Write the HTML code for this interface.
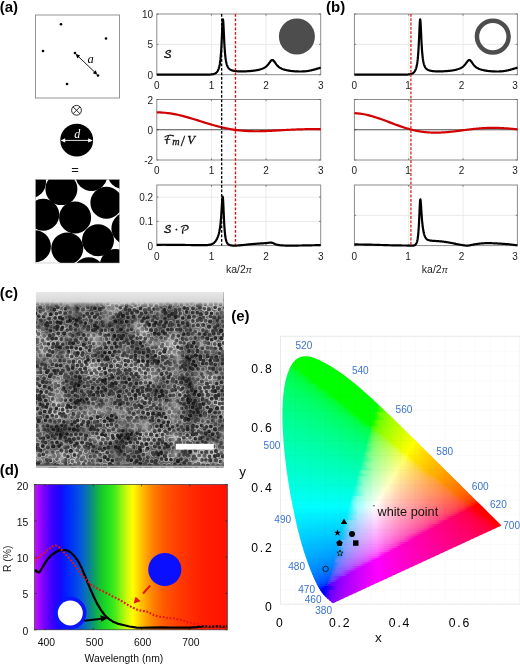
<!DOCTYPE html>
<html lang="en"><head><meta charset="utf-8"><title>Figure</title>
<style>html,body{margin:0;padding:0;background:#fff}svg{display:block}</style></head>
<body>
<svg width="520" height="665" viewBox="0 0 520 665">
<rect width="520" height="665" fill="#fff"/>
<rect x="156.8" y="14" width="163.9" height="60.7" fill="#fff"/>
<line x1="211.43" y1="14" x2="211.43" y2="74.7" stroke="#e4e4e4" stroke-width="0.8"/>
<line x1="266.07" y1="14" x2="266.07" y2="74.7" stroke="#e4e4e4" stroke-width="0.8"/>
<line x1="156.8" y1="44.35" x2="320.7" y2="44.35" stroke="#e4e4e4" stroke-width="0.8"/>
<rect x="156.8" y="14" width="163.9" height="60.7" fill="none" stroke="#8c8c8c" stroke-width="1"/>
<path d="M211.43 74.7v-1.7M211.43 14v1.7" stroke="#555" stroke-width="0.7"/>
<path d="M266.07 74.7v-1.7M266.07 14v1.7" stroke="#555" stroke-width="0.7"/>
<path d="M156.8 74.7h1.7M320.7 74.7h-1.7" stroke="#555" stroke-width="0.7"/>
<path d="M156.8 44.35h1.7M320.7 44.35h-1.7" stroke="#555" stroke-width="0.7"/>
<path d="M156.8 14h1.7M320.7 14h-1.7" stroke="#555" stroke-width="0.7"/>
<path d="M156.8 74.69 L159.53 74.69 L162.26 74.68 L165 74.68 L167.73 74.68 L170.46 74.68 L173.19 74.68 L175.92 74.68 L178.65 74.68 L181.39 74.68 L184.12 74.68 L186.85 74.68 L189.58 74.68 L192.31 74.68 L195.04 74.67 L197.78 74.67 L200.51 74.67 L203.24 74.66 L205.97 74.64 L206.24 74.64 L206.52 74.64 L206.79 74.63 L207.06 74.63 L207.34 74.62 L207.61 74.62 L207.88 74.61 L208.16 74.61 L208.43 74.6 L208.7 74.59 L208.97 74.58 L209.25 74.57 L209.52 74.56 L209.79 74.55 L210.07 74.54 L210.34 74.52 L210.61 74.5 L210.89 74.48 L211.16 74.46 L211.43 74.43 L211.71 74.4 L211.98 74.36 L212.25 74.33 L212.53 74.28 L212.8 74.23 L213.07 74.18 L213.35 74.11 L213.62 74.04 L213.89 73.96 L214.17 73.87 L214.44 73.77 L214.71 73.65 L214.98 73.52 L215.26 73.38 L215.53 73.21 L215.8 73.03 L216.08 72.82 L216.35 72.58 L216.62 72.32 L216.9 72.01 L217.17 71.67 L217.44 71.28 L217.72 70.84 L217.99 70.34 L218.26 69.75 L218.54 69.08 L218.81 68.3 L219.08 67.39 L219.36 66.32 L219.63 65.04 L219.9 63.51 L220.17 61.67 L220.45 59.43 L220.72 56.68 L220.99 53.32 L221.27 49.2 L221.54 44.24 L221.81 38.45 L222.09 32.14 L222.36 26.03 L222.63 21.33 L222.91 19.33 L223.18 20.62 L223.45 24.7 L223.73 30.33 L224 36.3 L224.27 41.85 L224.55 46.64 L224.82 50.64 L225.09 53.91 L225.36 56.58 L225.64 58.75 L225.91 60.53 L226.18 61.99 L226.46 63.2 L226.73 64.22 L227 65.07 L227.28 65.8 L227.55 66.42 L227.82 66.96 L228.1 67.42 L228.37 67.82 L228.64 68.17 L228.92 68.48 L229.19 68.76 L229.46 69 L229.74 69.22 L230.01 69.41 L230.28 69.59 L230.56 69.75 L230.83 69.89 L231.1 70.02 L231.37 70.14 L231.65 70.24 L231.92 70.34 L232.19 70.43 L232.47 70.51 L232.74 70.59 L233.01 70.66 L233.29 70.72 L233.56 70.78 L233.83 70.83 L234.11 70.88 L234.38 70.93 L234.65 70.97 L234.93 71.01 L235.2 71.05 L235.47 71.08 L235.75 71.12 L236.02 71.15 L236.29 71.17 L236.56 71.2 L236.84 71.22 L237.11 71.24 L237.38 71.26 L237.66 71.28 L237.93 71.29 L238.2 71.31 L238.48 71.32 L238.75 71.33 L239.02 71.35 L239.3 71.35 L239.57 71.36 L239.84 71.37 L240.12 71.38 L240.39 71.38 L240.66 71.39 L240.94 71.39 L241.21 71.39 L241.48 71.39 L241.75 71.39 L242.03 71.39 L242.3 71.39 L242.57 71.39 L242.85 71.39 L243.12 71.38 L243.39 71.38 L243.67 71.37 L243.94 71.37 L244.21 71.36 L244.9 71.34 L245.58 71.32 L246.26 71.29 L246.94 71.26 L247.63 71.22 L248.31 71.18 L248.99 71.13 L249.68 71.08 L250.36 71.03 L251.04 70.96 L251.73 70.9 L252.41 70.82 L253.09 70.75 L253.77 70.66 L254.46 70.57 L255.14 70.47 L255.82 70.36 L256.51 70.24 L257.19 70.11 L257.87 69.97 L258.55 69.82 L259.24 69.65 L259.92 69.47 L260.6 69.28 L261.29 69.06 L261.97 68.81 L262.65 68.54 L263.34 68.24 L264.02 67.9 L264.7 67.51 L265.38 67.07 L266.07 66.56 L266.75 65.97 L267.43 65.29 L268.12 64.52 L268.8 63.65 L269.48 62.72 L270.16 61.77 L270.85 60.92 L271.53 60.29 L272.21 60.01 L272.9 60.15 L273.58 60.68 L274.26 61.49 L274.94 62.44 L275.63 63.41 L276.31 64.33 L276.99 65.17 L277.68 65.9 L278.36 66.54 L279.04 67.09 L279.73 67.58 L280.41 67.99 L281.09 68.36 L281.77 68.68 L282.46 68.97 L283.14 69.23 L283.82 69.46 L284.51 69.66 L285.19 69.85 L285.87 70.02 L286.55 70.18 L287.24 70.32 L287.92 70.45 L288.6 70.57 L289.29 70.68 L289.97 70.79 L290.65 70.88 L291.33 70.97 L292.02 71.04 L292.7 71.12 L293.38 71.18 L294.07 71.24 L294.75 71.29 L295.43 71.34 L296.12 71.38 L296.8 71.42 L297.48 71.45 L298.16 71.47 L298.85 71.48 L299.53 71.49 L300.21 71.49 L300.9 71.49 L301.58 71.48 L302.26 71.46 L302.94 71.43 L303.63 71.39 L304.31 71.34 L304.99 71.29 L305.68 71.22 L306.36 71.15 L307.04 71.06 L307.72 70.97 L308.41 70.86 L309.09 70.75 L309.77 70.62 L310.46 70.48 L311.14 70.34 L311.82 70.18 L312.5 70.02 L313.19 69.84 L313.87 69.66 L314.55 69.47 L315.24 69.28 L315.92 69.08 L316.6 68.88 L317.29 68.67 L317.97 68.47 L318.65 68.27 L319.33 68.07 L320.02 67.87 L320.7 67.68" fill="none" stroke="#000" stroke-width="2.2" stroke-linejoin="round"/>
<text x="156.8" y="88.6" font-size="10" text-anchor="middle" font-family='"Liberation Sans", "DejaVu Sans", sans-serif' fill="#1c1c1c" >0</text>
<text x="211.43" y="88.6" font-size="10" text-anchor="middle" font-family='"Liberation Sans", "DejaVu Sans", sans-serif' fill="#1c1c1c" >1</text>
<text x="266.07" y="88.6" font-size="10" text-anchor="middle" font-family='"Liberation Sans", "DejaVu Sans", sans-serif' fill="#1c1c1c" >2</text>
<text x="320.7" y="88.6" font-size="10" text-anchor="middle" font-family='"Liberation Sans", "DejaVu Sans", sans-serif' fill="#1c1c1c" >3</text>
<text x="153.1" y="78.7" font-size="10" text-anchor="end" font-family='"Liberation Sans", "DejaVu Sans", sans-serif' fill="#1c1c1c" >0</text>
<text x="153.1" y="48.35" font-size="10" text-anchor="end" font-family='"Liberation Sans", "DejaVu Sans", sans-serif' fill="#1c1c1c" >5</text>
<text x="153.1" y="18" font-size="10" text-anchor="end" font-family='"Liberation Sans", "DejaVu Sans", sans-serif' fill="#1c1c1c" >10</text>
<rect x="156.8" y="99.5" width="163.9" height="60.5" fill="#fff"/>
<line x1="211.43" y1="99.5" x2="211.43" y2="160" stroke="#e4e4e4" stroke-width="0.8"/>
<line x1="266.07" y1="99.5" x2="266.07" y2="160" stroke="#e4e4e4" stroke-width="0.8"/>
<line x1="156.8" y1="129.75" x2="320.7" y2="129.75" stroke="#e4e4e4" stroke-width="0.8"/>
<rect x="156.8" y="99.5" width="163.9" height="60.5" fill="none" stroke="#8c8c8c" stroke-width="1"/>
<path d="M211.43 160v-1.7M211.43 99.5v1.7" stroke="#555" stroke-width="0.7"/>
<path d="M266.07 160v-1.7M266.07 99.5v1.7" stroke="#555" stroke-width="0.7"/>
<path d="M156.8 160h1.7M320.7 160h-1.7" stroke="#555" stroke-width="0.7"/>
<path d="M156.8 129.75h1.7M320.7 129.75h-1.7" stroke="#555" stroke-width="0.7"/>
<path d="M156.8 99.5h1.7M320.7 99.5h-1.7" stroke="#555" stroke-width="0.7"/>
<line x1="156.8" y1="129.75" x2="320.7" y2="129.75" stroke="#111" stroke-width="0.7"/>
<path d="M156.8 112.36 L159.53 112.4 L162.26 112.53 L165 112.74 L167.73 113.04 L170.46 113.42 L173.19 113.87 L175.92 114.4 L178.65 114.99 L181.39 115.64 L184.12 116.34 L186.85 117.08 L189.58 117.87 L192.31 118.68 L195.04 119.52 L197.78 120.37 L200.51 121.23 L203.24 122.09 L205.97 122.94 L206.24 123.02 L206.52 123.1 L206.79 123.19 L207.06 123.27 L207.34 123.35 L207.61 123.44 L207.88 123.52 L208.16 123.6 L208.43 123.69 L208.7 123.77 L208.97 123.85 L209.25 123.93 L209.52 124.01 L209.79 124.09 L210.07 124.17 L210.34 124.26 L210.61 124.34 L210.89 124.42 L211.16 124.5 L211.43 124.58 L211.71 124.66 L211.98 124.73 L212.25 124.81 L212.53 124.89 L212.8 124.97 L213.07 125.05 L213.35 125.12 L213.62 125.2 L213.89 125.28 L214.17 125.35 L214.44 125.43 L214.71 125.51 L214.98 125.58 L215.26 125.66 L215.53 125.73 L215.8 125.81 L216.08 125.88 L216.35 125.95 L216.62 126.03 L216.9 126.1 L217.17 126.17 L217.44 126.24 L217.72 126.31 L217.99 126.38 L218.26 126.46 L218.54 126.53 L218.81 126.6 L219.08 126.66 L219.36 126.73 L219.63 126.8 L219.9 126.87 L220.17 126.94 L220.45 127 L220.72 127.07 L220.99 127.14 L221.27 127.2 L221.54 127.27 L221.81 127.33 L222.09 127.4 L222.36 127.46 L222.63 127.52 L222.91 127.59 L223.18 127.65 L223.45 127.71 L223.73 127.77 L224 127.83 L224.27 127.89 L224.55 127.95 L224.82 128.01 L225.09 128.07 L225.36 128.13 L225.64 128.19 L225.91 128.24 L226.18 128.3 L226.46 128.36 L226.73 128.41 L227 128.47 L227.28 128.52 L227.55 128.58 L227.82 128.63 L228.1 128.68 L228.37 128.74 L228.64 128.79 L228.92 128.84 L229.19 128.89 L229.46 128.94 L229.74 128.99 L230.01 129.04 L230.28 129.09 L230.56 129.13 L230.83 129.18 L231.1 129.23 L231.37 129.28 L231.65 129.32 L231.92 129.37 L232.19 129.41 L232.47 129.46 L232.74 129.5 L233.01 129.54 L233.29 129.58 L233.56 129.63 L233.83 129.67 L234.11 129.71 L234.38 129.75 L234.65 129.79 L234.93 129.83 L235.2 129.87 L235.47 129.9 L235.75 129.94 L236.02 129.98 L236.29 130.01 L236.56 130.05 L236.84 130.09 L237.11 130.12 L237.38 130.15 L237.66 130.19 L237.93 130.22 L238.2 130.25 L238.48 130.28 L238.75 130.32 L239.02 130.35 L239.3 130.38 L239.57 130.41 L239.84 130.44 L240.12 130.46 L240.39 130.49 L240.66 130.52 L240.94 130.55 L241.21 130.57 L241.48 130.6 L241.75 130.62 L242.03 130.65 L242.3 130.67 L242.57 130.7 L242.85 130.72 L243.12 130.74 L243.39 130.76 L243.67 130.78 L243.94 130.81 L244.21 130.83 L244.9 130.87 L245.58 130.92 L246.26 130.96 L246.94 131 L247.63 131.04 L248.31 131.07 L248.99 131.1 L249.68 131.13 L250.36 131.15 L251.04 131.17 L251.73 131.19 L252.41 131.21 L253.09 131.22 L253.77 131.23 L254.46 131.24 L255.14 131.25 L255.82 131.25 L256.51 131.25 L257.19 131.25 L257.87 131.24 L258.55 131.24 L259.24 131.23 L259.92 131.22 L260.6 131.21 L261.29 131.19 L261.97 131.17 L262.65 131.16 L263.34 131.14 L264.02 131.12 L264.7 131.09 L265.38 131.07 L266.07 131.04 L266.75 131.02 L267.43 130.99 L268.12 130.96 L268.8 130.93 L269.48 130.89 L270.16 130.86 L270.85 130.83 L271.53 130.79 L272.21 130.76 L272.9 130.72 L273.58 130.68 L274.26 130.65 L274.94 130.61 L275.63 130.57 L276.31 130.53 L276.99 130.49 L277.68 130.45 L278.36 130.41 L279.04 130.37 L279.73 130.33 L280.41 130.29 L281.09 130.25 L281.77 130.21 L282.46 130.17 L283.14 130.13 L283.82 130.1 L284.51 130.06 L285.19 130.02 L285.87 129.98 L286.55 129.94 L287.24 129.9 L287.92 129.87 L288.6 129.83 L289.29 129.8 L289.97 129.76 L290.65 129.73 L291.33 129.69 L292.02 129.66 L292.7 129.63 L293.38 129.6 L294.07 129.57 L294.75 129.54 L295.43 129.51 L296.12 129.48 L296.8 129.46 L297.48 129.43 L298.16 129.41 L298.85 129.38 L299.53 129.36 L300.21 129.34 L300.9 129.32 L301.58 129.3 L302.26 129.28 L302.94 129.26 L303.63 129.25 L304.31 129.23 L304.99 129.22 L305.68 129.2 L306.36 129.19 L307.04 129.18 L307.72 129.17 L308.41 129.16 L309.09 129.16 L309.77 129.15 L310.46 129.14 L311.14 129.14 L311.82 129.14 L312.5 129.13 L313.19 129.13 L313.87 129.13 L314.55 129.13 L315.24 129.13 L315.92 129.14 L316.6 129.14 L317.29 129.14 L317.97 129.15 L318.65 129.15 L319.33 129.16 L320.02 129.17 L320.7 129.18" fill="none" stroke="#d40000" stroke-width="2.2" stroke-linejoin="round"/>
<text x="156.8" y="173.9" font-size="10" text-anchor="middle" font-family='"Liberation Sans", "DejaVu Sans", sans-serif' fill="#1c1c1c" >0</text>
<text x="211.43" y="173.9" font-size="10" text-anchor="middle" font-family='"Liberation Sans", "DejaVu Sans", sans-serif' fill="#1c1c1c" >1</text>
<text x="266.07" y="173.9" font-size="10" text-anchor="middle" font-family='"Liberation Sans", "DejaVu Sans", sans-serif' fill="#1c1c1c" >2</text>
<text x="320.7" y="173.9" font-size="10" text-anchor="middle" font-family='"Liberation Sans", "DejaVu Sans", sans-serif' fill="#1c1c1c" >3</text>
<text x="153.1" y="164" font-size="10" text-anchor="end" font-family='"Liberation Sans", "DejaVu Sans", sans-serif' fill="#1c1c1c" >-2</text>
<text x="153.1" y="133.75" font-size="10" text-anchor="end" font-family='"Liberation Sans", "DejaVu Sans", sans-serif' fill="#1c1c1c" >0</text>
<text x="153.1" y="103.5" font-size="10" text-anchor="end" font-family='"Liberation Sans", "DejaVu Sans", sans-serif' fill="#1c1c1c" >2</text>
<rect x="156.8" y="185" width="163.9" height="60.6" fill="#fff"/>
<line x1="211.43" y1="185" x2="211.43" y2="245.6" stroke="#e4e4e4" stroke-width="0.8"/>
<line x1="266.07" y1="185" x2="266.07" y2="245.6" stroke="#e4e4e4" stroke-width="0.8"/>
<line x1="156.8" y1="221.36" x2="320.7" y2="221.36" stroke="#e4e4e4" stroke-width="0.8"/>
<line x1="156.8" y1="197.12" x2="320.7" y2="197.12" stroke="#e4e4e4" stroke-width="0.8"/>
<rect x="156.8" y="185" width="163.9" height="60.6" fill="none" stroke="#8c8c8c" stroke-width="1"/>
<path d="M211.43 245.6v-1.7M211.43 185v1.7" stroke="#555" stroke-width="0.7"/>
<path d="M266.07 245.6v-1.7M266.07 185v1.7" stroke="#555" stroke-width="0.7"/>
<path d="M156.8 245.6h1.7M320.7 245.6h-1.7" stroke="#555" stroke-width="0.7"/>
<path d="M156.8 221.36h1.7M320.7 221.36h-1.7" stroke="#555" stroke-width="0.7"/>
<path d="M156.8 197.12h1.7M320.7 197.12h-1.7" stroke="#555" stroke-width="0.7"/>
<path d="M156.8 244.79 L159.53 244.78 L162.26 244.77 L165 244.77 L167.73 244.78 L170.46 244.79 L173.19 244.81 L175.92 244.84 L178.65 244.87 L181.39 244.9 L184.12 244.94 L186.85 244.98 L189.58 245.02 L192.31 245.06 L195.04 245.1 L197.78 245.13 L200.51 245.16 L203.24 245.16 L205.97 245.1 L206.24 245.09 L206.52 245.08 L206.79 245.06 L207.06 245.05 L207.34 245.03 L207.61 245.01 L207.88 244.98 L208.16 244.95 L208.43 244.92 L208.7 244.89 L208.97 244.85 L209.25 244.81 L209.52 244.76 L209.79 244.71 L210.07 244.65 L210.34 244.59 L210.61 244.52 L210.89 244.44 L211.16 244.35 L211.43 244.26 L211.71 244.15 L211.98 244.04 L212.25 243.91 L212.53 243.77 L212.8 243.62 L213.07 243.46 L213.35 243.28 L213.62 243.08 L213.89 242.87 L214.17 242.63 L214.44 242.38 L214.71 242.11 L214.98 241.81 L215.26 241.5 L215.53 241.15 L215.8 240.78 L216.08 240.38 L216.35 239.95 L216.62 239.48 L216.9 238.97 L217.17 238.42 L217.44 237.82 L217.72 237.17 L217.99 236.46 L218.26 235.67 L218.54 234.79 L218.81 233.82 L219.08 232.72 L219.36 231.48 L219.63 230.07 L219.9 228.43 L220.17 226.53 L220.45 224.3 L220.72 221.68 L220.99 218.59 L221.27 214.98 L221.54 210.88 L221.81 206.41 L222.09 202 L222.36 198.4 L222.63 196.67 L222.91 197.65 L223.18 201.43 L223.45 207.13 L223.73 213.48 L224 219.49 L224.27 224.64 L224.55 228.84 L224.82 232.16 L225.09 234.76 L225.36 236.79 L225.64 238.39 L225.91 239.65 L226.18 240.66 L226.46 241.47 L226.73 242.13 L227 242.67 L227.28 243.12 L227.55 243.49 L227.82 243.8 L228.1 244.07 L228.37 244.29 L228.64 244.48 L228.92 244.64 L229.19 244.79 L229.46 244.91 L229.74 245.01 L230.01 245.1 L230.28 245.18 L230.56 245.25 L230.83 245.31 L231.1 245.36 L231.37 245.41 L231.65 245.45 L231.92 245.48 L232.19 245.51 L232.47 245.53 L232.74 245.55 L233.01 245.57 L233.29 245.58 L233.56 245.59 L233.83 245.6 L234.11 245.6 L234.38 245.6 L234.65 245.6 L234.93 245.6 L235.2 245.59 L235.47 245.58 L235.75 245.58 L236.02 245.57 L236.29 245.55 L236.56 245.54 L236.84 245.53 L237.11 245.51 L237.38 245.5 L237.66 245.48 L237.93 245.46 L238.2 245.44 L238.48 245.42 L238.75 245.4 L239.02 245.38 L239.3 245.36 L239.57 245.33 L239.84 245.31 L240.12 245.29 L240.39 245.26 L240.66 245.24 L240.94 245.21 L241.21 245.19 L241.48 245.16 L241.75 245.13 L242.03 245.11 L242.3 245.08 L242.57 245.05 L242.85 245.02 L243.12 245 L243.39 244.97 L243.67 244.94 L243.94 244.91 L244.21 244.88 L244.9 244.81 L245.58 244.74 L246.26 244.67 L246.94 244.6 L247.63 244.53 L248.31 244.46 L248.99 244.39 L249.68 244.33 L250.36 244.26 L251.04 244.2 L251.73 244.14 L252.41 244.07 L253.09 244.02 L253.77 243.96 L254.46 243.9 L255.14 243.85 L255.82 243.8 L256.51 243.75 L257.19 243.7 L257.87 243.65 L258.55 243.6 L259.24 243.56 L259.92 243.52 L260.6 243.47 L261.29 243.43 L261.97 243.39 L262.65 243.35 L263.34 243.3 L264.02 243.25 L264.7 243.2 L265.38 243.15 L266.07 243.08 L266.75 243.01 L267.43 242.94 L268.12 242.85 L268.8 242.77 L269.48 242.7 L270.16 242.64 L270.85 242.64 L271.53 242.7 L272.21 242.84 L272.9 243.06 L273.58 243.34 L274.26 243.64 L274.94 243.93 L275.63 244.2 L276.31 244.43 L276.99 244.63 L277.68 244.8 L278.36 244.94 L279.04 245.05 L279.73 245.15 L280.41 245.23 L281.09 245.3 L281.77 245.36 L282.46 245.41 L283.14 245.45 L283.82 245.48 L284.51 245.51 L285.19 245.54 L285.87 245.55 L286.55 245.57 L287.24 245.58 L287.92 245.59 L288.6 245.59 L289.29 245.6 L289.97 245.6 L290.65 245.6 L291.33 245.6 L292.02 245.59 L292.7 245.59 L293.38 245.58 L294.07 245.58 L294.75 245.57 L295.43 245.56 L296.12 245.56 L296.8 245.55 L297.48 245.54 L298.16 245.53 L298.85 245.52 L299.53 245.51 L300.21 245.5 L300.9 245.49 L301.58 245.48 L302.26 245.47 L302.94 245.46 L303.63 245.44 L304.31 245.43 L304.99 245.42 L305.68 245.41 L306.36 245.4 L307.04 245.38 L307.72 245.37 L308.41 245.35 L309.09 245.34 L309.77 245.33 L310.46 245.31 L311.14 245.3 L311.82 245.28 L312.5 245.27 L313.19 245.26 L313.87 245.24 L314.55 245.23 L315.24 245.22 L315.92 245.21 L316.6 245.2 L317.29 245.19 L317.97 245.18 L318.65 245.18 L319.33 245.17 L320.02 245.17 L320.7 245.17" fill="none" stroke="#000" stroke-width="2.2" stroke-linejoin="round"/>
<text x="156.8" y="259.5" font-size="10" text-anchor="middle" font-family='"Liberation Sans", "DejaVu Sans", sans-serif' fill="#1c1c1c" >0</text>
<text x="211.43" y="259.5" font-size="10" text-anchor="middle" font-family='"Liberation Sans", "DejaVu Sans", sans-serif' fill="#1c1c1c" >1</text>
<text x="266.07" y="259.5" font-size="10" text-anchor="middle" font-family='"Liberation Sans", "DejaVu Sans", sans-serif' fill="#1c1c1c" >2</text>
<text x="320.7" y="259.5" font-size="10" text-anchor="middle" font-family='"Liberation Sans", "DejaVu Sans", sans-serif' fill="#1c1c1c" >3</text>
<text x="153.1" y="249.6" font-size="10" text-anchor="end" font-family='"Liberation Sans", "DejaVu Sans", sans-serif' fill="#1c1c1c" >0</text>
<text x="153.1" y="225.36" font-size="10" text-anchor="end" font-family='"Liberation Sans", "DejaVu Sans", sans-serif' fill="#1c1c1c" >0.1</text>
<text x="153.1" y="201.12" font-size="10" text-anchor="end" font-family='"Liberation Sans", "DejaVu Sans", sans-serif' fill="#1c1c1c" >0.2</text>
<line x1="221.65" y1="14" x2="221.65" y2="245.6" stroke="#000" stroke-width="1.35" stroke-dasharray="2.8 1.7"/>
<line x1="235.47" y1="14" x2="235.47" y2="245" stroke="#e01010" stroke-width="1.35" stroke-dasharray="2.8 1.7"/>
<text x="238.9" y="273.4" font-size="10.5" text-anchor="middle" font-family='"Liberation Sans", "DejaVu Sans", sans-serif' fill="#1c1c1c" >ka/2<tspan font-size="9" font-style="italic">π</tspan></text>
<rect x="354.4" y="14" width="163" height="60.7" fill="#fff"/>
<line x1="408.73" y1="14" x2="408.73" y2="74.7" stroke="#e4e4e4" stroke-width="0.8"/>
<line x1="463.07" y1="14" x2="463.07" y2="74.7" stroke="#e4e4e4" stroke-width="0.8"/>
<line x1="354.4" y1="44.35" x2="517.4" y2="44.35" stroke="#e4e4e4" stroke-width="0.8"/>
<rect x="354.4" y="14" width="163" height="60.7" fill="none" stroke="#8c8c8c" stroke-width="1"/>
<path d="M408.73 74.7v-1.7M408.73 14v1.7" stroke="#555" stroke-width="0.7"/>
<path d="M463.07 74.7v-1.7M463.07 14v1.7" stroke="#555" stroke-width="0.7"/>
<path d="M354.4 74.7h1.7M517.4 74.7h-1.7" stroke="#555" stroke-width="0.7"/>
<path d="M354.4 44.35h1.7M517.4 44.35h-1.7" stroke="#555" stroke-width="0.7"/>
<path d="M354.4 14h1.7M517.4 14h-1.7" stroke="#555" stroke-width="0.7"/>
<path d="M354.4 74.69 L357.12 74.69 L359.83 74.68 L362.55 74.68 L365.27 74.68 L367.98 74.68 L370.7 74.68 L373.42 74.68 L376.13 74.68 L378.85 74.68 L381.57 74.68 L384.28 74.68 L387 74.68 L389.72 74.68 L392.43 74.67 L395.15 74.67 L397.87 74.67 L400.58 74.66 L403.3 74.64 L403.57 74.64 L403.84 74.64 L404.12 74.63 L404.39 74.63 L404.66 74.62 L404.93 74.62 L405.2 74.61 L405.47 74.61 L405.75 74.6 L406.02 74.59 L406.29 74.58 L406.56 74.57 L406.83 74.56 L407.1 74.55 L407.38 74.54 L407.65 74.52 L407.92 74.5 L408.19 74.48 L408.46 74.46 L408.73 74.43 L409 74.4 L409.28 74.36 L409.55 74.33 L409.82 74.28 L410.09 74.23 L410.36 74.18 L410.63 74.11 L410.91 74.04 L411.18 73.96 L411.45 73.87 L411.72 73.77 L411.99 73.65 L412.26 73.52 L412.54 73.38 L412.81 73.21 L413.08 73.03 L413.35 72.82 L413.62 72.58 L413.89 72.32 L414.17 72.01 L414.44 71.67 L414.71 71.28 L414.98 70.84 L415.25 70.34 L415.52 69.75 L415.8 69.08 L416.07 68.3 L416.34 67.39 L416.61 66.32 L416.88 65.04 L417.15 63.51 L417.43 61.67 L417.7 59.43 L417.97 56.68 L418.24 53.32 L418.51 49.2 L418.78 44.24 L419.06 38.45 L419.33 32.14 L419.6 26.03 L419.87 21.33 L420.14 19.33 L420.41 20.62 L420.69 24.7 L420.96 30.33 L421.23 36.3 L421.5 41.85 L421.77 46.64 L422.04 50.64 L422.32 53.91 L422.59 56.58 L422.86 58.75 L423.13 60.53 L423.4 61.99 L423.67 63.2 L423.95 64.22 L424.22 65.07 L424.49 65.8 L424.76 66.42 L425.03 66.96 L425.31 67.42 L425.58 67.82 L425.85 68.17 L426.12 68.48 L426.39 68.76 L426.66 69 L426.93 69.22 L427.21 69.41 L427.48 69.59 L427.75 69.75 L428.02 69.89 L428.29 70.02 L428.56 70.14 L428.84 70.24 L429.11 70.34 L429.38 70.43 L429.65 70.51 L429.92 70.59 L430.19 70.66 L430.47 70.72 L430.74 70.78 L431.01 70.83 L431.28 70.88 L431.55 70.93 L431.82 70.97 L432.1 71.01 L432.37 71.05 L432.64 71.08 L432.91 71.12 L433.18 71.15 L433.45 71.17 L433.73 71.2 L434 71.22 L434.27 71.24 L434.54 71.26 L434.81 71.28 L435.08 71.29 L435.36 71.31 L435.63 71.32 L435.9 71.33 L436.17 71.35 L436.44 71.35 L436.71 71.36 L436.99 71.37 L437.26 71.38 L437.53 71.38 L437.8 71.39 L438.07 71.39 L438.34 71.39 L438.62 71.39 L438.89 71.39 L439.16 71.39 L439.43 71.39 L439.7 71.39 L439.98 71.39 L440.25 71.38 L440.52 71.38 L440.79 71.37 L441.06 71.37 L441.33 71.36 L442.01 71.34 L442.69 71.32 L443.37 71.29 L444.05 71.26 L444.73 71.22 L445.41 71.18 L446.09 71.13 L446.77 71.08 L447.45 71.03 L448.12 70.96 L448.8 70.9 L449.48 70.82 L450.16 70.75 L450.84 70.66 L451.52 70.57 L452.2 70.47 L452.88 70.36 L453.56 70.24 L454.24 70.11 L454.92 69.97 L455.6 69.82 L456.27 69.65 L456.95 69.47 L457.63 69.28 L458.31 69.06 L458.99 68.81 L459.67 68.54 L460.35 68.24 L461.03 67.9 L461.71 67.51 L462.39 67.07 L463.07 66.56 L463.75 65.97 L464.42 65.29 L465.1 64.52 L465.78 63.65 L466.46 62.72 L467.14 61.77 L467.82 60.92 L468.5 60.29 L469.18 60.01 L469.86 60.15 L470.54 60.68 L471.22 61.49 L471.9 62.44 L472.57 63.41 L473.25 64.33 L473.93 65.17 L474.61 65.9 L475.29 66.54 L475.97 67.09 L476.65 67.58 L477.33 67.99 L478.01 68.36 L478.69 68.68 L479.37 68.97 L480.05 69.23 L480.73 69.46 L481.4 69.66 L482.08 69.85 L482.76 70.02 L483.44 70.18 L484.12 70.32 L484.8 70.45 L485.48 70.57 L486.16 70.68 L486.84 70.79 L487.52 70.88 L488.2 70.97 L488.88 71.04 L489.55 71.12 L490.23 71.18 L490.91 71.24 L491.59 71.29 L492.27 71.34 L492.95 71.38 L493.63 71.42 L494.31 71.45 L494.99 71.47 L495.67 71.48 L496.35 71.49 L497.02 71.49 L497.7 71.49 L498.38 71.48 L499.06 71.46 L499.74 71.43 L500.42 71.39 L501.1 71.34 L501.78 71.29 L502.46 71.22 L503.14 71.15 L503.82 71.06 L504.5 70.97 L505.17 70.86 L505.85 70.75 L506.53 70.62 L507.21 70.48 L507.89 70.34 L508.57 70.18 L509.25 70.02 L509.93 69.84 L510.61 69.66 L511.29 69.47 L511.97 69.28 L512.65 69.08 L513.33 68.88 L514 68.67 L514.68 68.47 L515.36 68.27 L516.04 68.07 L516.72 67.87 L517.4 67.68" fill="none" stroke="#000" stroke-width="2.2" stroke-linejoin="round"/>
<text x="354.4" y="88.6" font-size="10" text-anchor="middle" font-family='"Liberation Sans", "DejaVu Sans", sans-serif' fill="#1c1c1c" >0</text>
<text x="407.93" y="88.6" font-size="10" text-anchor="middle" font-family='"Liberation Sans", "DejaVu Sans", sans-serif' fill="#1c1c1c" >1</text>
<text x="461.47" y="88.6" font-size="10" text-anchor="middle" font-family='"Liberation Sans", "DejaVu Sans", sans-serif' fill="#1c1c1c" >2</text>
<text x="515" y="88.6" font-size="10" text-anchor="middle" font-family='"Liberation Sans", "DejaVu Sans", sans-serif' fill="#1c1c1c" >3</text>
<rect x="354.4" y="99.5" width="163" height="60.5" fill="#fff"/>
<line x1="408.73" y1="99.5" x2="408.73" y2="160" stroke="#e4e4e4" stroke-width="0.8"/>
<line x1="463.07" y1="99.5" x2="463.07" y2="160" stroke="#e4e4e4" stroke-width="0.8"/>
<line x1="354.4" y1="129.75" x2="517.4" y2="129.75" stroke="#e4e4e4" stroke-width="0.8"/>
<rect x="354.4" y="99.5" width="163" height="60.5" fill="none" stroke="#8c8c8c" stroke-width="1"/>
<path d="M408.73 160v-1.7M408.73 99.5v1.7" stroke="#555" stroke-width="0.7"/>
<path d="M463.07 160v-1.7M463.07 99.5v1.7" stroke="#555" stroke-width="0.7"/>
<path d="M354.4 160h1.7M517.4 160h-1.7" stroke="#555" stroke-width="0.7"/>
<path d="M354.4 129.75h1.7M517.4 129.75h-1.7" stroke="#555" stroke-width="0.7"/>
<path d="M354.4 99.5h1.7M517.4 99.5h-1.7" stroke="#555" stroke-width="0.7"/>
<line x1="354.4" y1="129.75" x2="517.4" y2="129.75" stroke="#111" stroke-width="0.7"/>
<path d="M354.4 113.11 L357.12 113.29 L359.83 113.58 L362.55 113.98 L365.27 114.5 L367.98 115.11 L370.7 115.81 L373.42 116.6 L376.13 117.45 L378.85 118.37 L381.57 119.33 L384.28 120.33 L387 121.34 L389.72 122.37 L392.43 123.4 L395.15 124.41 L397.87 125.4 L400.58 126.35 L403.3 127.25 L403.57 127.34 L403.84 127.43 L404.12 127.51 L404.39 127.6 L404.66 127.68 L404.93 127.77 L405.2 127.85 L405.47 127.94 L405.75 128.02 L406.02 128.1 L406.29 128.18 L406.56 128.27 L406.83 128.35 L407.1 128.43 L407.38 128.51 L407.65 128.58 L407.92 128.66 L408.19 128.74 L408.46 128.82 L408.73 128.89 L409 128.97 L409.28 129.04 L409.55 129.12 L409.82 129.19 L410.09 129.26 L410.36 129.33 L410.63 129.41 L410.91 129.48 L411.18 129.55 L411.45 129.61 L411.72 129.68 L411.99 129.75 L412.26 129.82 L412.54 129.89 L412.81 129.96 L413.08 130.02 L413.35 130.09 L413.62 130.16 L413.89 130.22 L414.17 130.28 L414.44 130.35 L414.71 130.41 L414.98 130.47 L415.25 130.53 L415.52 130.59 L415.8 130.65 L416.07 130.7 L416.34 130.76 L416.61 130.82 L416.88 130.87 L417.15 130.93 L417.43 130.98 L417.7 131.03 L417.97 131.08 L418.24 131.13 L418.51 131.18 L418.78 131.23 L419.06 131.28 L419.33 131.33 L419.6 131.37 L419.87 131.42 L420.14 131.46 L420.41 131.5 L420.69 131.55 L420.96 131.59 L421.23 131.63 L421.5 131.67 L421.77 131.71 L422.04 131.74 L422.32 131.78 L422.59 131.82 L422.86 131.85 L423.13 131.89 L423.4 131.92 L423.67 131.95 L423.95 131.99 L424.22 132.02 L424.49 132.05 L424.76 132.08 L425.03 132.1 L425.31 132.13 L425.58 132.16 L425.85 132.19 L426.12 132.21 L426.39 132.23 L426.66 132.26 L426.93 132.28 L427.21 132.3 L427.48 132.32 L427.75 132.34 L428.02 132.36 L428.29 132.38 L428.56 132.4 L428.84 132.42 L429.11 132.44 L429.38 132.45 L429.65 132.47 L429.92 132.48 L430.19 132.49 L430.47 132.51 L430.74 132.52 L431.01 132.53 L431.28 132.54 L431.55 132.55 L431.82 132.56 L432.1 132.57 L432.37 132.58 L432.64 132.59 L432.91 132.59 L433.18 132.6 L433.45 132.6 L433.73 132.61 L434 132.61 L434.27 132.62 L434.54 132.62 L434.81 132.62 L435.08 132.62 L435.36 132.62 L435.63 132.62 L435.9 132.62 L436.17 132.62 L436.44 132.62 L436.71 132.62 L436.99 132.62 L437.26 132.61 L437.53 132.61 L437.8 132.61 L438.07 132.6 L438.34 132.6 L438.62 132.59 L438.89 132.58 L439.16 132.57 L439.43 132.57 L439.7 132.56 L439.98 132.55 L440.25 132.54 L440.52 132.53 L440.79 132.52 L441.06 132.51 L441.33 132.49 L442.01 132.46 L442.69 132.43 L443.37 132.39 L444.05 132.34 L444.73 132.3 L445.41 132.25 L446.09 132.2 L446.77 132.15 L447.45 132.09 L448.12 132.03 L448.8 131.97 L449.48 131.9 L450.16 131.84 L450.84 131.77 L451.52 131.7 L452.2 131.62 L452.88 131.55 L453.56 131.47 L454.24 131.39 L454.92 131.31 L455.6 131.23 L456.27 131.15 L456.95 131.07 L457.63 130.98 L458.31 130.9 L458.99 130.81 L459.67 130.72 L460.35 130.63 L461.03 130.55 L461.71 130.46 L462.39 130.37 L463.07 130.28 L463.75 130.19 L464.42 130.1 L465.1 130.01 L465.78 129.93 L466.46 129.84 L467.14 129.75 L467.82 129.67 L468.5 129.58 L469.18 129.5 L469.86 129.41 L470.54 129.33 L471.22 129.25 L471.9 129.17 L472.57 129.1 L473.25 129.02 L473.93 128.94 L474.61 128.87 L475.29 128.8 L475.97 128.73 L476.65 128.67 L477.33 128.6 L478.01 128.54 L478.69 128.48 L479.37 128.42 L480.05 128.36 L480.73 128.31 L481.4 128.26 L482.08 128.21 L482.76 128.17 L483.44 128.13 L484.12 128.09 L484.8 128.05 L485.48 128.02 L486.16 127.98 L486.84 127.96 L487.52 127.93 L488.2 127.91 L488.88 127.89 L489.55 127.88 L490.23 127.86 L490.91 127.85 L491.59 127.85 L492.27 127.84 L492.95 127.84 L493.63 127.84 L494.31 127.85 L494.99 127.86 L495.67 127.87 L496.35 127.88 L497.02 127.9 L497.7 127.91 L498.38 127.93 L499.06 127.96 L499.74 127.98 L500.42 128.01 L501.1 128.04 L501.78 128.08 L502.46 128.11 L503.14 128.15 L503.82 128.19 L504.5 128.23 L505.17 128.27 L505.85 128.32 L506.53 128.37 L507.21 128.42 L507.89 128.47 L508.57 128.52 L509.25 128.57 L509.93 128.63 L510.61 128.68 L511.29 128.74 L511.97 128.8 L512.65 128.86 L513.33 128.92 L514 128.98 L514.68 129.04 L515.36 129.1 L516.04 129.17 L516.72 129.23 L517.4 129.29" fill="none" stroke="#d40000" stroke-width="2.2" stroke-linejoin="round"/>
<text x="354.4" y="173.9" font-size="10" text-anchor="middle" font-family='"Liberation Sans", "DejaVu Sans", sans-serif' fill="#1c1c1c" >0</text>
<text x="407.93" y="173.9" font-size="10" text-anchor="middle" font-family='"Liberation Sans", "DejaVu Sans", sans-serif' fill="#1c1c1c" >1</text>
<text x="461.47" y="173.9" font-size="10" text-anchor="middle" font-family='"Liberation Sans", "DejaVu Sans", sans-serif' fill="#1c1c1c" >2</text>
<text x="515" y="173.9" font-size="10" text-anchor="middle" font-family='"Liberation Sans", "DejaVu Sans", sans-serif' fill="#1c1c1c" >3</text>
<rect x="354.4" y="185" width="163" height="60.6" fill="#fff"/>
<line x1="408.73" y1="185" x2="408.73" y2="245.6" stroke="#e4e4e4" stroke-width="0.8"/>
<line x1="463.07" y1="185" x2="463.07" y2="245.6" stroke="#e4e4e4" stroke-width="0.8"/>
<line x1="354.4" y1="215.3" x2="517.4" y2="215.3" stroke="#e4e4e4" stroke-width="0.8"/>
<rect x="354.4" y="185" width="163" height="60.6" fill="none" stroke="#8c8c8c" stroke-width="1"/>
<path d="M408.73 245.6v-1.7M408.73 185v1.7" stroke="#555" stroke-width="0.7"/>
<path d="M463.07 245.6v-1.7M463.07 185v1.7" stroke="#555" stroke-width="0.7"/>
<path d="M354.4 245.6h1.7M517.4 245.6h-1.7" stroke="#555" stroke-width="0.7"/>
<path d="M354.4 215.3h1.7M517.4 215.3h-1.7" stroke="#555" stroke-width="0.7"/>
<path d="M354.4 244.46 L357.12 244.46 L359.83 244.48 L362.55 244.51 L365.27 244.55 L367.98 244.6 L370.7 244.66 L373.42 244.74 L376.13 244.82 L378.85 244.9 L381.57 244.98 L384.28 245.07 L387 245.15 L389.72 245.23 L392.43 245.3 L395.15 245.37 L397.87 245.42 L400.58 245.47 L403.3 245.5 L403.57 245.5 L403.84 245.5 L404.12 245.5 L404.39 245.51 L404.66 245.51 L404.93 245.51 L405.2 245.51 L405.47 245.51 L405.75 245.52 L406.02 245.52 L406.29 245.52 L406.56 245.52 L406.83 245.52 L407.1 245.53 L407.38 245.53 L407.65 245.53 L407.92 245.53 L408.19 245.54 L408.46 245.54 L408.73 245.54 L409 245.55 L409.28 245.55 L409.55 245.56 L409.82 245.56 L410.09 245.57 L410.36 245.57 L410.63 245.58 L410.91 245.59 L411.18 245.59 L411.45 245.6 L411.72 245.6 L411.99 245.6 L412.26 245.6 L412.54 245.59 L412.81 245.58 L413.08 245.56 L413.35 245.54 L413.62 245.5 L413.89 245.45 L414.17 245.38 L414.44 245.29 L414.71 245.18 L414.98 245.03 L415.25 244.85 L415.52 244.61 L415.8 244.31 L416.07 243.94 L416.34 243.47 L416.61 242.88 L416.88 242.14 L417.15 241.2 L417.43 240.01 L417.7 238.48 L417.97 236.52 L418.24 234.01 L418.51 230.78 L418.78 226.71 L419.06 221.69 L419.33 215.84 L419.6 209.64 L419.87 204.07 L420.14 200.36 L420.41 199.35 L420.69 200.98 L420.96 204.4 L421.23 208.63 L421.5 212.9 L421.77 216.82 L422.04 220.25 L422.32 223.19 L422.59 225.67 L422.86 227.77 L423.13 229.55 L423.4 231.07 L423.67 232.37 L423.95 233.49 L424.22 234.47 L424.49 235.31 L424.76 236.04 L425.03 236.68 L425.31 237.24 L425.58 237.72 L425.85 238.13 L426.12 238.49 L426.39 238.8 L426.66 239.07 L426.93 239.29 L427.21 239.49 L427.48 239.66 L427.75 239.81 L428.02 239.94 L428.29 240.05 L428.56 240.14 L428.84 240.23 L429.11 240.3 L429.38 240.37 L429.65 240.42 L429.92 240.48 L430.19 240.52 L430.47 240.56 L430.74 240.6 L431.01 240.63 L431.28 240.66 L431.55 240.69 L431.82 240.72 L432.1 240.74 L432.37 240.77 L432.64 240.79 L432.91 240.81 L433.18 240.83 L433.45 240.85 L433.73 240.87 L434 240.88 L434.27 240.9 L434.54 240.92 L434.81 240.93 L435.08 240.95 L435.36 240.97 L435.63 240.99 L435.9 241 L436.17 241.02 L436.44 241.04 L436.71 241.05 L436.99 241.07 L437.26 241.09 L437.53 241.11 L437.8 241.13 L438.07 241.15 L438.34 241.17 L438.62 241.19 L438.89 241.22 L439.16 241.24 L439.43 241.26 L439.7 241.29 L439.98 241.31 L440.25 241.34 L440.52 241.36 L440.79 241.39 L441.06 241.42 L441.33 241.45 L442.01 241.52 L442.69 241.6 L443.37 241.68 L444.05 241.77 L444.73 241.86 L445.41 241.96 L446.09 242.06 L446.77 242.17 L447.45 242.28 L448.12 242.39 L448.8 242.51 L449.48 242.63 L450.16 242.75 L450.84 242.88 L451.52 243.01 L452.2 243.14 L452.88 243.28 L453.56 243.41 L454.24 243.55 L454.92 243.69 L455.6 243.82 L456.27 243.96 L456.95 244.1 L457.63 244.24 L458.31 244.37 L458.99 244.51 L459.67 244.64 L460.35 244.76 L461.03 244.88 L461.71 245 L462.39 245.11 L463.07 245.22 L463.75 245.32 L464.42 245.4 L465.1 245.48 L465.78 245.54 L466.46 245.58 L467.14 245.6 L467.82 245.58 L468.5 245.53 L469.18 245.44 L469.86 245.31 L470.54 245.16 L471.22 245.01 L471.9 244.86 L472.57 244.71 L473.25 244.58 L473.93 244.45 L474.61 244.33 L475.29 244.22 L475.97 244.11 L476.65 244.01 L477.33 243.91 L478.01 243.82 L478.69 243.73 L479.37 243.65 L480.05 243.58 L480.73 243.51 L481.4 243.44 L482.08 243.39 L482.76 243.34 L483.44 243.29 L484.12 243.25 L484.8 243.22 L485.48 243.2 L486.16 243.18 L486.84 243.16 L487.52 243.15 L488.2 243.15 L488.88 243.15 L489.55 243.16 L490.23 243.17 L490.91 243.19 L491.59 243.21 L492.27 243.23 L492.95 243.26 L493.63 243.29 L494.31 243.32 L494.99 243.35 L495.67 243.39 L496.35 243.43 L497.02 243.46 L497.7 243.5 L498.38 243.54 L499.06 243.58 L499.74 243.62 L500.42 243.66 L501.1 243.71 L501.78 243.75 L502.46 243.79 L503.14 243.84 L503.82 243.88 L504.5 243.93 L505.17 243.98 L505.85 244.03 L506.53 244.09 L507.21 244.15 L507.89 244.21 L508.57 244.27 L509.25 244.34 L509.93 244.41 L510.61 244.49 L511.29 244.57 L511.97 244.65 L512.65 244.74 L513.33 244.82 L514 244.91 L514.68 244.99 L515.36 245.08 L516.04 245.16 L516.72 245.24 L517.4 245.32" fill="none" stroke="#000" stroke-width="2.2" stroke-linejoin="round"/>
<text x="354.4" y="259.5" font-size="10" text-anchor="middle" font-family='"Liberation Sans", "DejaVu Sans", sans-serif' fill="#1c1c1c" >0</text>
<text x="407.93" y="259.5" font-size="10" text-anchor="middle" font-family='"Liberation Sans", "DejaVu Sans", sans-serif' fill="#1c1c1c" >1</text>
<text x="461.47" y="259.5" font-size="10" text-anchor="middle" font-family='"Liberation Sans", "DejaVu Sans", sans-serif' fill="#1c1c1c" >2</text>
<text x="515" y="259.5" font-size="10" text-anchor="middle" font-family='"Liberation Sans", "DejaVu Sans", sans-serif' fill="#1c1c1c" >3</text>
<line x1="410.91" y1="14" x2="410.91" y2="245" stroke="#e02020" stroke-width="1.3" stroke-dasharray="2.8 1.5"/>
<text x="434.8" y="273.4" font-size="10.5" text-anchor="middle" font-family='"Liberation Sans", "DejaVu Sans", sans-serif' fill="#1c1c1c" >ka/2<tspan font-size="9" font-style="italic">π</tspan></text>
<circle cx="296.9" cy="36.5" r="18" fill="#4d4d4d"/>
<circle cx="492.8" cy="36.6" r="15.85" fill="none" stroke="#4d4d4d" stroke-width="4.5"/>
<text font-family='"DejaVu Math TeX Gyre", "DejaVu Serif", "DejaVu Sans", serif' fill="#111" stroke="#111" stroke-width="0.3" font-size="11.8"><tspan x="163" y="58.2">𝒮</tspan></text>
<text font-family='"DejaVu Math TeX Gyre", "DejaVu Serif", "DejaVu Sans", serif' fill="#111" stroke="#111" stroke-width="0.3" font-size="12.3"><tspan x="163.6" y="143.6">ℱ</tspan><tspan x="172.3" y="145.4" font-size="10.2" font-style="italic" font-family='"Liberation Serif", "DejaVu Serif", serif'>m</tspan><tspan x="180.8" y="145.6" font-size="15.5" font-family='"Liberation Serif", "DejaVu Serif", serif'>/</tspan><tspan x="187.2" y="143.6" font-size="12.6" font-style="italic" font-family='"Liberation Serif", "DejaVu Serif", serif'>V</tspan></text>
<text font-family='"DejaVu Math TeX Gyre", "DejaVu Serif", "DejaVu Sans", serif' fill="#111" stroke="#111" stroke-width="0.3" font-size="11.6"><tspan x="163" y="233">𝒮</tspan><tspan x="174.8" y="233">·</tspan><tspan x="179.8" y="233">𝒫</tspan></text>
<text x="-0.3" y="11.7" font-size="15" text-anchor="start" font-family='"Liberation Sans", "DejaVu Sans", sans-serif' fill="#000" font-weight="bold">(a)</text>
<text x="326.1" y="11.6" font-size="15" text-anchor="start" font-family='"Liberation Sans", "DejaVu Sans", sans-serif' fill="#000" font-weight="bold">(b)</text>
<text x="-0.3" y="297.7" font-size="15" text-anchor="start" font-family='"Liberation Sans", "DejaVu Sans", sans-serif' fill="#000" font-weight="bold">(c)</text>
<text x="-0.3" y="475.4" font-size="15" text-anchor="start" font-family='"Liberation Sans", "DejaVu Sans", sans-serif' fill="#000" font-weight="bold">(d)</text>
<text x="231.2" y="321.2" font-size="15" text-anchor="start" font-family='"Liberation Sans", "DejaVu Sans", sans-serif' fill="#000" font-weight="bold">(e)</text>
<rect x="35.5" y="15" width="84" height="83" fill="#fff" stroke="#8a8a8a" stroke-width="0.9"/>
<circle cx="61" cy="24.2" r="1.3" fill="#000"/>
<circle cx="106" cy="38.5" r="1.3" fill="#000"/>
<circle cx="43" cy="51" r="1.3" fill="#000"/>
<circle cx="75" cy="53" r="1.3" fill="#000"/>
<circle cx="98" cy="75.5" r="1.3" fill="#000"/>
<circle cx="67" cy="84" r="1.3" fill="#000"/>
<path d="M77.2 55.4 L95.8 73.2" stroke="#000" stroke-width="0.9"/>
<path d="M75.6 53.8 l4.6 1.6 l-2.9 3 z M97.4 74.8 l-4.6 -1.6 l2.9 -3 z" fill="#000"/>
<text x="90.5" y="63.2" font-size="12.5" text-anchor="middle" font-family='"Liberation Serif", "DejaVu Serif", serif' fill="#000" font-style="italic">a</text>
<circle cx="76.5" cy="110.3" r="4.9" fill="none" stroke="#111" stroke-width="0.9"/><path d="M73 106.8l7 7M80 106.8l-7 7" stroke="#111" stroke-width="0.9"/>
<circle cx="76.7" cy="140.2" r="16.4" fill="#000"/>
<path d="M63 140.4H90.4" stroke="#fff" stroke-width="0.9"/><path d="M60.6 140.4l4.6 -2.1v4.2zM92.8 140.4l-4.6 -2.1v4.2z" fill="#fff"/>
<text x="77.3" y="138" font-size="12" text-anchor="middle" font-family='"Liberation Serif", "DejaVu Serif", serif' fill="#fff" font-style="italic">d</text>
<text x="75" y="174" font-size="13" text-anchor="middle" font-family='"Liberation Sans", "DejaVu Sans", sans-serif' fill="#111" >=</text>
<clipPath id="cb"><rect x="35.5" y="179.4" width="84" height="83.6"/></clipPath>
<rect x="35.5" y="179.4" width="84" height="83.6" fill="#fff"/>
<g clip-path="url(#cb)" fill="#000">
<circle cx="30" cy="182.3" r="16"/>
<circle cx="61.4" cy="189.1" r="16"/>
<circle cx="91.4" cy="175" r="16"/>
<circle cx="123.5" cy="173.2" r="16"/>
<circle cx="106.4" cy="202.8" r="16"/>
<circle cx="43.2" cy="214.8" r="16"/>
<circle cx="75.1" cy="217.4" r="16"/>
<circle cx="127.4" cy="228.3" r="16"/>
<circle cx="98" cy="240.2" r="16"/>
<circle cx="67.3" cy="248.4" r="16"/>
<circle cx="34.9" cy="246.2" r="16"/>
<circle cx="115.9" cy="265.1" r="16"/>
<circle cx="88.8" cy="273.3" r="16"/>
</g>
<rect x="35.5" y="179.4" width="84" height="83.6" fill="none" stroke="#aaa" stroke-width="0.5"/>
<defs>
<filter id="nz" x="0" y="0" width="100%" height="100%" color-interpolation-filters="sRGB">
<feTurbulence type="fractalNoise" baseFrequency="0.045" numOctaves="3" seed="7" result="t"/>
<feColorMatrix type="matrix" values="0 0 0 0 0  0 0 0 0 0  0 0 0 0 0  1.5 0 0 0 -0.5"/>
</filter>
<filter id="nz2" x="0" y="0" width="100%" height="100%" color-interpolation-filters="sRGB">
<feTurbulence type="fractalNoise" baseFrequency="0.06" numOctaves="3" seed="21" result="t"/>
<feColorMatrix type="matrix" values="0 0 0 0 0.92  0 0 0 0 0.92  0 0 0 0 0.92  0 1.5 0 0 -0.72"/>
</filter>
<filter id="nzf" x="0" y="0" width="100%" height="100%" color-interpolation-filters="sRGB">
<feTurbulence type="fractalNoise" baseFrequency="0.55" numOctaves="2" seed="4"/>
<feColorMatrix type="matrix" values="0 0 0 0 0.5  0 0 0 0 0.5  0 0 0 0 0.5  0 0 0 1.2 -0.35"/>
</filter>
<filter id="bl" x="0" y="0" width="100%" height="100%"><feGaussianBlur stdDeviation="0.35"/></filter>
<clipPath id="cc"><rect x="36.0" y="292.0" width="187.8" height="175.6"/></clipPath>
</defs>
<g clip-path="url(#cc)">
<rect x="36.0" y="292.0" width="187.8" height="175.6" fill="#686868"/>
<g filter="url(#bl)">
<path d="M33.2 300.1h0M38.9 300.2h0M45.2 299.9h0M48.1 300.7h0M53.9 300.4h0M59.4 301.1h0M64.7 300.5h0M69.8 300.3h0M75.0 299.3h0M80.3 299.7h0M84.7 300.2h0M87.8 298.9h0M95.4 299.8h0M99.0 299.7h0M104.3 300.3h0M110.2 298.6h0M114.5 299.0h0M120.2 300.2h0M125.0 300.2h0M127.7 301.1h0M133.5 298.7h0M138.4 300.8h0M144.3 300.8h0M149.3 300.2h0M153.2 298.6h0M157.8 300.1h0M163.4 299.3h0M168.4 301.4h0M173.9 300.1h0M179.2 300.4h0M183.8 300.7h0M188.8 299.3h0M193.5 300.9h0M197.6 300.3h0M204.4 299.5h0M210.3 300.3h0M214.0 300.3h0M218.3 299.9h0M223.5 299.6h0M37.5 303.6h0M42.3 302.9h0M47.2 303.8h0M52.4 303.5h0M56.3 304.9h0M61.0 303.8h0M67.4 305.7h0M72.2 303.5h0M75.8 305.2h0M82.9 303.8h0M87.6 303.9h0M91.0 303.2h0M97.4 303.6h0M101.3 304.1h0M107.8 303.3h0M112.8 305.5h0M116.7 305.8h0M122.2 305.3h0M126.6 305.5h0M132.9 303.2h0M135.1 305.2h0M142.7 305.5h0M145.0 305.1h0M150.9 304.8h0M156.2 305.6h0M161.0 303.6h0M167.4 303.0h0M170.4 305.5h0M175.7 303.7h0M181.5 304.5h0M187.3 303.6h0M191.6 303.0h0M197.6 305.2h0M200.1 304.3h0M205.3 304.3h0M210.9 303.9h0M215.9 303.6h0M220.4 304.5h0M226.7 303.0h0M34.5 308.8h0M40.2 307.3h0M43.4 310.0h0M47.6 307.8h0M54.3 309.6h0M57.9 307.2h0M65.4 308.8h0M68.9 307.5h0M74.5 309.4h0M77.8 308.9h0M82.9 309.5h0M87.8 307.5h0M95.0 308.2h0M100.0 309.2h0M103.4 307.4h0M109.1 307.9h0M112.8 308.8h0M120.1 307.7h0M125.5 309.1h0M129.6 310.0h0M134.3 310.0h0M140.4 308.3h0M145.0 310.1h0M149.2 308.9h0M154.0 309.1h0M157.8 309.4h0M164.3 309.7h0M169.8 307.6h0M175.3 309.7h0M179.5 309.7h0M184.3 308.0h0M187.6 308.6h0M193.0 308.2h0M199.8 307.6h0M204.3 308.6h0M208.9 309.3h0M215.1 307.3h0M219.4 309.5h0M225.1 307.9h0M35.4 313.4h0M40.5 311.6h0M45.3 313.9h0M50.8 314.2h0M56.4 313.7h0M60.1 312.5h0M65.2 313.4h0M70.4 312.4h0M77.0 311.8h0M80.3 314.3h0M87.3 313.8h0M92.0 313.5h0M97.3 314.4h0M101.6 313.5h0M105.2 312.4h0M110.5 313.4h0M116.1 314.2h0M120.3 313.2h0M127.2 313.3h0M131.9 312.9h0M137.1 311.8h0M141.6 313.7h0M145.8 312.6h0M151.4 312.3h0M157.6 314.3h0M162.4 311.7h0M165.5 313.3h0M172.3 313.7h0M175.6 312.7h0M180.4 313.3h0M186.6 312.0h0M192.6 312.6h0M197.5 312.8h0M200.9 314.2h0M206.5 313.1h0M211.5 313.3h0M217.3 313.5h0M221.6 312.9h0M225.6 313.9h0M34.2 318.7h0M38.9 316.1h0M43.6 316.5h0M49.1 318.6h0M55.1 317.9h0M60.1 317.6h0M62.7 318.8h0M70.1 317.1h0M73.4 318.2h0M80.0 317.9h0M83.9 316.0h0M89.4 316.7h0M94.8 317.0h0M100.2 318.0h0M103.8 316.9h0M110.4 318.2h0M112.9 317.2h0M118.1 316.3h0M123.0 315.9h0M128.0 317.3h0M133.7 316.8h0M139.6 316.5h0M144.0 318.5h0M147.8 317.2h0M154.4 316.9h0M157.7 318.0h0M164.9 318.7h0M169.2 315.9h0M175.5 316.8h0M178.8 316.1h0M182.8 317.9h0M189.0 317.3h0M194.0 316.8h0M199.9 318.6h0M203.4 317.6h0M210.3 316.4h0M214.0 317.5h0M219.8 317.0h0M223.6 316.4h0M35.7 322.5h0M40.8 320.7h0M47.1 323.0h0M50.5 322.4h0M57.3 322.2h0M60.7 322.7h0M67.6 321.5h0M70.0 320.7h0M76.7 320.5h0M80.6 322.2h0M85.4 323.1h0M90.9 320.8h0M96.3 322.5h0M102.4 321.8h0M105.5 320.4h0M110.1 323.0h0M115.3 321.5h0M121.8 322.1h0M126.8 321.5h0M132.5 321.9h0M135.4 320.2h0M141.9 321.2h0M147.3 322.9h0M152.4 320.4h0M155.7 322.7h0M160.7 321.5h0M166.0 322.4h0M170.7 322.8h0M177.8 321.8h0M182.8 322.9h0M187.7 323.1h0M192.8 321.0h0M197.7 320.2h0M201.5 320.3h0M205.6 320.8h0M210.1 321.6h0M217.3 320.6h0M222.7 321.5h0M226.5 322.6h0M35.4 327.1h0M38.8 327.3h0M45.5 325.1h0M47.6 325.6h0M54.7 327.3h0M57.5 326.4h0M62.6 327.3h0M70.5 326.9h0M75.4 324.6h0M77.5 325.8h0M84.3 326.9h0M88.3 326.5h0M94.7 325.5h0M97.6 327.5h0M103.2 324.9h0M109.8 325.5h0M112.5 324.6h0M117.7 326.9h0M124.1 326.7h0M128.7 326.0h0M133.0 326.5h0M138.7 325.5h0M144.9 325.8h0M149.2 324.9h0M154.0 325.2h0M159.3 324.6h0M164.1 325.9h0M169.8 325.3h0M172.7 324.6h0M178.8 325.4h0M184.5 327.3h0M187.6 325.1h0M193.5 325.7h0M197.9 325.2h0M203.2 325.1h0M209.1 326.7h0M215.0 327.1h0M217.7 325.3h0M223.3 326.1h0M35.7 331.7h0M42.7 329.3h0M46.2 328.8h0M50.5 330.7h0M56.9 329.2h0M61.6 329.3h0M67.3 330.1h0M70.8 329.2h0M75.4 329.9h0M82.8 328.8h0M87.9 329.5h0M92.9 330.3h0M95.1 329.8h0M101.2 330.4h0M105.4 330.2h0M112.3 329.7h0M117.9 331.3h0M120.8 329.4h0M127.9 330.0h0M131.7 329.3h0M138.0 330.9h0M142.3 329.1h0M146.3 329.2h0M151.0 330.3h0M156.0 329.9h0M162.8 331.4h0M167.9 329.7h0M171.8 329.5h0M176.9 329.7h0M180.4 329.8h0M186.6 330.1h0M190.2 330.1h0M195.2 331.4h0M202.9 329.9h0M206.6 331.5h0M212.6 330.9h0M215.9 330.3h0M221.1 330.8h0M226.5 329.8h0M32.7 333.1h0M38.5 334.0h0M44.1 335.9h0M49.7 335.6h0M53.5 334.9h0M58.2 333.6h0M64.2 333.5h0M70.1 334.4h0M72.5 335.6h0M78.3 334.3h0M83.8 335.0h0M88.4 335.1h0M93.8 335.4h0M100.0 334.1h0M105.2 335.6h0M108.8 334.9h0M114.4 336.0h0M119.1 335.8h0M123.2 335.6h0M130.0 335.6h0M133.4 336.1h0M138.1 334.0h0M144.2 334.2h0M148.4 335.7h0M154.7 333.8h0M158.8 334.1h0M165.1 333.8h0M167.9 335.9h0M173.4 335.4h0M178.2 335.8h0M183.7 334.3h0M188.3 333.9h0M192.8 333.8h0M199.2 333.9h0M204.9 334.2h0M209.6 334.7h0M213.8 333.7h0M218.6 333.4h0M224.0 334.9h0M37.7 339.5h0M42.5 340.4h0M48.0 338.9h0M52.2 338.5h0M56.0 338.5h0M61.4 339.1h0M66.5 339.2h0M70.3 339.8h0M75.9 340.1h0M81.0 338.7h0M86.3 339.1h0M91.4 339.2h0M97.1 339.2h0M100.3 339.1h0M106.5 339.1h0M112.7 339.1h0M117.2 339.3h0M121.5 338.0h0M126.6 340.2h0M130.9 338.3h0M137.1 338.2h0M140.6 337.8h0M145.4 338.6h0M151.7 339.0h0M155.7 340.4h0M161.0 337.8h0M165.7 338.8h0M172.5 337.9h0M176.5 340.5h0M182.7 338.8h0M186.7 339.2h0M190.9 338.3h0M195.1 338.0h0M202.4 337.9h0M207.2 338.6h0M211.7 339.7h0M215.4 338.1h0M221.3 338.3h0M226.0 339.9h0M32.9 343.7h0M37.5 342.0h0M44.6 343.5h0M48.3 343.9h0M53.3 343.9h0M57.6 343.4h0M62.8 344.2h0M69.9 343.1h0M73.2 343.2h0M78.1 342.3h0M83.7 344.7h0M89.5 342.5h0M93.7 343.6h0M98.9 343.3h0M104.5 344.0h0M108.8 342.7h0M114.9 343.3h0M120.3 343.5h0M123.8 342.2h0M128.2 343.4h0M132.7 342.0h0M140.3 343.0h0M143.9 341.8h0M150.2 341.9h0M155.0 343.3h0M158.4 343.5h0M162.6 344.7h0M167.8 344.0h0M174.8 343.3h0M180.4 342.7h0M184.0 342.9h0M188.8 343.9h0M193.8 342.8h0M198.4 344.0h0M204.7 342.4h0M208.3 343.2h0M214.8 344.0h0M219.5 344.8h0M223.7 343.0h0M37.0 348.9h0M41.3 347.4h0M46.1 348.6h0M52.4 347.3h0M56.6 346.5h0M60.1 347.4h0M67.3 347.6h0M71.5 347.4h0M76.2 348.1h0M80.6 348.8h0M86.2 347.7h0M90.3 346.8h0M97.6 348.8h0M100.5 348.2h0M105.9 347.5h0M111.6 347.9h0M116.7 346.8h0M120.6 346.8h0M127.6 348.7h0M132.2 346.4h0M137.3 348.6h0M142.2 346.1h0M147.8 348.4h0M152.4 347.2h0M156.0 346.8h0M161.7 346.5h0M165.2 348.8h0M170.9 349.0h0M177.8 347.1h0M181.3 348.4h0M187.3 346.8h0M191.7 346.2h0M196.8 346.8h0M202.3 348.0h0M207.7 347.8h0M211.3 348.3h0M215.0 348.5h0M220.8 348.7h0M226.1 347.2h0M32.5 352.1h0M39.0 351.8h0M44.6 351.0h0M49.5 351.0h0M52.7 352.1h0M60.1 353.4h0M63.0 352.4h0M68.5 351.9h0M74.5 353.1h0M77.7 353.1h0M82.8 353.0h0M89.5 350.5h0M94.6 350.6h0M98.1 352.6h0M104.8 352.6h0M109.6 352.4h0M114.8 351.8h0M119.1 351.7h0M124.4 353.2h0M128.3 351.2h0M135.2 351.8h0M139.1 352.6h0M143.5 352.8h0M148.6 351.0h0M153.4 351.8h0M160.0 353.2h0M164.3 351.6h0M169.4 352.0h0M174.4 351.9h0M179.0 353.0h0M182.8 352.5h0M188.7 351.0h0M192.9 352.1h0M197.5 351.0h0M205.4 351.8h0M208.4 352.4h0M212.8 351.4h0M219.3 353.2h0M223.0 351.8h0M35.9 357.7h0M40.7 355.4h0M47.6 355.0h0M50.1 355.3h0M57.6 356.5h0M62.1 356.7h0M67.3 355.5h0M71.7 356.5h0M76.7 355.2h0M82.1 355.0h0M87.8 356.9h0M92.9 355.6h0M95.4 355.3h0M102.2 356.0h0M107.1 357.3h0M112.8 355.3h0M117.2 357.6h0M122.9 355.5h0M127.1 355.7h0M131.1 357.0h0M135.5 355.6h0M142.6 357.7h0M147.5 356.1h0M152.5 357.8h0M155.3 355.9h0M162.6 356.8h0M165.8 357.3h0M171.7 356.1h0M175.2 357.7h0M182.3 355.6h0M187.2 357.3h0M192.2 356.4h0M195.8 355.5h0M200.3 356.5h0M207.6 356.0h0M211.6 357.6h0M216.1 357.0h0M222.7 355.3h0M226.2 356.4h0M35.1 361.4h0M38.1 360.2h0M44.0 359.3h0M50.2 361.0h0M54.9 360.2h0M60.1 360.5h0M64.5 360.4h0M69.1 361.7h0M73.5 361.4h0M79.5 361.9h0M85.5 362.0h0M88.1 359.8h0M93.6 360.7h0M98.7 360.6h0M105.0 359.7h0M107.8 359.4h0M114.7 361.1h0M118.8 359.4h0M125.2 360.6h0M128.2 361.1h0M135.2 359.3h0M138.4 361.1h0M143.0 361.0h0M147.8 361.5h0M155.0 360.8h0M158.1 361.4h0M162.8 359.9h0M167.9 362.0h0M174.7 361.8h0M180.2 362.0h0M182.9 361.5h0M189.3 359.5h0M193.8 361.4h0M200.3 359.2h0M203.5 360.9h0M210.2 360.5h0M214.9 360.2h0M217.6 360.2h0M223.0 359.5h0M37.1 366.4h0M42.1 364.6h0M45.5 365.1h0M52.2 364.4h0M56.6 365.3h0M60.8 365.5h0M67.0 366.3h0M72.9 365.3h0M77.3 365.5h0M81.6 365.2h0M86.9 364.3h0M92.1 365.3h0M95.7 365.0h0M102.2 364.7h0M106.3 365.1h0M111.1 366.3h0M117.5 365.3h0M120.2 366.4h0M125.8 364.8h0M131.4 365.2h0M135.5 363.8h0M141.5 365.6h0M147.2 365.2h0M152.4 363.7h0M157.2 363.6h0M161.2 365.9h0M165.5 363.5h0M170.3 364.0h0M176.1 365.5h0M182.7 366.2h0M185.1 364.5h0M192.5 364.3h0M195.6 365.6h0M202.8 363.5h0M206.7 363.7h0M211.1 363.5h0M215.4 364.7h0M222.3 363.7h0M225.7 363.5h0M33.8 369.4h0M40.3 368.8h0M45.1 368.5h0M48.0 370.6h0M54.2 370.5h0M57.8 370.3h0M62.8 370.7h0M68.4 369.2h0M72.8 368.0h0M80.2 369.5h0M85.2 368.4h0M89.7 370.1h0M94.6 370.4h0M99.4 368.7h0M104.5 368.3h0M109.9 370.6h0M113.9 370.5h0M118.4 370.1h0M125.5 370.3h0M129.7 369.9h0M135.3 368.5h0M139.6 369.9h0M143.9 368.1h0M148.0 369.8h0M152.7 369.6h0M158.4 370.5h0M163.8 368.2h0M169.1 368.9h0M173.1 368.7h0M180.2 368.0h0M185.1 369.5h0M190.5 368.1h0M192.6 369.1h0M198.1 369.0h0M202.9 369.1h0M209.7 368.3h0M213.2 368.8h0M220.4 369.0h0M225.0 369.4h0M37.9 372.6h0M40.7 372.3h0M46.8 372.3h0M51.2 374.2h0M55.7 373.1h0M60.8 373.2h0M65.7 374.4h0M71.3 373.5h0M77.1 372.2h0M82.1 372.6h0M86.1 372.2h0M91.3 373.2h0M96.7 372.9h0M100.9 374.6h0M105.3 372.9h0M111.3 374.8h0M117.6 373.5h0M120.2 372.2h0M126.8 373.0h0M131.2 373.9h0M136.4 374.0h0M141.3 372.4h0M145.5 373.1h0M153.0 373.6h0M156.1 373.1h0M161.5 373.9h0M166.8 373.0h0M170.4 374.2h0M175.5 372.5h0M181.9 375.0h0M187.0 374.1h0M192.7 374.1h0M195.9 374.0h0M201.7 374.0h0M207.4 372.5h0M210.6 373.9h0M216.4 372.4h0M222.0 373.5h0M226.3 373.0h0M32.6 377.2h0M37.8 379.0h0M44.1 378.2h0M49.8 376.4h0M54.2 377.8h0M58.2 378.8h0M64.8 377.0h0M68.2 377.0h0M75.5 376.6h0M79.8 377.3h0M85.0 379.1h0M88.6 377.8h0M94.0 379.1h0M99.7 379.1h0M105.0 379.3h0M109.6 378.7h0M112.6 377.4h0M118.3 378.2h0M124.5 378.1h0M129.3 379.3h0M133.3 376.7h0M138.8 376.7h0M145.2 377.4h0M149.3 376.9h0M154.3 379.0h0M157.8 378.0h0M163.6 378.2h0M168.6 377.1h0M173.0 379.3h0M179.7 378.0h0M182.8 378.2h0M189.3 379.0h0M193.6 378.6h0M197.7 379.3h0M203.1 377.1h0M209.8 377.6h0M214.8 377.5h0M219.1 377.8h0M223.5 377.5h0M37.0 383.5h0M42.9 381.9h0M46.6 382.3h0M50.1 382.1h0M55.3 383.7h0M63.0 383.1h0M66.7 381.1h0M71.4 383.0h0M75.9 383.3h0M80.0 381.3h0M87.8 382.7h0M90.9 381.6h0M97.7 381.6h0M102.9 381.0h0M105.5 383.0h0M112.1 383.3h0M115.8 382.9h0M122.1 382.6h0M126.0 382.5h0M130.9 383.6h0M136.4 383.4h0M140.8 383.0h0M145.5 382.4h0M150.2 382.7h0M156.2 380.8h0M160.4 383.6h0M167.5 382.1h0M172.5 381.6h0M176.1 382.0h0M181.2 382.5h0M186.1 381.2h0M190.5 383.4h0M195.4 382.2h0M201.9 381.6h0M206.9 383.6h0M210.5 382.3h0M216.5 383.5h0M221.5 382.2h0M226.4 382.1h0M34.8 388.1h0M39.7 385.5h0M44.7 386.6h0M49.3 387.9h0M55.5 387.2h0M58.4 385.6h0M63.9 387.9h0M70.2 387.6h0M74.2 386.1h0M78.6 385.2h0M84.5 386.3h0M88.0 385.5h0M92.7 387.9h0M98.2 388.1h0M103.3 387.4h0M109.6 386.0h0M112.6 385.8h0M119.8 385.6h0M124.2 386.9h0M129.5 385.4h0M133.9 387.2h0M140.3 387.9h0M142.6 387.7h0M148.3 386.0h0M153.4 386.0h0M159.0 386.7h0M164.1 386.1h0M168.8 387.0h0M174.5 386.2h0M178.3 387.8h0M182.8 388.1h0M189.4 386.1h0M192.6 385.9h0M199.9 388.0h0M205.0 387.8h0M208.5 387.3h0M213.3 387.1h0M217.9 388.0h0M224.2 387.1h0M37.3 390.8h0M41.1 392.1h0M46.4 392.0h0M51.6 389.7h0M57.2 391.5h0M63.0 389.7h0M65.4 391.7h0M72.3 392.3h0M75.2 389.9h0M81.7 391.1h0M88.0 391.9h0M90.9 392.1h0M97.2 392.3h0M101.5 392.0h0M105.4 389.8h0M111.0 391.4h0M117.9 392.1h0M120.1 391.2h0M126.6 390.9h0M132.6 391.0h0M137.8 390.7h0M142.5 391.5h0M147.0 389.8h0M150.1 389.8h0M156.3 391.1h0M161.7 391.2h0M166.3 391.8h0M172.2 390.1h0M175.3 389.9h0M181.0 389.7h0M187.8 392.0h0M191.7 390.0h0M195.6 391.5h0M201.2 391.6h0M206.5 391.6h0M212.3 391.0h0M215.1 391.1h0M222.1 390.6h0M226.9 389.8h0M35.2 395.5h0M39.5 395.8h0M43.7 396.5h0M50.1 394.3h0M53.2 394.6h0M59.3 396.2h0M65.1 395.8h0M68.9 395.5h0M75.3 395.5h0M77.7 396.3h0M83.7 394.3h0M89.8 395.5h0M93.6 395.0h0M98.1 395.4h0M102.9 395.4h0M109.4 394.1h0M113.0 393.8h0M119.0 396.1h0M125.2 396.4h0M129.3 394.2h0M135.4 395.3h0M139.6 394.0h0M143.8 395.3h0M148.3 395.3h0M155.3 394.9h0M159.4 396.7h0M162.7 395.2h0M170.2 395.4h0M173.6 395.3h0M179.7 395.0h0M185.1 396.0h0M188.8 396.3h0M194.2 394.4h0M199.0 395.0h0M202.5 395.0h0M207.8 394.9h0M215.3 396.1h0M218.6 395.1h0M224.8 394.6h0M36.3 398.3h0M40.0 399.4h0M45.8 400.5h0M52.7 399.0h0M57.4 400.0h0M60.8 399.7h0M65.4 400.1h0M70.9 400.1h0M77.9 401.0h0M81.8 400.2h0M87.0 399.1h0M92.5 399.1h0M95.3 398.7h0M101.3 400.6h0M106.5 400.3h0M111.4 399.7h0M117.5 400.6h0M120.3 400.5h0M126.2 399.2h0M131.1 398.9h0M135.6 398.7h0M142.1 401.0h0M145.9 398.2h0M150.3 399.1h0M155.7 398.9h0M160.4 400.8h0M166.8 400.6h0M170.7 401.0h0M177.2 400.9h0M182.8 399.3h0M187.8 399.9h0M190.4 399.7h0M195.2 400.5h0M202.7 399.2h0M206.3 400.6h0M211.8 398.7h0M216.2 398.4h0M222.2 399.3h0M226.8 398.2h0M35.3 402.9h0M40.0 404.1h0M42.8 405.2h0M47.7 404.1h0M53.8 404.7h0M58.8 405.2h0M62.6 405.3h0M68.0 405.4h0M75.5 402.5h0M78.9 404.2h0M83.5 402.4h0M88.5 403.1h0M93.1 403.7h0M99.0 404.8h0M103.0 404.5h0M110.3 403.5h0M114.8 403.0h0M119.8 404.5h0M122.9 402.9h0M127.9 403.8h0M134.7 405.0h0M138.9 405.2h0M144.8 402.9h0M149.4 402.7h0M153.7 404.8h0M160.1 404.9h0M165.1 403.0h0M170.0 404.9h0M174.2 404.9h0M180.1 403.6h0M184.1 404.1h0M188.4 402.5h0M193.4 403.7h0M200.0 404.7h0M203.5 403.7h0M209.0 402.8h0M215.4 402.4h0M219.5 403.7h0M222.8 403.3h0M37.1 408.7h0M43.0 406.9h0M46.4 407.0h0M50.6 409.3h0M56.3 408.4h0M62.6 409.7h0M67.0 407.6h0M70.7 407.3h0M75.0 407.2h0M80.7 408.5h0M85.4 407.6h0M91.2 409.3h0M96.5 406.9h0M101.0 407.0h0M107.5 408.8h0M110.1 409.5h0M116.7 407.6h0M121.4 408.7h0M127.5 409.1h0M131.7 408.8h0M135.9 407.2h0M141.6 406.9h0M147.2 409.5h0M150.8 407.9h0M156.8 408.0h0M160.7 408.7h0M166.6 408.1h0M172.4 408.3h0M176.5 409.2h0M181.7 408.3h0M186.4 407.2h0M192.7 407.2h0M197.3 409.5h0M200.4 407.4h0M207.3 407.5h0M210.8 409.7h0M217.1 408.2h0M222.4 407.9h0M226.9 407.2h0M34.1 411.7h0M40.1 413.1h0M44.7 411.6h0M49.8 411.9h0M55.0 411.8h0M60.0 413.8h0M63.6 413.8h0M67.8 411.2h0M73.4 413.9h0M78.7 413.2h0M85.0 413.0h0M90.1 412.9h0M94.1 411.7h0M99.1 412.4h0M102.8 414.0h0M108.9 412.1h0M114.8 413.9h0M120.3 412.2h0M123.1 412.2h0M129.2 412.5h0M133.7 413.9h0M138.2 412.1h0M143.0 412.6h0M148.1 413.9h0M153.1 413.4h0M159.0 413.9h0M163.9 413.5h0M169.3 411.9h0M174.8 411.3h0M178.4 411.7h0M183.8 412.3h0M190.1 411.3h0M193.7 412.5h0M198.2 412.3h0M205.0 413.2h0M209.5 411.8h0M215.2 412.5h0M219.3 412.5h0M225.3 412.0h0M37.7 418.1h0M40.4 418.0h0M47.2 416.7h0M52.2 415.7h0M56.4 416.4h0M62.0 415.9h0M65.5 416.5h0M72.0 417.2h0M77.9 416.3h0M82.4 416.0h0M86.5 417.3h0M91.0 418.4h0M97.4 417.1h0M100.8 416.1h0M107.7 418.1h0M111.6 415.7h0M116.3 417.5h0M122.9 416.3h0M127.9 418.0h0M131.0 418.0h0M136.9 418.0h0M141.4 417.7h0M145.1 417.9h0M152.4 417.2h0M156.6 415.5h0M161.7 416.2h0M165.7 417.4h0M172.4 415.9h0M175.8 417.1h0M181.8 416.7h0M185.8 418.4h0M190.1 415.5h0M195.6 418.4h0M200.7 415.7h0M205.0 415.8h0M212.8 417.1h0M215.5 417.5h0M220.8 417.0h0M225.8 418.0h0M34.4 420.4h0M38.8 421.1h0M45.5 420.4h0M50.2 421.0h0M54.8 422.0h0M59.3 420.8h0M64.0 421.9h0M67.9 422.1h0M74.7 422.1h0M77.6 420.4h0M83.4 421.9h0M88.2 422.2h0M94.7 422.1h0M97.5 421.6h0M104.4 421.3h0M110.5 420.4h0M112.7 420.5h0M120.4 422.5h0M124.7 422.2h0M129.1 420.2h0M134.4 421.0h0M137.9 421.2h0M143.9 422.1h0M150.3 421.0h0M152.7 420.5h0M158.7 420.8h0M163.6 422.2h0M168.3 422.1h0M175.1 421.0h0M179.8 422.4h0M184.9 420.1h0M188.7 419.8h0M195.2 421.1h0M198.1 419.9h0M202.7 421.0h0M208.0 421.8h0M213.1 420.4h0M220.0 420.9h0M224.4 420.4h0M37.1 426.1h0M42.9 426.2h0M47.4 425.4h0M51.6 426.8h0M56.6 426.5h0M62.0 425.3h0M65.9 425.8h0M71.7 424.4h0M77.9 426.1h0M81.8 424.3h0M87.5 425.7h0M92.1 427.1h0M96.7 425.7h0M100.2 425.2h0M107.6 425.1h0M111.4 424.5h0M116.7 426.3h0M121.9 424.1h0M127.4 425.5h0M132.6 426.1h0M137.6 425.7h0M140.5 426.9h0M147.4 424.8h0M150.1 427.0h0M156.9 426.2h0M161.4 426.0h0M167.4 425.5h0M172.7 426.8h0M177.4 425.1h0M181.4 426.8h0M187.4 426.6h0M192.9 426.0h0M197.0 426.6h0M201.7 425.6h0M206.5 426.8h0M210.9 426.5h0M215.4 424.3h0M222.3 426.2h0M227.1 424.7h0M33.4 429.1h0M38.3 430.4h0M44.1 429.5h0M47.5 430.7h0M53.3 429.6h0M57.8 429.9h0M64.8 428.7h0M69.5 428.7h0M74.0 429.5h0M77.9 430.2h0M84.0 429.9h0M90.3 429.4h0M94.2 429.2h0M97.9 430.1h0M103.6 431.0h0M109.0 430.6h0M113.3 429.4h0M118.8 430.2h0M122.9 430.6h0M130.1 430.2h0M132.5 430.9h0M139.8 430.0h0M143.7 430.3h0M149.3 428.9h0M154.7 431.1h0M159.4 430.4h0M165.0 431.2h0M169.4 429.1h0M173.8 430.9h0M178.3 429.3h0M183.3 430.0h0M187.6 429.4h0M192.7 429.9h0M198.6 431.3h0M204.4 428.5h0M209.1 431.4h0M215.1 429.2h0M219.8 428.9h0M222.5 430.0h0M37.8 435.4h0M40.2 434.0h0M46.9 435.6h0M52.8 435.7h0M56.4 434.2h0M60.8 435.0h0M67.0 434.1h0M71.1 434.9h0M75.9 434.2h0M80.9 434.3h0M86.1 435.4h0M92.8 433.3h0M96.8 433.4h0M102.0 434.4h0M105.5 435.2h0M112.4 435.5h0M117.7 435.3h0M121.6 435.3h0M127.4 434.4h0M131.1 434.2h0M137.2 433.1h0M140.4 434.3h0M146.2 433.9h0M151.1 434.5h0M156.8 435.4h0M162.5 434.7h0M167.5 433.1h0M171.6 433.5h0M176.0 434.5h0M180.1 434.9h0M187.3 435.2h0M192.8 434.3h0M196.1 434.1h0M201.3 432.9h0M205.6 433.5h0M212.7 434.2h0M217.7 433.3h0M221.2 435.3h0M226.1 435.3h0M32.9 437.5h0M40.1 437.9h0M43.4 438.2h0M48.3 437.3h0M55.0 438.1h0M60.1 438.4h0M65.2 437.9h0M69.5 439.8h0M73.9 439.1h0M78.4 438.2h0M85.3 439.1h0M90.3 440.0h0M93.7 439.5h0M98.4 437.8h0M102.9 439.5h0M107.6 438.6h0M113.1 438.0h0M119.3 437.8h0M125.4 437.8h0M128.5 438.3h0M135.3 439.2h0M139.7 438.4h0M144.6 439.5h0M148.5 439.5h0M154.2 440.0h0M159.4 439.8h0M162.6 438.6h0M170.3 439.7h0M173.1 439.5h0M179.0 439.6h0M183.8 437.8h0M189.9 437.7h0M195.4 438.7h0M200.1 438.2h0M202.8 437.1h0M207.7 439.1h0M213.4 439.9h0M218.3 437.2h0M224.4 437.3h0M37.7 444.4h0M42.9 441.7h0M45.7 442.6h0M52.0 442.7h0M57.0 442.4h0M61.5 444.0h0M66.3 441.5h0M70.9 442.0h0M76.8 443.6h0M82.1 442.6h0M87.3 443.5h0M90.7 444.3h0M95.1 441.8h0M100.7 443.5h0M105.8 442.9h0M110.4 443.1h0M116.3 441.7h0M122.3 441.5h0M126.2 443.4h0M130.3 442.4h0M137.6 442.5h0M141.7 443.9h0M146.4 444.1h0M151.2 443.3h0M158.0 443.5h0M162.5 441.9h0M165.8 444.0h0M171.2 443.9h0M176.5 442.4h0M180.2 442.6h0M187.9 442.2h0M190.5 444.0h0M197.5 443.5h0M202.6 441.6h0M205.7 443.1h0M211.4 444.2h0M216.7 441.5h0M221.4 442.7h0M227.5 442.6h0M35.3 447.8h0M38.2 448.2h0M42.8 446.0h0M48.0 447.4h0M53.2 446.4h0M59.1 446.0h0M65.1 447.2h0M68.0 447.1h0M74.8 445.7h0M78.9 447.0h0M85.1 446.8h0M88.2 447.7h0M93.6 446.6h0M99.8 448.3h0M104.5 448.5h0M108.6 447.4h0M115.5 447.0h0M118.7 447.9h0M123.6 446.9h0M127.6 448.2h0M133.5 446.9h0M139.7 448.0h0M142.7 446.3h0M147.6 448.6h0M154.9 446.6h0M159.2 447.5h0M164.6 447.9h0M168.0 446.5h0M173.6 447.9h0M178.1 448.6h0M185.3 448.3h0M189.1 446.8h0M194.2 448.3h0M199.2 446.5h0M204.7 446.2h0M210.1 447.3h0M213.7 446.3h0M219.6 446.5h0M222.8 447.4h0M37.4 450.5h0M40.5 450.6h0M46.9 452.2h0M52.5 452.5h0M57.7 452.7h0M61.4 450.5h0M66.5 451.2h0M70.9 450.9h0M77.2 450.2h0M80.3 453.0h0M85.8 451.1h0M92.7 450.9h0M96.9 452.3h0M102.6 450.3h0M107.2 452.7h0M112.0 452.1h0M117.3 452.6h0M121.0 451.3h0M127.5 451.4h0M130.2 450.1h0M136.9 452.0h0M140.3 450.9h0M146.4 450.3h0M152.6 452.9h0M156.3 452.4h0M161.3 452.7h0M166.0 452.5h0M172.7 452.2h0M176.5 451.1h0M182.2 451.6h0M185.5 451.9h0M190.2 451.7h0M195.5 450.7h0M201.7 452.3h0M206.2 451.9h0M211.5 452.1h0M216.1 451.1h0M221.2 452.9h0M226.7 451.7h0M34.0 455.1h0M39.2 455.4h0M43.3 454.4h0M50.2 457.3h0M53.6 455.9h0M58.8 455.9h0M64.5 455.0h0M67.9 456.4h0M74.5 455.0h0M78.5 456.0h0M83.3 457.3h0M90.4 456.6h0M94.7 456.4h0M99.9 454.8h0M104.8 457.1h0M110.0 456.0h0M113.5 456.4h0M118.9 454.5h0M124.6 454.7h0M128.3 456.8h0M134.1 456.6h0M138.9 456.5h0M143.4 454.7h0M147.9 457.1h0M153.9 454.8h0M158.3 454.5h0M164.9 455.9h0M170.4 455.6h0M173.2 455.2h0M178.6 454.8h0M184.0 454.8h0M187.8 455.5h0M194.0 456.3h0M199.1 455.4h0M204.5 455.6h0M209.6 456.5h0M214.9 456.1h0M218.1 455.0h0M223.0 456.2h0M35.2 460.8h0M40.1 461.4h0M47.0 459.8h0M50.5 460.4h0M57.0 459.1h0M62.9 461.1h0M65.3 460.0h0M72.4 461.3h0M77.4 460.0h0M81.7 459.1h0M85.2 460.9h0M92.9 461.1h0M97.7 460.2h0M100.6 460.7h0M108.0 459.5h0M112.3 460.7h0M116.9 459.5h0M120.3 459.9h0M127.5 460.0h0M131.2 460.2h0M136.6 461.2h0M140.3 459.1h0M147.0 461.3h0M151.9 461.2h0M156.0 460.8h0M161.6 459.0h0M166.2 459.5h0M171.0 459.7h0M177.9 461.0h0M181.0 459.1h0M186.5 460.4h0M193.0 459.1h0M195.8 458.7h0M201.9 460.0h0M205.9 459.9h0M210.2 460.2h0M216.0 460.2h0M220.7 461.5h0M225.8 460.2h0M34.7 463.9h0M38.0 463.3h0M45.3 464.6h0M47.8 463.8h0M55.1 465.2h0M57.9 465.4h0M65.4 463.7h0M70.3 465.7h0M74.9 464.5h0M78.6 463.2h0M83.6 464.2h0M89.2 463.4h0M93.2 464.5h0M98.0 465.5h0M104.8 465.5h0M110.0 464.1h0M112.8 465.8h0M118.4 463.4h0M124.3 465.5h0M128.1 466.0h0M134.4 463.2h0M140.2 463.7h0M145.1 464.3h0M149.8 465.6h0M155.5 463.2h0M157.7 465.4h0M164.2 465.9h0M168.9 465.8h0M174.8 464.2h0M180.5 465.7h0M184.2 463.1h0M189.8 463.6h0M195.3 464.6h0M198.4 463.7h0M203.2 465.5h0M207.9 465.5h0M213.3 465.2h0M217.9 466.0h0M224.1 464.1h0M38.0 470.3h0M41.7 469.8h0M46.5 469.8h0M51.2 467.6h0M55.1 468.7h0M61.0 470.3h0M66.1 469.8h0M72.7 467.4h0M75.6 468.8h0M80.4 468.7h0M85.1 467.4h0M90.2 467.7h0M97.5 468.1h0M102.7 467.9h0M105.4 468.9h0M112.6 467.5h0M116.4 467.4h0M120.8 468.8h0M125.9 469.5h0M131.4 468.6h0M136.7 469.6h0M140.1 468.3h0M146.5 468.0h0M151.4 469.0h0M155.5 469.5h0M162.4 468.4h0M166.9 470.3h0M170.9 469.8h0M175.5 467.7h0M180.1 469.3h0M186.0 469.1h0M190.3 468.1h0M196.3 468.9h0M201.4 469.9h0M207.8 468.8h0M211.1 469.5h0M217.1 468.6h0M221.7 469.4h0M227.6 469.4h0" stroke="#d8d8d8" stroke-width="5.4" stroke-linecap="round" fill="none"/>
<path d="M33.2 300.1h0M99.0 299.7h0M104.3 300.3h0M110.2 298.6h0M114.5 299.0h0M149.3 300.2h0M188.8 299.3h0M204.4 299.5h0M210.3 300.3h0M91.0 303.2h0M97.4 303.6h0M47.6 307.8h0M100.0 309.2h0M80.3 314.3h0M87.3 313.8h0M120.3 313.2h0M200.9 314.2h0M206.5 313.1h0M169.2 315.9h0M135.4 320.2h0M164.1 325.9h0M215.0 327.1h0M87.9 329.5h0M151.0 330.3h0M171.8 329.5h0M105.2 335.6h0M188.3 333.9h0M224.0 334.9h0M75.9 340.1h0M100.3 339.1h0M155.7 340.4h0M69.9 343.1h0M46.1 348.6h0M90.3 346.8h0M165.2 348.8h0M181.3 348.4h0M226.1 347.2h0M124.4 353.2h0M188.7 351.0h0M171.7 356.1h0M175.2 357.7h0M192.2 356.4h0M211.6 357.6h0M155.0 360.8h0M223.0 359.5h0M147.2 365.2h0M176.1 365.5h0M182.7 366.2h0M68.4 369.2h0M113.9 370.5h0M125.5 370.3h0M129.7 369.9h0M185.1 369.5h0M225.0 369.4h0M192.7 374.1h0M195.9 374.0h0M207.4 372.5h0M75.5 376.6h0M219.1 377.8h0M42.9 381.9h0M160.4 383.6h0M190.5 383.4h0M206.9 383.6h0M168.8 387.0h0M208.5 387.3h0M217.9 388.0h0M224.2 387.1h0M75.2 389.9h0M147.0 389.8h0M109.4 394.1h0M188.8 396.3h0M207.8 394.9h0M150.3 399.1h0M190.4 399.7h0M127.9 403.8h0M174.2 404.9h0M80.7 408.5h0M127.5 409.1h0M197.3 409.5h0M40.1 413.1h0M94.1 411.7h0M138.2 412.1h0M205.0 413.2h0M65.5 416.5h0M100.8 416.1h0M67.9 422.1h0M74.7 422.1h0M97.5 421.6h0M124.7 422.2h0M37.1 426.1h0M92.1 427.1h0M127.4 425.5h0M192.9 426.0h0M227.1 424.7h0M84.0 429.9h0M94.2 429.2h0M118.8 430.2h0M151.1 434.5h0M205.6 433.5h0M221.2 435.3h0M69.5 439.8h0M158.0 443.5h0M162.5 441.9h0M197.5 443.5h0M205.7 443.1h0M88.2 447.7h0M99.8 448.3h0M133.5 446.9h0M168.0 446.5h0M210.1 447.3h0M156.3 452.4h0M226.7 451.7h0M187.8 455.5h0M65.3 460.0h0M81.7 459.1h0M97.7 460.2h0M116.9 459.5h0M45.3 464.6h0M118.4 463.4h0M128.1 466.0h0M145.1 464.3h0M155.5 463.2h0M157.7 465.4h0M85.1 467.4h0M102.7 467.9h0M136.7 469.6h0M166.9 470.3h0M175.5 467.7h0M227.6 469.4h0" stroke="#343434" stroke-width="4.4" stroke-linecap="round" fill="none"/>
<path d="M38.9 300.2h0M45.2 299.9h0M82.9 303.8h0M135.1 305.2h0M142.7 305.5h0M156.2 305.6h0M204.3 308.6h0M178.8 316.1h0M152.4 320.4h0M54.7 327.3h0M133.0 326.5h0M144.9 325.8h0M75.4 329.9h0M146.3 329.2h0M186.6 330.1h0M133.4 336.1h0M138.1 334.0h0M120.3 343.5h0M123.8 342.2h0M180.4 342.7h0M214.8 344.0h0M147.8 348.4h0M44.6 351.0h0M205.4 351.8h0M87.8 356.9h0M214.9 360.2h0M92.1 365.3h0M152.4 363.7h0M89.7 370.1h0M202.9 369.1h0M96.7 372.9h0M141.3 372.4h0M181.9 375.0h0M157.8 378.0h0M50.1 382.1h0M75.9 383.3h0M87.8 382.7h0M34.8 388.1h0M55.5 387.2h0M119.8 385.6h0M140.3 387.9h0M192.6 385.9h0M57.2 391.5h0M117.9 392.1h0M201.2 391.6h0M77.7 396.3h0M125.2 396.4h0M57.4 400.0h0M142.1 401.0h0M78.9 404.2h0M131.7 408.8h0M166.6 408.1h0M181.7 408.3h0M55.0 411.8h0M67.8 411.2h0M56.4 416.4h0M72.0 417.2h0M112.7 420.5h0M51.6 426.8h0M147.4 424.8h0M178.3 429.3h0M46.9 435.6h0M146.2 433.9h0M201.3 432.9h0M217.7 433.3h0M162.6 438.6h0M189.9 437.7h0M202.8 437.1h0M207.7 439.1h0M151.2 443.3h0M202.6 441.6h0M164.6 447.9h0M204.7 446.2h0M213.7 446.3h0M37.4 450.5h0M92.7 450.9h0M127.5 451.4h0M146.4 450.3h0M182.2 451.6h0M64.5 455.0h0M57.0 459.1h0M72.4 461.3h0M74.9 464.5h0M134.4 463.2h0M195.3 464.6h0M38.0 470.3h0M146.5 468.0h0M211.1 469.5h0" stroke="#4e4e4e" stroke-width="3.8" stroke-linecap="round" fill="none"/>
<path d="M48.1 300.7h0M75.0 299.3h0M173.9 300.1h0M218.3 299.9h0M42.3 302.9h0M150.9 304.8h0M187.3 303.6h0M74.5 309.4h0M103.4 307.4h0M109.1 307.9h0M149.2 308.9h0M179.5 309.7h0M97.3 314.4h0M105.2 312.4h0M214.0 317.5h0M40.8 320.7h0M90.9 320.8h0M124.1 326.7h0M159.3 324.6h0M138.0 330.9h0M142.3 329.1h0M156.0 329.9h0M78.3 334.3h0M119.1 335.8h0M148.4 335.7h0M209.6 334.7h0M70.3 339.8h0M126.6 340.2h0M104.5 344.0h0M167.8 344.0h0M74.5 353.1h0M94.6 350.6h0M174.4 351.9h0M208.4 352.4h0M142.6 357.7h0M38.1 360.2h0M69.1 361.7h0M167.9 362.0h0M72.9 365.3h0M169.1 368.9h0M55.7 373.1h0M65.7 374.4h0M71.3 373.5h0M126.8 373.0h0M175.5 372.5h0M222.0 373.5h0M124.5 378.1h0M133.3 376.7h0M163.6 378.2h0M173.0 379.3h0M179.7 378.0h0M71.4 383.0h0M172.5 381.6h0M195.4 382.2h0M201.9 381.6h0M109.6 386.0h0M129.5 385.4h0M191.7 390.0h0M68.9 395.5h0M129.3 394.2h0M111.4 399.7h0M120.3 400.5h0M160.4 400.8h0M62.6 405.3h0M165.1 403.0h0M209.0 402.8h0M78.7 413.2h0M174.8 411.3h0M77.9 416.3h0M86.5 417.3h0M156.6 415.5h0M195.6 418.4h0M59.3 420.8h0M94.7 422.1h0M220.0 420.9h0M181.4 426.8h0M215.4 424.3h0M204.4 428.5h0M219.8 428.9h0M167.5 433.1h0M180.1 434.9h0M144.6 439.5h0M116.3 441.7h0M127.6 448.2h0M178.1 448.6h0M66.5 451.2h0M80.3 453.0h0M204.5 455.6h0M62.9 461.1h0M77.4 460.0h0M147.0 461.3h0M124.3 465.5h0M213.3 465.2h0M90.2 467.7h0M120.8 468.8h0" stroke="#4e4e4e" stroke-width="4.4" stroke-linecap="round" fill="none"/>
<path d="M53.9 300.4h0M133.5 298.7h0M197.6 300.3h0M116.7 305.8h0M132.9 303.2h0M167.4 303.0h0M175.7 303.7h0M154.0 309.1h0M215.1 307.3h0M110.5 313.4h0M145.8 312.6h0M186.6 312.0h0M34.2 318.7h0M55.1 317.9h0M62.7 318.8h0M112.9 317.2h0M144.0 318.5h0M222.7 321.5h0M75.4 324.6h0M35.7 331.7h0M56.9 329.2h0M67.3 330.1h0M127.9 330.0h0M167.9 329.7h0M202.9 329.9h0M123.2 335.6h0M199.2 333.9h0M204.9 334.2h0M48.0 338.9h0M117.2 339.3h0M161.0 337.8h0M32.9 343.7h0M53.3 343.9h0M93.7 343.6h0M162.6 344.7h0M174.8 343.3h0M76.2 348.1h0M89.5 350.5h0M127.1 355.7h0M182.3 355.6h0M60.1 360.5h0M114.7 361.1h0M125.2 360.6h0M200.3 359.2h0M77.3 365.5h0M86.9 364.3h0M99.4 368.7h0M40.7 372.3h0M156.1 373.1h0M68.2 377.0h0M88.6 377.8h0M140.8 383.0h0M39.7 385.5h0M49.3 387.9h0M133.9 387.2h0M148.3 386.0h0M182.8 388.1h0M199.9 388.0h0M90.9 392.1h0M132.6 391.0h0M181.0 389.7h0M102.9 395.4h0M185.1 396.0h0M70.9 400.1h0M216.2 398.4h0M222.2 399.3h0M47.7 404.1h0M99.0 404.8h0M67.0 407.6h0M172.4 408.3h0M192.7 407.2h0M193.7 412.5h0M225.3 412.0h0M122.9 416.3h0M77.6 420.4h0M42.9 426.2h0M62.0 425.3h0M71.7 424.4h0M81.8 424.3h0M87.5 425.7h0M107.6 425.1h0M197.0 426.6h0M53.3 429.6h0M90.3 429.4h0M97.9 430.1h0M130.1 430.2h0M112.4 435.5h0M140.4 434.3h0M156.8 435.4h0M176.0 434.5h0M90.3 440.0h0M126.2 443.4h0M59.1 446.0h0M68.0 447.1h0M115.5 447.0h0M96.9 452.3h0M117.3 452.6h0M43.3 454.4h0M50.5 460.4h0M100.6 460.7h0M205.9 459.9h0M57.9 465.4h0M61.0 470.3h0M66.1 469.8h0M162.4 468.4h0" stroke="#2a2a2a" stroke-width="3.8" stroke-linecap="round" fill="none"/>
<path d="M59.4 301.1h0M179.2 300.4h0M193.5 300.9h0M72.2 303.5h0M112.8 305.5h0M122.2 305.3h0M161.0 303.6h0M68.9 307.5h0M112.8 308.8h0M134.3 310.0h0M157.8 309.4h0M169.8 307.6h0M175.3 309.7h0M77.0 311.8h0M101.6 313.5h0M127.2 313.3h0M151.4 312.3h0M96.3 322.5h0M170.7 322.8h0M190.2 330.1h0M44.1 335.9h0M53.5 334.9h0M130.0 335.6h0M144.2 334.2h0M218.6 333.4h0M37.5 342.0h0M44.6 343.5h0M98.9 343.3h0M143.9 341.8h0M188.8 343.9h0M41.3 347.4h0M132.2 346.4h0M63.0 352.4h0M98.1 352.6h0M153.4 351.8h0M169.4 352.0h0M192.9 352.1h0M223.0 351.8h0M117.2 357.6h0M152.5 357.8h0M54.9 360.2h0M52.2 364.4h0M120.2 366.4h0M131.4 365.2h0M209.7 368.3h0M51.2 374.2h0M117.6 373.5h0M120.2 372.2h0M54.2 377.8h0M154.3 379.0h0M189.3 379.0h0M193.6 378.6h0M37.0 383.5h0M46.6 382.3h0M97.7 381.6h0M145.5 382.4h0M210.5 382.3h0M70.2 387.6h0M74.2 386.1h0M153.4 386.0h0M51.6 389.7h0M88.0 391.9h0M98.1 395.4h0M75.0 407.2h0M108.9 412.1h0M114.8 413.9h0M219.3 412.5h0M175.8 417.1h0M215.5 417.5h0M54.8 422.0h0M208.0 421.8h0M121.9 424.1h0M187.4 426.6h0M57.8 429.9h0M183.3 430.0h0M198.6 431.3h0M135.3 439.2h0M42.9 441.7h0M105.8 442.9h0M187.9 442.2h0M77.2 450.2h0M85.8 451.1h0M110.0 456.0h0M134.1 456.6h0M35.2 460.8h0M89.2 463.4h0M104.8 465.5h0M168.9 465.8h0M51.2 467.6h0M140.1 468.3h0M207.8 468.8h0" stroke="#4e4e4e" stroke-width="4.1" stroke-linecap="round" fill="none"/>
<path d="M64.7 300.5h0M138.4 300.8h0M153.2 298.6h0M170.4 305.5h0M197.6 305.2h0M95.0 308.2h0M120.1 307.7h0M219.4 309.5h0M45.3 313.9h0M211.5 313.3h0M38.9 316.1h0M128.0 317.3h0M182.8 317.9h0M47.1 323.0h0M85.4 323.1h0M192.8 321.0h0M62.6 327.3h0M223.3 326.1h0M32.7 333.1h0M38.5 334.0h0M88.4 335.1h0M178.2 335.8h0M195.1 338.0h0M48.3 343.9h0M89.5 342.5h0M108.8 342.7h0M140.3 343.0h0M80.6 348.8h0M86.2 347.7h0M177.8 347.1h0M196.8 346.8h0M104.8 352.6h0M109.6 352.4h0M47.6 355.0h0M50.1 355.3h0M62.1 356.7h0M155.3 355.9h0M85.5 362.0h0M88.1 359.8h0M93.6 360.7h0M98.7 360.6h0M147.8 361.5h0M193.8 361.4h0M210.2 360.5h0M217.6 360.2h0M125.8 364.8h0M222.3 363.7h0M72.8 368.0h0M104.5 368.3h0M152.7 369.6h0M198.1 369.0h0M91.3 373.2h0M145.5 373.1h0M32.6 377.2h0M94.0 379.1h0M105.0 379.3h0M214.8 377.5h0M112.1 383.3h0M126.0 382.5h0M150.2 382.7h0M63.9 387.9h0M84.5 386.3h0M98.2 388.1h0M175.3 389.9h0M195.6 391.5h0M93.6 395.0h0M159.4 396.7h0M87.0 399.1h0M145.9 398.2h0M40.0 404.1h0M58.8 405.2h0M160.1 404.9h0M188.4 402.5h0M56.3 408.4h0M70.7 407.3h0M44.7 411.6h0M123.1 412.2h0M163.9 413.5h0M107.7 418.1h0M165.7 417.4h0M200.7 415.7h0M220.8 417.0h0M34.4 420.4h0M45.5 420.4h0M64.0 421.9h0M168.3 422.1h0M47.4 425.4h0M177.4 425.1h0M33.4 429.1h0M132.5 430.9h0M169.4 429.1h0M209.1 431.4h0M67.0 434.1h0M117.7 435.3h0M131.1 434.2h0M187.3 435.2h0M195.4 438.7h0M57.0 442.4h0M165.8 444.0h0M112.0 452.1h0M74.5 455.0h0M118.9 454.5h0M199.1 455.4h0M108.0 459.5h0M112.3 460.7h0M166.2 459.5h0M171.0 459.7h0M193.0 459.1h0M195.8 458.7h0M46.5 469.8h0" stroke="#1e1e1e" stroke-width="3.8" stroke-linecap="round" fill="none"/>
<path d="M69.8 300.3h0M125.0 300.2h0M191.6 303.0h0M205.3 304.3h0M65.4 308.8h0M56.4 313.7h0M70.4 312.4h0M92.0 313.5h0M131.9 312.9h0M141.6 313.7h0M192.6 312.6h0M160.7 321.5h0M35.4 327.1h0M77.5 325.8h0M178.8 325.4h0M193.5 325.7h0M50.5 330.7h0M82.8 328.8h0M212.6 330.9h0M93.8 335.4h0M108.8 334.9h0M81.0 338.7h0M112.7 339.1h0M137.1 338.2h0M211.7 339.7h0M128.2 343.4h0M155.0 343.3h0M223.7 343.0h0M127.6 348.7h0M142.2 346.1h0M152.4 347.2h0M82.8 353.0h0M160.0 353.2h0M67.3 355.5h0M118.8 359.4h0M180.2 362.0h0M117.5 365.3h0M141.5 365.6h0M192.5 364.3h0M57.8 370.3h0M139.6 369.9h0M37.9 372.6h0M82.1 372.6h0M111.3 374.8h0M170.4 374.2h0M44.1 378.2h0M118.3 378.2h0M209.8 377.6h0M63.0 383.1h0M90.9 381.6h0M105.5 383.0h0M130.9 383.6h0M186.1 381.2h0M58.4 385.6h0M174.5 386.2h0M63.0 389.7h0M65.4 391.7h0M126.6 390.9h0M222.1 390.6h0M139.6 394.0h0M143.8 395.3h0M65.4 400.1h0M170.7 401.0h0M195.2 400.5h0M42.8 405.2h0M134.7 405.0h0M138.9 405.2h0M200.0 404.7h0M62.6 409.7h0M121.4 408.7h0M63.6 413.8h0M102.8 414.0h0M129.2 412.5h0M52.2 415.7h0M172.4 415.9h0M205.0 415.8h0M212.8 417.1h0M225.8 418.0h0M152.7 420.5h0M202.7 421.0h0M172.7 426.8h0M206.5 426.8h0M165.0 431.2h0M173.8 430.9h0M40.2 434.0h0M56.4 434.2h0M96.8 433.4h0M40.1 437.9h0M43.4 438.2h0M48.3 437.3h0M55.0 438.1h0M60.1 438.4h0M139.7 438.4h0M148.5 439.5h0M154.2 440.0h0M218.3 437.2h0M37.7 444.4h0M45.7 442.6h0M137.6 442.5h0M141.7 443.9h0M171.2 443.9h0M159.2 447.5h0M173.6 447.9h0M107.2 452.7h0M67.9 456.4h0M184.0 454.8h0M85.2 460.9h0M151.9 461.2h0M181.0 459.1h0M83.6 464.2h0M72.7 467.4h0" stroke="#343434" stroke-width="3.8" stroke-linecap="round" fill="none"/>
<path d="M80.3 299.7h0M168.4 301.4h0M43.4 310.0h0M60.1 312.5h0M65.2 313.4h0M197.5 312.8h0M80.0 317.9h0M89.4 316.7h0M194.0 316.8h0M223.6 316.4h0M35.7 322.5h0M177.8 321.8h0M182.8 322.9h0M205.6 320.8h0M217.3 320.6h0M84.3 326.9h0M88.3 326.5h0M117.7 326.9h0M138.7 325.5h0M184.5 327.3h0M217.7 325.3h0M215.9 330.3h0M61.4 339.1h0M130.9 338.3h0M186.7 339.2h0M208.3 343.2h0M37.0 348.9h0M52.4 347.3h0M100.5 348.2h0M161.7 346.5h0M182.8 352.5h0M35.9 357.7h0M122.9 355.5h0M44.0 359.3h0M67.0 366.3h0M95.7 365.0h0M165.5 363.5h0M135.3 368.5h0M77.1 372.2h0M100.9 374.6h0M153.0 373.6h0M187.0 374.1h0M226.3 373.0h0M58.2 378.8h0M109.6 378.7h0M197.7 379.3h0M223.5 377.5h0M80.0 381.3h0M226.4 382.1h0M112.6 385.8h0M159.0 386.7h0M101.5 392.0h0M187.8 392.0h0M226.9 389.8h0M53.2 394.6h0M75.3 395.5h0M202.5 395.0h0M52.7 399.0h0M92.5 399.1h0M117.5 400.6h0M177.2 400.9h0M180.1 403.6h0M176.5 409.2h0M186.4 407.2h0M120.3 412.2h0M40.4 418.0h0M161.7 416.2h0M184.9 420.1h0M224.4 420.4h0M96.7 425.7h0M222.3 426.2h0M77.9 430.2h0M222.5 430.0h0M37.8 435.4h0M80.9 434.3h0M32.9 437.5h0M78.4 438.2h0M85.3 439.1h0M102.9 439.5h0M183.8 437.8h0M87.3 443.5h0M48.0 447.4h0M142.7 446.3h0M46.9 452.2h0M57.7 452.7h0M152.6 452.9h0M166.0 452.5h0M185.5 451.9h0M78.5 456.0h0M83.3 457.3h0M90.4 456.6h0M113.5 456.4h0M147.9 457.1h0M153.9 454.8h0M40.1 461.4h0M120.3 459.9h0M156.0 460.8h0M220.7 461.5h0M34.7 463.9h0M93.2 464.5h0M75.6 468.8h0M116.4 467.4h0M151.4 469.0h0M190.3 468.1h0" stroke="#404040" stroke-width="4.1" stroke-linecap="round" fill="none"/>
<path d="M84.7 300.2h0M87.8 298.9h0M157.8 300.1h0M183.8 300.7h0M61.0 303.8h0M54.3 309.6h0M140.4 308.3h0M164.3 309.7h0M184.3 308.0h0M225.1 307.9h0M40.5 311.6h0M70.1 317.1h0M94.8 317.0h0M147.8 317.2h0M102.4 321.8h0M110.1 323.0h0M141.9 321.2h0M197.7 320.2h0M109.8 325.5h0M128.7 326.0h0M61.6 329.3h0M70.8 329.2h0M112.3 329.7h0M117.9 331.3h0M49.7 335.6h0M72.5 335.6h0M158.8 334.1h0M183.7 334.3h0M37.7 339.5h0M56.0 338.5h0M91.4 339.2h0M145.4 338.6h0M176.5 340.5h0M226.0 339.9h0M71.5 347.4h0M170.9 349.0h0M211.3 348.3h0M220.8 348.7h0M52.7 352.1h0M143.5 352.8h0M179.0 353.0h0M57.6 356.5h0M147.5 356.1h0M216.1 357.0h0M56.6 365.3h0M60.8 365.5h0M202.8 363.5h0M215.4 364.7h0M45.1 368.5h0M54.2 370.5h0M94.6 370.4h0M163.8 368.2h0M201.7 374.0h0M49.8 376.4h0M216.5 383.5h0M221.5 382.2h0M92.7 387.9h0M124.2 386.9h0M142.6 387.7h0M213.3 387.1h0M156.3 391.1h0M179.7 395.0h0M36.3 398.3h0M45.8 400.5h0M106.5 400.3h0M131.1 398.9h0M211.8 398.7h0M35.3 402.9h0M53.8 404.7h0M193.4 403.7h0M101.0 407.0h0M207.3 407.5h0M143.0 412.6h0M169.3 411.9h0M198.2 412.3h0M91.0 418.4h0M116.3 417.5h0M134.4 421.0h0M158.7 420.8h0M77.9 426.1h0M201.7 425.6h0M210.9 426.5h0M149.3 428.9h0M187.6 429.4h0M121.6 435.3h0M137.2 433.1h0M212.7 434.2h0M113.1 438.0h0M159.4 439.8h0M170.3 439.7h0M61.5 444.0h0M70.9 442.0h0M82.1 442.6h0M130.3 442.4h0M104.5 448.5h0M123.6 446.9h0M121.0 451.3h0M195.5 450.7h0M39.2 455.4h0M92.9 461.1h0M65.4 463.7h0M112.8 465.8h0M184.2 463.1h0M207.9 465.5h0M80.4 468.7h0M112.6 467.5h0M186.0 469.1h0M196.3 468.9h0" stroke="#2a2a2a" stroke-width="4.1" stroke-linecap="round" fill="none"/>
<path d="M95.4 299.8h0M223.5 299.6h0M215.9 303.6h0M57.9 307.2h0M129.6 310.0h0M193.0 308.2h0M49.1 318.6h0M100.2 318.0h0M110.4 318.2h0M157.7 318.0h0M67.6 321.5h0M121.8 322.1h0M147.3 322.9h0M226.5 322.6h0M45.5 325.1h0M47.6 325.6h0M70.5 326.9h0M92.9 330.3h0M101.2 330.4h0M162.8 331.4h0M176.9 329.7h0M58.2 333.6h0M70.1 334.4h0M83.8 335.0h0M173.4 335.4h0M213.8 333.7h0M42.5 340.4h0M86.3 339.1h0M140.6 337.8h0M57.6 343.4h0M150.2 341.9h0M198.4 344.0h0M111.6 347.9h0M191.7 346.2h0M215.0 348.5h0M49.5 351.0h0M114.8 351.8h0M139.1 352.6h0M212.8 351.4h0M219.3 353.2h0M71.7 356.5h0M92.9 355.6h0M112.8 355.3h0M162.6 356.8h0M50.2 361.0h0M128.2 361.1h0M203.5 360.9h0M42.1 364.6h0M225.7 363.5h0M48.0 370.6h0M80.2 369.5h0M173.1 368.7h0M192.6 369.1h0M131.2 373.9h0M37.8 379.0h0M145.2 377.4h0M149.3 376.9h0M55.3 383.7h0M167.5 382.1h0M88.0 385.5h0M205.0 387.8h0M46.4 392.0h0M72.3 392.3h0M120.1 391.2h0M142.5 391.5h0M212.3 391.0h0M50.1 394.3h0M194.2 394.4h0M224.8 394.6h0M95.3 398.7h0M88.5 403.1h0M93.1 403.7h0M50.6 409.3h0M96.5 406.9h0M110.1 409.5h0M147.2 409.5h0M156.8 408.0h0M200.4 407.4h0M34.1 411.7h0M49.8 411.9h0M60.0 413.8h0M215.2 412.5h0M131.0 418.0h0M152.4 417.2h0M50.2 421.0h0M83.4 421.9h0M150.3 421.0h0M163.6 422.2h0M179.8 422.4h0M195.2 421.1h0M56.6 426.5h0M65.9 425.8h0M137.6 425.7h0M156.9 426.2h0M167.4 425.5h0M38.3 430.4h0M143.7 430.3h0M159.4 430.4h0M162.5 434.7h0M171.6 433.5h0M73.9 439.1h0M93.7 439.5h0M125.4 437.8h0M224.4 437.3h0M90.7 444.3h0M227.5 442.6h0M38.2 448.2h0M74.8 445.7h0M78.9 447.0h0M118.7 447.9h0M194.2 448.3h0M99.9 454.8h0M124.6 454.7h0M127.5 460.0h0M47.8 463.8h0M78.6 463.2h0M164.2 465.9h0M174.8 464.2h0M198.4 463.7h0M217.9 466.0h0M224.1 464.1h0M155.5 469.5h0M180.1 469.3h0" stroke="#343434" stroke-width="4.1" stroke-linecap="round" fill="none"/>
<path d="M120.2 300.2h0M47.2 303.8h0M52.4 303.5h0M145.0 305.1h0M137.1 311.8h0M172.3 313.7h0M221.6 312.9h0M189.0 317.3h0M80.6 322.2h0M115.3 321.5h0M166.0 322.4h0M210.1 321.6h0M57.5 326.4h0M97.6 327.5h0M180.4 329.8h0M64.2 333.5h0M52.2 338.5h0M66.5 339.2h0M151.7 339.0h0M202.4 337.9h0M132.7 342.0h0M56.6 346.5h0M137.3 348.6h0M156.0 346.8h0M128.3 351.2h0M197.5 351.0h0M131.1 357.0h0M135.5 355.6h0M187.2 357.3h0M226.2 356.4h0M73.5 361.4h0M135.2 359.3h0M174.7 361.8h0M189.3 359.5h0M45.5 365.1h0M170.3 364.0h0M85.2 368.4h0M158.4 370.5h0M190.5 368.1h0M60.8 373.2h0M79.8 377.3h0M168.6 377.1h0M182.8 378.2h0M115.8 382.9h0M44.7 386.6h0M164.1 386.1h0M189.4 386.1h0M97.2 392.3h0M105.4 389.8h0M172.2 390.1h0M35.2 395.5h0M39.5 395.8h0M40.0 399.4h0M202.7 399.2h0M226.8 398.2h0M114.8 403.0h0M210.8 409.7h0M226.9 407.2h0M141.4 417.7h0M181.8 416.7h0M185.8 418.4h0M88.2 422.2h0M213.1 420.4h0M132.6 426.1h0M150.1 427.0h0M109.0 430.6h0M113.3 429.4h0M139.8 430.0h0M215.1 429.2h0M86.1 435.4h0M127.4 434.4h0M200.1 438.2h0M66.3 441.5h0M100.7 443.5h0M221.4 442.7h0M85.1 446.8h0M93.6 446.6h0M139.7 448.0h0M219.6 446.5h0M130.2 450.1h0M172.7 452.2h0M58.8 455.9h0M178.6 454.8h0M214.9 456.1h0M218.1 455.0h0M136.6 461.2h0M186.5 460.4h0M210.2 460.2h0M55.1 465.2h0M180.5 465.7h0M55.1 468.7h0M221.7 469.4h0" stroke="#2a2a2a" stroke-width="4.4" stroke-linecap="round" fill="none"/>
<path d="M127.7 301.1h0M37.5 303.6h0M101.3 304.1h0M181.5 304.5h0M220.4 304.5h0M87.8 307.5h0M187.6 308.6h0M116.1 314.2h0M162.4 311.7h0M180.4 313.3h0M217.3 313.5h0M225.6 313.9h0M73.4 318.2h0M83.9 316.0h0M103.8 316.9h0M164.9 318.7h0M203.4 317.6h0M210.3 316.4h0M50.5 322.4h0M132.5 321.9h0M201.5 320.3h0M46.2 328.8h0M105.4 330.2h0M195.2 331.4h0M167.9 335.9h0M192.8 333.8h0M106.5 339.1h0M190.9 338.3h0M62.8 344.2h0M78.1 342.3h0M184.0 342.9h0M97.6 348.8h0M120.6 346.8h0M39.0 351.8h0M119.1 351.7h0M135.2 351.8h0M82.1 355.0h0M102.2 356.0h0M35.1 361.4h0M79.5 361.9h0M105.0 359.7h0M162.8 359.9h0M182.9 361.5h0M161.2 365.9h0M206.7 363.7h0M33.8 369.4h0M180.2 368.0h0M166.8 373.0h0M99.7 379.1h0M203.1 377.1h0M156.2 380.8h0M176.1 382.0h0M178.3 387.8h0M206.5 391.6h0M155.3 394.9h0M170.2 395.4h0M173.6 395.3h0M135.6 398.7h0M215.4 402.4h0M219.5 403.7h0M222.8 403.3h0M43.0 406.9h0M116.7 407.6h0M160.7 408.7h0M90.1 412.9h0M183.8 412.3h0M190.1 411.3h0M62.0 415.9h0M82.4 416.0h0M145.1 417.9h0M137.9 421.2h0M143.9 422.1h0M175.1 421.0h0M111.4 424.5h0M71.1 434.9h0M75.9 434.2h0M92.8 433.3h0M65.2 437.9h0M98.4 437.8h0M173.1 439.5h0M213.4 439.9h0M52.0 442.7h0M180.2 442.6h0M211.4 444.2h0M199.2 446.5h0M222.8 447.4h0M102.6 450.3h0M201.7 452.3h0M211.5 452.1h0M221.2 452.9h0M34.0 455.1h0M50.2 457.3h0M138.9 456.5h0M143.4 454.7h0M170.4 455.6h0M173.2 455.2h0M209.6 456.5h0M140.3 459.1h0M161.6 459.0h0M225.8 460.2h0M70.3 465.7h0M41.7 469.8h0" stroke="#404040" stroke-width="3.8" stroke-linecap="round" fill="none"/>
<path d="M144.3 300.8h0M210.9 303.9h0M226.7 303.0h0M40.2 307.3h0M125.5 309.1h0M145.0 310.1h0M199.8 307.6h0M208.9 309.3h0M157.6 314.3h0M175.6 312.7h0M118.1 316.3h0M219.8 317.0h0M187.7 323.1h0M38.8 327.3h0M103.2 324.9h0M112.5 324.6h0M154.0 325.2h0M169.8 325.3h0M172.7 324.6h0M42.7 329.3h0M95.1 329.8h0M206.6 331.5h0M100.0 334.1h0M97.1 339.2h0M182.7 338.8h0M158.4 343.5h0M67.3 347.6h0M32.5 352.1h0M148.6 351.0h0M76.7 355.2h0M165.8 357.3h0M222.7 355.3h0M81.6 365.2h0M102.2 364.7h0M106.3 365.1h0M135.5 363.8h0M157.2 363.6h0M211.1 363.5h0M40.3 368.8h0M62.8 370.7h0M118.4 370.1h0M143.9 368.1h0M213.2 368.8h0M86.1 372.2h0M210.6 373.9h0M64.8 377.0h0M85.0 379.1h0M66.7 381.1h0M103.3 387.4h0M37.3 390.8h0M111.0 391.4h0M150.1 389.8h0M166.3 391.8h0M43.7 396.5h0M59.3 396.2h0M83.7 394.3h0M89.8 395.5h0M113.0 393.8h0M148.3 395.3h0M101.3 400.6h0M126.2 399.2h0M155.7 398.9h0M182.8 399.3h0M122.9 402.9h0M153.7 404.8h0M184.1 404.1h0M91.2 409.3h0M135.9 407.2h0M150.8 407.9h0M222.4 407.9h0M85.0 413.0h0M99.1 412.4h0M133.7 413.9h0M178.4 411.7h0M37.7 418.1h0M120.4 422.5h0M129.1 420.2h0M198.1 419.9h0M100.2 425.2h0M140.5 426.9h0M47.5 430.7h0M103.6 431.0h0M154.7 431.1h0M192.7 429.9h0M52.8 435.7h0M107.6 438.6h0M122.3 441.5h0M190.5 444.0h0M108.6 447.4h0M154.9 446.6h0M189.1 446.8h0M136.9 452.0h0M206.2 451.9h0M53.6 455.9h0M128.3 456.8h0M216.0 460.2h0M189.8 463.6h0M203.2 465.5h0M97.5 468.1h0M125.9 469.5h0M201.4 469.9h0" stroke="#404040" stroke-width="4.4" stroke-linecap="round" fill="none"/>
<path d="M163.4 299.3h0M214.0 300.3h0M67.4 305.7h0M107.8 303.3h0M77.8 308.9h0M35.4 313.4h0M50.8 314.2h0M43.6 316.5h0M139.6 316.5h0M199.9 318.6h0M57.3 322.2h0M70.0 320.7h0M126.8 321.5h0M155.7 322.7h0M94.7 325.5h0M149.2 324.9h0M187.6 325.1h0M197.9 325.2h0M131.7 329.3h0M226.5 329.8h0M165.1 333.8h0M165.7 338.8h0M215.4 338.1h0M73.2 343.2h0M114.9 343.3h0M193.8 342.8h0M105.9 347.5h0M116.7 346.8h0M202.3 348.0h0M207.7 347.8h0M60.1 353.4h0M68.5 351.9h0M40.7 355.4h0M95.4 355.3h0M107.1 357.3h0M64.5 360.4h0M143.0 361.0h0M158.1 361.4h0M37.1 366.4h0M195.6 365.6h0M109.9 370.6h0M148.0 369.8h0M220.4 369.0h0M46.8 372.3h0M105.3 372.9h0M161.5 373.9h0M216.4 372.4h0M129.3 379.3h0M138.8 376.7h0M136.4 383.4h0M78.6 385.2h0M41.1 392.1h0M81.7 391.1h0M65.1 395.8h0M215.3 396.1h0M218.6 395.1h0M187.8 399.9h0M68.0 405.4h0M149.4 402.7h0M170.0 404.9h0M37.1 408.7h0M46.4 407.0h0M85.4 407.6h0M107.5 408.8h0M73.4 413.9h0M148.1 413.9h0M209.5 411.8h0M47.2 416.7h0M97.4 417.1h0M111.6 415.7h0M127.9 418.0h0M136.9 418.0h0M104.4 421.3h0M188.7 419.8h0M44.1 429.5h0M69.5 428.7h0M122.9 430.6h0M60.8 435.0h0M102.0 434.4h0M105.5 435.2h0M119.3 437.8h0M179.0 439.6h0M95.1 441.8h0M42.8 446.0h0M185.3 448.3h0M140.3 450.9h0M194.0 456.3h0M131.2 460.2h0M201.9 460.0h0M140.2 463.7h0M131.4 468.6h0M170.9 469.8h0M217.1 468.6h0" stroke="#1e1e1e" stroke-width="4.1" stroke-linecap="round" fill="none"/>
<path d="M56.3 304.9h0M75.8 305.2h0M87.6 303.9h0M126.6 305.5h0M200.1 304.3h0M34.5 308.8h0M82.9 309.5h0M165.5 313.3h0M60.1 317.6h0M123.0 315.9h0M133.7 316.8h0M154.4 316.9h0M175.5 316.8h0M60.7 322.7h0M76.7 320.5h0M105.5 320.4h0M203.2 325.1h0M209.1 326.7h0M120.8 329.4h0M221.1 330.8h0M114.4 336.0h0M154.7 333.8h0M121.5 338.0h0M172.5 337.9h0M207.2 338.6h0M221.3 338.3h0M83.7 344.7h0M204.7 342.4h0M219.5 344.8h0M60.1 347.4h0M187.3 346.8h0M77.7 353.1h0M164.3 351.6h0M195.8 355.5h0M200.3 356.5h0M207.6 356.0h0M107.8 359.4h0M138.4 361.1h0M111.1 366.3h0M185.1 364.5h0M136.4 374.0h0M112.6 377.4h0M102.9 381.0h0M122.1 382.6h0M181.2 382.5h0M137.8 390.7h0M161.7 391.2h0M215.1 391.1h0M119.0 396.1h0M135.4 395.3h0M162.7 395.2h0M199.0 395.0h0M60.8 399.7h0M77.9 401.0h0M81.8 400.2h0M166.8 400.6h0M206.3 400.6h0M75.5 402.5h0M83.5 402.4h0M103.0 404.5h0M110.3 403.5h0M119.8 404.5h0M144.8 402.9h0M203.5 403.7h0M141.6 406.9h0M217.1 408.2h0M153.1 413.4h0M159.0 413.9h0M190.1 415.5h0M38.8 421.1h0M110.5 420.4h0M116.7 426.3h0M161.4 426.0h0M64.8 428.7h0M74.0 429.5h0M192.8 434.3h0M196.1 434.1h0M226.1 435.3h0M128.5 438.3h0M76.8 443.6h0M110.4 443.1h0M146.4 444.1h0M176.5 442.4h0M216.7 441.5h0M35.3 447.8h0M53.2 446.4h0M65.1 447.2h0M147.6 448.6h0M40.5 450.6h0M52.5 452.5h0M61.4 450.5h0M70.9 450.9h0M161.3 452.7h0M176.5 451.1h0M190.2 451.7h0M216.1 451.1h0M94.7 456.4h0M104.8 457.1h0M158.3 454.5h0M164.9 455.9h0M223.0 456.2h0M47.0 459.8h0M177.9 461.0h0M38.0 463.3h0M98.0 465.5h0M110.0 464.1h0M149.8 465.6h0M105.4 468.9h0" stroke="#1e1e1e" stroke-width="4.4" stroke-linecap="round" fill="none"/>
</g>
<rect x="36.0" y="292.0" width="187.8" height="175.6" fill="#000" filter="url(#nz)"/>
<rect x="36.0" y="292.0" width="187.8" height="175.6" fill="#fff" filter="url(#nz2)"/>
<rect x="36.0" y="292.0" width="187.8" height="175.6" filter="url(#nzf)" opacity="0.5"/>
<linearGradient id="tg" x1="0" y1="0" x2="0" y2="1"><stop offset="0" stop-color="#e8e8e8"/><stop offset="0.62" stop-color="#dadada" stop-opacity="0.97"/><stop offset="0.82" stop-color="#ccc" stop-opacity="0.5"/><stop offset="1" stop-color="#bbb" stop-opacity="0"/></linearGradient>
<rect x="36.0" y="292.0" width="187.8" height="15.5" fill="url(#tg)"/>
<rect x="36.0" y="464.6" width="187.8" height="1.2" fill="#555"/>
<rect x="36.0" y="465.8" width="187.8" height="2" fill="#b5b5b5"/>
<rect x="176" y="443.8" width="37.8" height="5.8" fill="#fff"/>
</g>
<linearGradient id="sp" gradientUnits="userSpaceOnUse" x1="34.6" x2="227.3" y1="0" y2="0">
<stop offset="0.0000" stop-color="#c410ff"/>
<stop offset="0.0245" stop-color="#a008ff"/>
<stop offset="0.0545" stop-color="#7000ff"/>
<stop offset="0.0920" stop-color="#3c00ff"/>
<stop offset="0.1345" stop-color="#1408ff"/>
<stop offset="0.1746" stop-color="#0028fc"/>
<stop offset="0.2096" stop-color="#0040f0"/>
<stop offset="0.2396" stop-color="#0458dc"/>
<stop offset="0.2646" stop-color="#0870b8"/>
<stop offset="0.2871" stop-color="#0a8490"/>
<stop offset="0.3071" stop-color="#0c9c68"/>
<stop offset="0.3271" stop-color="#10b444"/>
<stop offset="0.3521" stop-color="#18cc28"/>
<stop offset="0.3822" stop-color="#20e020"/>
<stop offset="0.4172" stop-color="#48ea18"/>
<stop offset="0.4497" stop-color="#90f410"/>
<stop offset="0.4822" stop-color="#d4fa08"/>
<stop offset="0.5097" stop-color="#ffff00"/>
<stop offset="0.5347" stop-color="#ffdc00"/>
<stop offset="0.5648" stop-color="#ffb400"/>
<stop offset="0.6098" stop-color="#ff8400"/>
<stop offset="0.6723" stop-color="#ff5800"/>
<stop offset="0.7599" stop-color="#ff3800"/>
<stop offset="0.8599" stop-color="#ff2000"/>
<stop offset="1.0000" stop-color="#ff1000"/>
</linearGradient>
<rect x="34.6" y="484.5" width="192.7" height="145.3" fill="url(#sp)"/>
<rect x="34.6" y="484.5" width="192.7" height="145.3" fill="none" stroke="#333" stroke-width="0.7"/>
<path d="M45.1 629.8v-1.8M45.1 484.5v1.8" stroke="#222" stroke-width="0.7"/>
<text x="46.3" y="645.8" font-size="10.4" text-anchor="middle" font-family='"Liberation Sans", "DejaVu Sans", sans-serif' fill="#111" >400</text>
<path d="M93.3 629.8v-1.8M93.3 484.5v1.8" stroke="#222" stroke-width="0.7"/>
<text x="94.5" y="645.8" font-size="10.4" text-anchor="middle" font-family='"Liberation Sans", "DejaVu Sans", sans-serif' fill="#111" >500</text>
<path d="M141.5 629.8v-1.8M141.5 484.5v1.8" stroke="#222" stroke-width="0.7"/>
<text x="142.7" y="645.8" font-size="10.4" text-anchor="middle" font-family='"Liberation Sans", "DejaVu Sans", sans-serif' fill="#111" >600</text>
<path d="M189.7 629.8v-1.8M189.7 484.5v1.8" stroke="#222" stroke-width="0.7"/>
<text x="190.9" y="645.8" font-size="10.4" text-anchor="middle" font-family='"Liberation Sans", "DejaVu Sans", sans-serif' fill="#111" >700</text>
<path d="M34.6 629.8h1.8M227.3 629.8h-1.8" stroke="#222" stroke-width="0.7"/>
<text x="28.3" y="634.8" font-size="10.4" text-anchor="end" font-family='"Liberation Sans", "DejaVu Sans", sans-serif' fill="#111" >0</text>
<path d="M34.6 593.47h1.8M227.3 593.47h-1.8" stroke="#222" stroke-width="0.7"/>
<text x="28.3" y="598.47" font-size="10.4" text-anchor="end" font-family='"Liberation Sans", "DejaVu Sans", sans-serif' fill="#111" >5</text>
<path d="M34.6 557.15h1.8M227.3 557.15h-1.8" stroke="#222" stroke-width="0.7"/>
<text x="28.3" y="562.15" font-size="10.4" text-anchor="end" font-family='"Liberation Sans", "DejaVu Sans", sans-serif' fill="#111" >10</text>
<path d="M34.6 520.83h1.8M227.3 520.83h-1.8" stroke="#222" stroke-width="0.7"/>
<text x="28.3" y="525.83" font-size="10.4" text-anchor="end" font-family='"Liberation Sans", "DejaVu Sans", sans-serif' fill="#111" >15</text>
<path d="M34.6 484.5h1.8M227.3 484.5h-1.8" stroke="#222" stroke-width="0.7"/>
<text x="28.3" y="489.5" font-size="10.4" text-anchor="end" font-family='"Liberation Sans", "DejaVu Sans", sans-serif' fill="#111" >20</text>
<text x="123.9" y="661.6" font-size="10.4" text-anchor="middle" font-family='"Liberation Sans", "DejaVu Sans", sans-serif' fill="#111" >Wavelength (nm)</text>
<text transform="translate(10.8 558.8) rotate(-90)" font-size="10.4" text-anchor="middle" font-family='"Liberation Sans", "DejaVu Sans", sans-serif' fill="#1c1c1c">R (%)</text>
<clipPath id="cd"><rect x="34.6" y="484.5" width="192.7" height="146.3"/></clipPath>
<g clip-path="url(#cd)">
<path d="M34.5 571.68 L35.94 570.23 L37.39 572.04 L39.32 572.41 L41.24 569.5 L44.14 564.41 L47.51 559.33 L50.88 555.7 L54.74 552.79 L58.6 550.61 L62.45 549.88 L66.79 550.25 L70.16 552.06 L74.02 555.7 L77.88 560.78 L81.73 568.05 L85.59 577.49 L89.44 586.94 L93.3 595.65 L97.16 603.65 L101.01 610.18 L104.87 615.27 L108.72 618.9 L112.58 621.45 L117.4 623.62 L122.22 624.71 L129.45 626.53 L136.68 627.62 L141.5 627.77 L151.14 627.62 L160.78 627.4 L170.42 627.62 L180.06 627.48 L189.7 627.62 L196.93 627.04 L204.16 626.17 L211.39 626.75 L218.62 626.17 L223.44 626.75 L227.3 626.17" fill="none" stroke="#000" stroke-width="2.2" stroke-linejoin="round"/>
<path d="M34.5 562.24 L36.91 557.15 L39.32 557.15 L41.73 554.97 L44.14 553.52 L47.03 550.61 L49.92 548.43 L52.81 546.25 L55.7 545.53 L58.6 546.98 L62.45 550.61 L66.31 554.97 L70.16 559.33 L74.02 564.41 L77.88 569.5 L81.73 574.59 L85.59 578.94 L89.44 583.3 L93.3 586.21 L98.12 589.12 L102.94 591.3 L107.76 593.47 L112.58 596.38 L117.4 598.56 L122.22 601.47 L127.04 604.37 L131.86 607.28 L136.68 609.46 L141.5 610.91 L146.32 611.27 L150.18 613.09 L154.03 615.27 L158.85 616.72 L163.67 617.09 L168.49 618.18 L173.31 618.18 L178.13 619.27 L182.95 620.36 L187.77 622.17 L192.59 623.26 L197.41 624.35 L204.16 625.8 L211.39 626.53 L218.62 626.17 L227.3 626.17" fill="none" stroke="#e81414" stroke-width="2.1" stroke-dasharray="1.8 1.7"/>
</g>
<circle cx="70.3" cy="613" r="16.2" fill="#0a14ff"/><circle cx="70.3" cy="613" r="12.5" fill="#fff"/>
<circle cx="164.8" cy="569.5" r="16.6" fill="#0a10ff"/>
<path d="M84.3 620.8L101.5 618.7" stroke="#000" stroke-width="1.9"/><path d="M108 617.9l-7.6 -2.6l0.9 6.4z" fill="#000"/>
<path d="M150.2 585.6L143.1 593.5" stroke="#e81414" stroke-width="2.1"/><path d="M133.6 603.4l2 -6.7l5.2 4.6z" fill="#e81414"/>
<rect x="280.5" y="336.27" width="239.6" height="267.93" fill="#fff"/>
<clipPath id="ce"><path d="M333.48 603.11 L333.38 603.14 L333.3 603.16 L333.24 603.17 L333.18 603.18 L333.11 603.18 L333.03 603.17 L332.92 603.15 L332.79 603.12 L332.67 603.08 L332.56 603.02 L332.45 602.95 L332.34 602.87 L332.22 602.78 L332.08 602.67 L331.92 602.54 L331.74 602.4 L331.54 602.23 L331.32 602.04 L331.09 601.83 L330.84 601.6 L330.57 601.35 L330.28 601.09 L329.95 600.81 L329.58 600.49 L329.17 600.14 L328.72 599.75 L328.23 599.33 L327.71 598.88 L327.16 598.39 L326.55 597.84 L325.9 597.22 L325.2 596.52 L324.46 595.75 L323.68 594.9 L322.84 593.91 L321.91 592.71 L320.88 591.24 L319.74 589.47 L318.49 587.38 L317.15 584.94 L315.7 582.09 L314.15 578.74 L312.47 574.83 L310.65 570.29 L308.66 565.07 L306.5 559.12 L304.23 552.39 L301.89 544.81 L299.55 536.34 L297.22 526.97 L294.91 516.72 L292.61 505.63 L290.4 493.88 L288.34 481.66 L286.52 469.16 L284.98 456.61 L283.76 444.21 L282.91 432.15 L282.46 420.56 L282.47 409.54 L282.96 399.18 L283.95 389.66 L285.47 381.12 L287.51 373.7 L290.03 367.53 L292.96 362.71 L296.24 359.29 L299.8 357.17 L303.57 356.21 L307.47 356.25 L311.47 357.07 L315.53 358.48 L319.61 360.26 L323.67 362.3 L327.66 364.52 L331.56 366.84 L335.37 369.25 L339.11 371.76 L342.81 374.37 L346.47 377.09 L350.11 379.89 L353.74 382.79 L357.36 385.78 L360.96 388.83 L364.55 391.95 L368.12 395.13 L371.69 398.36 L375.25 401.64 L378.82 404.96 L382.39 408.31 L385.97 411.7 L389.54 415.12 L393.12 418.56 L396.68 422.02 L400.24 425.49 L403.79 428.96 L407.34 432.43 L410.88 435.9 L414.4 439.35 L417.89 442.8 L421.36 446.23 L424.8 449.63 L428.2 453.01 L431.57 456.34 L434.9 459.64 L438.18 462.9 L441.4 466.1 L444.58 469.23 L447.69 472.3 L450.73 475.3 L453.69 478.23 L456.56 481.09 L459.34 483.85 L461.99 486.48 L464.51 488.98 L466.91 491.35 L469.21 493.63 L471.43 495.83 L473.56 497.93 L475.57 499.92 L477.45 501.77 L479.2 503.49 L480.84 505.1 L482.37 506.62 L483.8 508.04 L485.13 509.36 L486.35 510.58 L487.48 511.7 L488.54 512.76 L489.55 513.75 L490.47 514.65 L491.27 515.44 L491.95 516.11 L492.63 516.79 L493.46 517.61 L494.52 518.67 L495.69 519.83 L496.78 520.92 L497.66 521.79 L498.35 522.45 L498.88 522.98 L499.33 523.41 L499.72 523.8 L500.08 524.17 L500.45 524.53 L500.79 524.88 L501.1 525.18 L501.34 525.41 L501.47 525.55 L501.49 525.57 Z"/></clipPath>
<defs><linearGradient id="g0" gradientUnits="userSpaceOnUse" x1="297.41" x2="315.15" y1="0" y2="0"><stop offset="0" stop-color="#00ff00"/><stop offset="0.5" stop-color="#00ff00"/><stop offset="1" stop-color="#00ff00"/></linearGradient><linearGradient id="g1" gradientUnits="userSpaceOnUse" x1="294.56" x2="320.02" y1="0" y2="0"><stop offset="0" stop-color="#00ff00"/><stop offset="0.333" stop-color="#00ff00"/><stop offset="0.667" stop-color="#00ff00"/><stop offset="1" stop-color="#00ff00"/></linearGradient><linearGradient id="g2" gradientUnits="userSpaceOnUse" x1="292.64" x2="324.07" y1="0" y2="0"><stop offset="0" stop-color="#00ff00"/><stop offset="0.333" stop-color="#00ff00"/><stop offset="0.667" stop-color="#00ff00"/><stop offset="1" stop-color="#00ff00"/></linearGradient><linearGradient id="g3" gradientUnits="userSpaceOnUse" x1="291.17" x2="327.72" y1="0" y2="0"><stop offset="0" stop-color="#00ff07"/><stop offset="0.011" stop-color="#00ff00"/><stop offset="0.25" stop-color="#00ff00"/><stop offset="0.5" stop-color="#00ff00"/><stop offset="0.75" stop-color="#00ff00"/><stop offset="1" stop-color="#00ff00"/></linearGradient><linearGradient id="g4" gradientUnits="userSpaceOnUse" x1="289.96" x2="331.15" y1="0" y2="0"><stop offset="0" stop-color="#00ff27"/><stop offset="0.101" stop-color="#00ff00"/><stop offset="0.25" stop-color="#00ff00"/><stop offset="0.5" stop-color="#00ff00"/><stop offset="0.75" stop-color="#00ff00"/><stop offset="1" stop-color="#00ff00"/></linearGradient><linearGradient id="g5" gradientUnits="userSpaceOnUse" x1="288.83" x2="334.39" y1="0" y2="0"><stop offset="0" stop-color="#00ff35"/><stop offset="0.171" stop-color="#00ff00"/><stop offset="0.4" stop-color="#00ff00"/><stop offset="0.6" stop-color="#00ff00"/><stop offset="0.8" stop-color="#00ff00"/><stop offset="1" stop-color="#00ff00"/></linearGradient><linearGradient id="g6" gradientUnits="userSpaceOnUse" x1="288.02" x2="337.48" y1="0" y2="0"><stop offset="0" stop-color="#00ff3f"/><stop offset="0.226" stop-color="#00ff00"/><stop offset="0.4" stop-color="#00ff00"/><stop offset="0.6" stop-color="#00ff00"/><stop offset="0.8" stop-color="#00ff00"/><stop offset="1" stop-color="#00ff00"/></linearGradient><linearGradient id="g7" gradientUnits="userSpaceOnUse" x1="287.2" x2="340.45" y1="0" y2="0"><stop offset="0" stop-color="#00ff46"/><stop offset="0.2" stop-color="#00ff26"/><stop offset="0.272" stop-color="#00ff00"/><stop offset="0.4" stop-color="#00ff00"/><stop offset="0.6" stop-color="#00ff00"/><stop offset="0.8" stop-color="#00ff00"/><stop offset="1" stop-color="#00ff00"/></linearGradient><linearGradient id="g8" gradientUnits="userSpaceOnUse" x1="286.43" x2="343.28" y1="0" y2="0"><stop offset="0" stop-color="#00ff4d"/><stop offset="0.167" stop-color="#00ff38"/><stop offset="0.313" stop-color="#00ff00"/><stop offset="0.5" stop-color="#00ff00"/><stop offset="0.667" stop-color="#00ff00"/><stop offset="0.833" stop-color="#00ff00"/><stop offset="1" stop-color="#00ff00"/></linearGradient><linearGradient id="g9" gradientUnits="userSpaceOnUse" x1="285.87" x2="346" y1="0" y2="0"><stop offset="0" stop-color="#00ff52"/><stop offset="0.167" stop-color="#00ff3f"/><stop offset="0.348" stop-color="#00ff00"/><stop offset="0.5" stop-color="#00ff00"/><stop offset="0.667" stop-color="#00ff00"/><stop offset="0.833" stop-color="#00ff00"/><stop offset="1" stop-color="#00ff00"/></linearGradient><linearGradient id="g10" gradientUnits="userSpaceOnUse" x1="285.32" x2="348.66" y1="0" y2="0"><stop offset="0" stop-color="#00ff57"/><stop offset="0.167" stop-color="#00ff46"/><stop offset="0.333" stop-color="#00ff21"/><stop offset="0.379" stop-color="#00ff00"/><stop offset="0.5" stop-color="#00ff00"/><stop offset="0.667" stop-color="#00ff00"/><stop offset="0.833" stop-color="#00ff00"/><stop offset="1" stop-color="#00ff00"/></linearGradient><linearGradient id="g11" gradientUnits="userSpaceOnUse" x1="284.77" x2="351.24" y1="0" y2="0"><stop offset="0" stop-color="#00ff5c"/><stop offset="0.143" stop-color="#00ff4e"/><stop offset="0.286" stop-color="#00ff38"/><stop offset="0.407" stop-color="#00ff00"/><stop offset="0.571" stop-color="#00ff00"/><stop offset="0.714" stop-color="#00ff00"/><stop offset="0.857" stop-color="#00ff00"/><stop offset="1" stop-color="#00ff00"/></linearGradient><linearGradient id="g12" gradientUnits="userSpaceOnUse" x1="284.31" x2="353.75" y1="0" y2="0"><stop offset="0" stop-color="#00ff60"/><stop offset="0.143" stop-color="#00ff53"/><stop offset="0.286" stop-color="#00ff3f"/><stop offset="0.433" stop-color="#00ff00"/><stop offset="0.571" stop-color="#00ff00"/><stop offset="0.714" stop-color="#00ff00"/><stop offset="0.857" stop-color="#00ff00"/><stop offset="1" stop-color="#00ff00"/></linearGradient><linearGradient id="g13" gradientUnits="userSpaceOnUse" x1="283.95" x2="356.2" y1="0" y2="0"><stop offset="0" stop-color="#00ff64"/><stop offset="0.143" stop-color="#00ff57"/><stop offset="0.286" stop-color="#00ff44"/><stop offset="0.456" stop-color="#00ff00"/><stop offset="0.571" stop-color="#00ff00"/><stop offset="0.714" stop-color="#00ff00"/><stop offset="0.857" stop-color="#00ff00"/><stop offset="1" stop-color="#00ff00"/></linearGradient><linearGradient id="g14" gradientUnits="userSpaceOnUse" x1="283.6" x2="358.62" y1="0" y2="0"><stop offset="0" stop-color="#00ff68"/><stop offset="0.143" stop-color="#00ff5b"/><stop offset="0.286" stop-color="#00ff49"/><stop offset="0.429" stop-color="#00ff28"/><stop offset="0.478" stop-color="#00ff00"/><stop offset="0.571" stop-color="#00ff00"/><stop offset="0.714" stop-color="#00ff00"/><stop offset="0.857" stop-color="#00ff00"/><stop offset="1" stop-color="#00ff00"/></linearGradient><linearGradient id="g15" gradientUnits="userSpaceOnUse" x1="283.24" x2="360.98" y1="0" y2="0"><stop offset="0" stop-color="#00ff6b"/><stop offset="0.125" stop-color="#00ff61"/><stop offset="0.25" stop-color="#00ff53"/><stop offset="0.375" stop-color="#00ff3e"/><stop offset="0.498" stop-color="#00ff00"/><stop offset="0.625" stop-color="#00ff00"/><stop offset="0.75" stop-color="#00ff00"/><stop offset="0.875" stop-color="#00ff00"/><stop offset="1" stop-color="#00ff00"/></linearGradient><linearGradient id="g16" gradientUnits="userSpaceOnUse" x1="282.92" x2="363.3" y1="0" y2="0"><stop offset="0" stop-color="#00ff6f"/><stop offset="0.125" stop-color="#00ff64"/><stop offset="0.25" stop-color="#00ff57"/><stop offset="0.375" stop-color="#00ff44"/><stop offset="0.517" stop-color="#00ff00"/><stop offset="0.625" stop-color="#00ff00"/><stop offset="0.75" stop-color="#00ff00"/><stop offset="0.875" stop-color="#00ff00"/><stop offset="1" stop-color="#00ff00"/></linearGradient><linearGradient id="g17" gradientUnits="userSpaceOnUse" x1="282.71" x2="365.6" y1="0" y2="0"><stop offset="0" stop-color="#00ff72"/><stop offset="0.125" stop-color="#00ff68"/><stop offset="0.25" stop-color="#00ff5b"/><stop offset="0.375" stop-color="#00ff48"/><stop offset="0.5" stop-color="#00ff24"/><stop offset="0.535" stop-color="#00ff00"/><stop offset="0.625" stop-color="#00ff00"/><stop offset="0.75" stop-color="#00ff00"/><stop offset="0.875" stop-color="#00ff00"/><stop offset="1" stop-color="#00ff00"/></linearGradient><linearGradient id="g18" gradientUnits="userSpaceOnUse" x1="282.5" x2="367.85" y1="0" y2="0"><stop offset="0" stop-color="#00ff75"/><stop offset="0.125" stop-color="#00ff6b"/><stop offset="0.25" stop-color="#00ff5e"/><stop offset="0.375" stop-color="#00ff4d"/><stop offset="0.5" stop-color="#00ff2d"/><stop offset="0.552" stop-color="#00ff00"/><stop offset="0.625" stop-color="#00ff00"/><stop offset="0.75" stop-color="#00ff00"/><stop offset="0.875" stop-color="#00ff00"/><stop offset="1" stop-color="#00ff00"/></linearGradient><linearGradient id="g19" gradientUnits="userSpaceOnUse" x1="282.29" x2="370.08" y1="0" y2="0"><stop offset="0" stop-color="#00ff78"/><stop offset="0.125" stop-color="#00ff6e"/><stop offset="0.25" stop-color="#00ff62"/><stop offset="0.375" stop-color="#00ff51"/><stop offset="0.5" stop-color="#00ff34"/><stop offset="0.568" stop-color="#00ff00"/><stop offset="0.625" stop-color="#00ff00"/><stop offset="0.75" stop-color="#00ff00"/><stop offset="0.875" stop-color="#00ff00"/><stop offset="0.996" stop-color="#00ff00"/><stop offset="1" stop-color="#00ff00"/></linearGradient><linearGradient id="g20" gradientUnits="userSpaceOnUse" x1="282.08" x2="372.29" y1="0" y2="0"><stop offset="0" stop-color="#00ff7b"/><stop offset="0.111" stop-color="#00ff72"/><stop offset="0.222" stop-color="#00ff68"/><stop offset="0.333" stop-color="#00ff5b"/><stop offset="0.444" stop-color="#00ff48"/><stop offset="0.583" stop-color="#00ff00"/><stop offset="0.667" stop-color="#00ff00"/><stop offset="0.778" stop-color="#00ff00"/><stop offset="0.889" stop-color="#00ff00"/><stop offset="0.973" stop-color="#00ff00"/><stop offset="1" stop-color="#00ff00"/></linearGradient><linearGradient id="g21" gradientUnits="userSpaceOnUse" x1="281.92" x2="374.47" y1="0" y2="0"><stop offset="0" stop-color="#00ff7d"/><stop offset="0.111" stop-color="#00ff75"/><stop offset="0.222" stop-color="#00ff6b"/><stop offset="0.333" stop-color="#00ff5e"/><stop offset="0.444" stop-color="#00ff4d"/><stop offset="0.556" stop-color="#00ff2b"/><stop offset="0.597" stop-color="#00ff00"/><stop offset="0.667" stop-color="#00ff00"/><stop offset="0.778" stop-color="#00ff00"/><stop offset="0.889" stop-color="#00ff00"/><stop offset="0.951" stop-color="#00ff00"/><stop offset="1" stop-color="#00ff00"/></linearGradient><linearGradient id="g22" gradientUnits="userSpaceOnUse" x1="281.82" x2="376.64" y1="0" y2="0"><stop offset="0" stop-color="#00ff80"/><stop offset="0.111" stop-color="#00ff78"/><stop offset="0.222" stop-color="#00ff6e"/><stop offset="0.333" stop-color="#00ff62"/><stop offset="0.444" stop-color="#00ff51"/><stop offset="0.556" stop-color="#00ff32"/><stop offset="0.611" stop-color="#00ff00"/><stop offset="0.667" stop-color="#00ff00"/><stop offset="0.778" stop-color="#00ff00"/><stop offset="0.889" stop-color="#00ff00"/><stop offset="0.93" stop-color="#00ff00"/><stop offset="1" stop-color="#00ff00"/></linearGradient><linearGradient id="g23" gradientUnits="userSpaceOnUse" x1="281.73" x2="378.79" y1="0" y2="0"><stop offset="0" stop-color="#00ff83"/><stop offset="0.111" stop-color="#00ff7b"/><stop offset="0.222" stop-color="#00ff71"/><stop offset="0.333" stop-color="#00ff65"/><stop offset="0.444" stop-color="#00ff54"/><stop offset="0.556" stop-color="#00ff38"/><stop offset="0.624" stop-color="#00ff00"/><stop offset="0.667" stop-color="#00ff00"/><stop offset="0.778" stop-color="#00ff00"/><stop offset="0.911" stop-color="#00ff00"/><stop offset="0.988" stop-color="#00ff00"/><stop offset="1" stop-color="#32ff00"/></linearGradient><linearGradient id="g24" gradientUnits="userSpaceOnUse" x1="281.64" x2="380.93" y1="0" y2="0"><stop offset="0" stop-color="#00ff85"/><stop offset="0.1" stop-color="#00ff7e"/><stop offset="0.2" stop-color="#00ff76"/><stop offset="0.3" stop-color="#00ff6c"/><stop offset="0.4" stop-color="#00ff5f"/><stop offset="0.5" stop-color="#00ff4d"/><stop offset="0.6" stop-color="#00ff2b"/><stop offset="0.636" stop-color="#00ff00"/><stop offset="0.7" stop-color="#00ff00"/><stop offset="0.8" stop-color="#00ff00"/><stop offset="0.892" stop-color="#00ff00"/><stop offset="0.961" stop-color="#00ff00"/><stop offset="1" stop-color="#55ff00"/></linearGradient><linearGradient id="g25" gradientUnits="userSpaceOnUse" x1="281.54" x2="383.06" y1="0" y2="0"><stop offset="0" stop-color="#00ff88"/><stop offset="0.1" stop-color="#00ff81"/><stop offset="0.2" stop-color="#00ff79"/><stop offset="0.3" stop-color="#00ff6f"/><stop offset="0.4" stop-color="#00ff62"/><stop offset="0.5" stop-color="#00ff51"/><stop offset="0.6" stop-color="#00ff32"/><stop offset="0.648" stop-color="#00ff00"/><stop offset="0.7" stop-color="#00ff00"/><stop offset="0.8" stop-color="#00ff00"/><stop offset="0.875" stop-color="#00ff00"/><stop offset="0.9" stop-color="#00ff00"/><stop offset="0.935" stop-color="#00ff00"/><stop offset="1" stop-color="#69ff00"/></linearGradient><linearGradient id="g26" gradientUnits="userSpaceOnUse" x1="281.47" x2="385.17" y1="0" y2="0"><stop offset="0" stop-color="#00ff8a"/><stop offset="0.1" stop-color="#00ff83"/><stop offset="0.2" stop-color="#00ff7b"/><stop offset="0.3" stop-color="#00ff72"/><stop offset="0.4" stop-color="#00ff65"/><stop offset="0.5" stop-color="#00ff55"/><stop offset="0.6" stop-color="#00ff38"/><stop offset="0.659" stop-color="#00ff00"/><stop offset="0.7" stop-color="#00ff00"/><stop offset="0.8" stop-color="#00ff00"/><stop offset="0.858" stop-color="#00ff00"/><stop offset="0.911" stop-color="#00ff00"/><stop offset="1" stop-color="#79ff00"/></linearGradient><linearGradient id="g27" gradientUnits="userSpaceOnUse" x1="281.47" x2="387.28" y1="0" y2="0"><stop offset="0" stop-color="#00ff8d"/><stop offset="0.1" stop-color="#00ff86"/><stop offset="0.2" stop-color="#00ff7e"/><stop offset="0.3" stop-color="#00ff74"/><stop offset="0.4" stop-color="#00ff68"/><stop offset="0.5" stop-color="#00ff58"/><stop offset="0.6" stop-color="#00ff3e"/><stop offset="0.67" stop-color="#00ff00"/><stop offset="0.7" stop-color="#00ff00"/><stop offset="0.8" stop-color="#00ff00"/><stop offset="0.842" stop-color="#00ff00"/><stop offset="0.887" stop-color="#00ff00"/><stop offset="1" stop-color="#86ff00"/></linearGradient><linearGradient id="g28" gradientUnits="userSpaceOnUse" x1="281.47" x2="389.37" y1="0" y2="0"><stop offset="0" stop-color="#00ff8f"/><stop offset="0.1" stop-color="#00ff88"/><stop offset="0.2" stop-color="#00ff81"/><stop offset="0.3" stop-color="#00ff77"/><stop offset="0.4" stop-color="#00ff6b"/><stop offset="0.5" stop-color="#00ff5c"/><stop offset="0.6" stop-color="#00ff43"/><stop offset="0.681" stop-color="#00ff00"/><stop offset="0.8" stop-color="#00ff00"/><stop offset="0.826" stop-color="#00ff00"/><stop offset="0.865" stop-color="#00ff00"/><stop offset="0.9" stop-color="#55ff00"/><stop offset="1" stop-color="#92ff00"/></linearGradient><linearGradient id="g29" gradientUnits="userSpaceOnUse" x1="281.47" x2="391.46" y1="0" y2="0"><stop offset="0" stop-color="#00ff91"/><stop offset="0.1" stop-color="#00ff8b"/><stop offset="0.2" stop-color="#00ff83"/><stop offset="0.3" stop-color="#00ff7a"/><stop offset="0.4" stop-color="#00ff6e"/><stop offset="0.5" stop-color="#00ff5f"/><stop offset="0.6" stop-color="#00ff47"/><stop offset="0.691" stop-color="#00ff00"/><stop offset="0.811" stop-color="#00ff00"/><stop offset="0.844" stop-color="#00ff00"/><stop offset="0.9" stop-color="#69ff00"/><stop offset="1" stop-color="#9dff00"/></linearGradient><linearGradient id="g30" gradientUnits="userSpaceOnUse" x1="281.46" x2="393.53" y1="0" y2="0"><stop offset="0" stop-color="#00ff94"/><stop offset="0.091" stop-color="#00ff8e"/><stop offset="0.182" stop-color="#00ff87"/><stop offset="0.273" stop-color="#00ff7f"/><stop offset="0.364" stop-color="#00ff76"/><stop offset="0.455" stop-color="#00ff69"/><stop offset="0.545" stop-color="#00ff59"/><stop offset="0.636" stop-color="#00ff3f"/><stop offset="0.701" stop-color="#00ff00"/><stop offset="0.727" stop-color="#00ff00"/><stop offset="0.797" stop-color="#00ff00"/><stop offset="0.823" stop-color="#00ff00"/><stop offset="0.909" stop-color="#7dff00"/><stop offset="1" stop-color="#a6ff00"/></linearGradient><linearGradient id="g31" gradientUnits="userSpaceOnUse" x1="281.46" x2="395.6" y1="0" y2="0"><stop offset="0" stop-color="#00ff96"/><stop offset="0.091" stop-color="#00ff90"/><stop offset="0.182" stop-color="#00ff8a"/><stop offset="0.273" stop-color="#00ff82"/><stop offset="0.364" stop-color="#00ff78"/><stop offset="0.455" stop-color="#00ff6c"/><stop offset="0.545" stop-color="#00ff5d"/><stop offset="0.636" stop-color="#00ff43"/><stop offset="0.71" stop-color="#00ff00"/><stop offset="0.783" stop-color="#00ff00"/><stop offset="0.803" stop-color="#00ff00"/><stop offset="0.909" stop-color="#8aff00"/><stop offset="1" stop-color="#b0ff00"/></linearGradient><linearGradient id="g32" gradientUnits="userSpaceOnUse" x1="281.46" x2="397.66" y1="0" y2="0"><stop offset="0" stop-color="#00ff98"/><stop offset="0.091" stop-color="#00ff93"/><stop offset="0.182" stop-color="#00ff8c"/><stop offset="0.273" stop-color="#00ff84"/><stop offset="0.364" stop-color="#00ff7b"/><stop offset="0.455" stop-color="#00ff6f"/><stop offset="0.545" stop-color="#00ff60"/><stop offset="0.636" stop-color="#00ff48"/><stop offset="0.719" stop-color="#00ff00"/><stop offset="0.77" stop-color="#00ff00"/><stop offset="0.784" stop-color="#00ff00"/><stop offset="0.818" stop-color="#59ff00"/><stop offset="0.909" stop-color="#95ff00"/><stop offset="1" stop-color="#b8ff00"/></linearGradient><linearGradient id="g33" gradientUnits="userSpaceOnUse" x1="281.52" x2="399.71" y1="0" y2="0"><stop offset="0" stop-color="#00ff9b"/><stop offset="0.091" stop-color="#00ff95"/><stop offset="0.182" stop-color="#00ff8e"/><stop offset="0.273" stop-color="#00ff87"/><stop offset="0.364" stop-color="#00ff7e"/><stop offset="0.455" stop-color="#00ff72"/><stop offset="0.545" stop-color="#00ff63"/><stop offset="0.636" stop-color="#00ff4c"/><stop offset="0.728" stop-color="#00ff00"/><stop offset="0.758" stop-color="#00ff00"/><stop offset="0.766" stop-color="#00ff00"/><stop offset="0.818" stop-color="#6bff00"/><stop offset="0.909" stop-color="#9fff00"/><stop offset="1" stop-color="#c1ff00"/></linearGradient><linearGradient id="g34" gradientUnits="userSpaceOnUse" x1="281.6" x2="401.76" y1="0" y2="0"><stop offset="0" stop-color="#00ff9d"/><stop offset="0.091" stop-color="#00ff97"/><stop offset="0.182" stop-color="#00ff91"/><stop offset="0.273" stop-color="#00ff89"/><stop offset="0.364" stop-color="#00ff80"/><stop offset="0.455" stop-color="#00ff75"/><stop offset="0.545" stop-color="#00ff66"/><stop offset="0.636" stop-color="#00ff50"/><stop offset="0.737" stop-color="#00ff00"/><stop offset="0.745" stop-color="#00ff00"/><stop offset="0.748" stop-color="#00ff00"/><stop offset="0.818" stop-color="#79ff00"/><stop offset="0.909" stop-color="#a8ff00"/><stop offset="1" stop-color="#c9ff00"/></linearGradient><linearGradient id="g35" gradientUnits="userSpaceOnUse" x1="281.67" x2="403.81" y1="0" y2="0"><stop offset="0" stop-color="#00ff9f"/><stop offset="0.083" stop-color="#00ff9a"/><stop offset="0.167" stop-color="#00ff94"/><stop offset="0.25" stop-color="#00ff8e"/><stop offset="0.333" stop-color="#00ff86"/><stop offset="0.417" stop-color="#00ff7d"/><stop offset="0.5" stop-color="#00ff71"/><stop offset="0.583" stop-color="#00ff62"/><stop offset="0.667" stop-color="#00ff4a"/><stop offset="0.73" stop-color="#00ff22"/><stop offset="0.734" stop-color="#1dff1d"/><stop offset="0.745" stop-color="#40ff00"/><stop offset="0.833" stop-color="#8eff00"/><stop offset="0.917" stop-color="#b4ff00"/><stop offset="1" stop-color="#d1ff00"/></linearGradient><linearGradient id="g36" gradientUnits="userSpaceOnUse" x1="281.75" x2="405.85" y1="0" y2="0"><stop offset="0" stop-color="#00ffa1"/><stop offset="0.083" stop-color="#00ff9c"/><stop offset="0.167" stop-color="#00ff97"/><stop offset="0.25" stop-color="#00ff90"/><stop offset="0.333" stop-color="#00ff89"/><stop offset="0.417" stop-color="#00ff7f"/><stop offset="0.5" stop-color="#00ff74"/><stop offset="0.583" stop-color="#00ff65"/><stop offset="0.667" stop-color="#00ff4e"/><stop offset="0.714" stop-color="#00ff38"/><stop offset="0.722" stop-color="#32ff32"/><stop offset="0.753" stop-color="#62ff00"/><stop offset="0.833" stop-color="#99ff00"/><stop offset="0.917" stop-color="#bcff00"/><stop offset="1" stop-color="#d9ff00"/></linearGradient><linearGradient id="g37" gradientUnits="userSpaceOnUse" x1="281.82" x2="407.9" y1="0" y2="0"><stop offset="0" stop-color="#00ffa4"/><stop offset="0.083" stop-color="#00ff9f"/><stop offset="0.167" stop-color="#00ff99"/><stop offset="0.25" stop-color="#00ff93"/><stop offset="0.333" stop-color="#00ff8b"/><stop offset="0.417" stop-color="#00ff82"/><stop offset="0.5" stop-color="#00ff77"/><stop offset="0.583" stop-color="#00ff68"/><stop offset="0.667" stop-color="#00ff52"/><stop offset="0.698" stop-color="#00ff46"/><stop offset="0.711" stop-color="#3fff3f"/><stop offset="0.761" stop-color="#78ff00"/><stop offset="0.833" stop-color="#a2ff00"/><stop offset="0.917" stop-color="#c4ff00"/><stop offset="1" stop-color="#e0ff00"/></linearGradient><linearGradient id="g38" gradientUnits="userSpaceOnUse" x1="281.9" x2="409.94" y1="0" y2="0"><stop offset="0" stop-color="#00ffa6"/><stop offset="0.083" stop-color="#00ffa1"/><stop offset="0.167" stop-color="#00ff9b"/><stop offset="0.25" stop-color="#00ff95"/><stop offset="0.333" stop-color="#00ff8e"/><stop offset="0.417" stop-color="#00ff85"/><stop offset="0.5" stop-color="#00ff7a"/><stop offset="0.583" stop-color="#00ff6b"/><stop offset="0.682" stop-color="#00ff51"/><stop offset="0.7" stop-color="#49ff49"/><stop offset="0.768" stop-color="#89ff00"/><stop offset="0.833" stop-color="#abff00"/><stop offset="0.917" stop-color="#ccff00"/><stop offset="1" stop-color="#e8ff00"/></linearGradient><linearGradient id="g39" gradientUnits="userSpaceOnUse" x1="282.04" x2="411.98" y1="0" y2="0"><stop offset="0" stop-color="#00ffa8"/><stop offset="0.083" stop-color="#00ffa3"/><stop offset="0.167" stop-color="#00ff9e"/><stop offset="0.25" stop-color="#00ff97"/><stop offset="0.333" stop-color="#00ff90"/><stop offset="0.417" stop-color="#00ff87"/><stop offset="0.5" stop-color="#00ff7c"/><stop offset="0.583" stop-color="#00ff6e"/><stop offset="0.667" stop-color="#00ff5a"/><stop offset="0.69" stop-color="#52ff52"/><stop offset="0.75" stop-color="#89ff31"/><stop offset="0.775" stop-color="#98ff00"/><stop offset="0.833" stop-color="#b4ff00"/><stop offset="0.917" stop-color="#d4ff00"/><stop offset="1" stop-color="#f0ff00"/></linearGradient><linearGradient id="g40" gradientUnits="userSpaceOnUse" x1="282.18" x2="414.02" y1="0" y2="0"><stop offset="0" stop-color="#00ffaa"/><stop offset="0.083" stop-color="#00ffa5"/><stop offset="0.167" stop-color="#00ffa0"/><stop offset="0.25" stop-color="#00ff9a"/><stop offset="0.333" stop-color="#00ff93"/><stop offset="0.417" stop-color="#00ff8a"/><stop offset="0.5" stop-color="#00ff7f"/><stop offset="0.583" stop-color="#00ff71"/><stop offset="0.652" stop-color="#00ff62"/><stop offset="0.679" stop-color="#59ff59"/><stop offset="0.75" stop-color="#94ff38"/><stop offset="0.782" stop-color="#a5ff00"/><stop offset="0.833" stop-color="#bcff00"/><stop offset="0.917" stop-color="#dcff00"/><stop offset="1" stop-color="#f7ff00"/></linearGradient><linearGradient id="g41" gradientUnits="userSpaceOnUse" x1="282.32" x2="416.05" y1="0" y2="0"><stop offset="0" stop-color="#00ffac"/><stop offset="0.077" stop-color="#00ffa8"/><stop offset="0.154" stop-color="#00ffa3"/><stop offset="0.231" stop-color="#00ff9e"/><stop offset="0.308" stop-color="#00ff97"/><stop offset="0.385" stop-color="#00ff90"/><stop offset="0.462" stop-color="#00ff87"/><stop offset="0.538" stop-color="#00ff7c"/><stop offset="0.615" stop-color="#00ff6e"/><stop offset="0.637" stop-color="#00ff69"/><stop offset="0.669" stop-color="#60ff60"/><stop offset="0.692" stop-color="#77ff59"/><stop offset="0.769" stop-color="#a8ff2d"/><stop offset="0.789" stop-color="#b1ff00"/><stop offset="0.846" stop-color="#caff00"/><stop offset="0.923" stop-color="#e6ff00"/><stop offset="1" stop-color="#ffff00"/></linearGradient><linearGradient id="g42" gradientUnits="userSpaceOnUse" x1="282.46" x2="418.08" y1="0" y2="0"><stop offset="0" stop-color="#00ffae"/><stop offset="0.077" stop-color="#00ffaa"/><stop offset="0.154" stop-color="#00ffa5"/><stop offset="0.231" stop-color="#00ffa0"/><stop offset="0.308" stop-color="#00ff9a"/><stop offset="0.385" stop-color="#00ff93"/><stop offset="0.462" stop-color="#00ff8a"/><stop offset="0.538" stop-color="#00ff7f"/><stop offset="0.623" stop-color="#00ff6f"/><stop offset="0.66" stop-color="#66ff66"/><stop offset="0.692" stop-color="#84ff5c"/><stop offset="0.769" stop-color="#b1ff35"/><stop offset="0.796" stop-color="#bdff00"/><stop offset="0.846" stop-color="#d1ff00"/><stop offset="0.923" stop-color="#edff00"/><stop offset="0.977" stop-color="#ffff00"/><stop offset="1" stop-color="#fff800"/></linearGradient><linearGradient id="g43" gradientUnits="userSpaceOnUse" x1="282.6" x2="420.11" y1="0" y2="0"><stop offset="0" stop-color="#00ffb1"/><stop offset="0.077" stop-color="#00ffac"/><stop offset="0.154" stop-color="#00ffa8"/><stop offset="0.231" stop-color="#00ffa2"/><stop offset="0.308" stop-color="#00ff9c"/><stop offset="0.385" stop-color="#00ff95"/><stop offset="0.462" stop-color="#00ff8c"/><stop offset="0.538" stop-color="#00ff82"/><stop offset="0.61" stop-color="#00ff75"/><stop offset="0.65" stop-color="#6cff6c"/><stop offset="0.692" stop-color="#8fff60"/><stop offset="0.769" stop-color="#b9ff3c"/><stop offset="0.802" stop-color="#c8ff00"/><stop offset="0.846" stop-color="#d9ff00"/><stop offset="0.923" stop-color="#f5ff00"/><stop offset="0.954" stop-color="#ffff00"/><stop offset="1" stop-color="#fff100"/></linearGradient><linearGradient id="g44" gradientUnits="userSpaceOnUse" x1="282.74" x2="422.13" y1="0" y2="0"><stop offset="0" stop-color="#00ffb3"/><stop offset="0.077" stop-color="#00ffaf"/><stop offset="0.154" stop-color="#00ffaa"/><stop offset="0.231" stop-color="#00ffa5"/><stop offset="0.308" stop-color="#00ff9f"/><stop offset="0.385" stop-color="#00ff98"/><stop offset="0.462" stop-color="#00ff8f"/><stop offset="0.538" stop-color="#00ff85"/><stop offset="0.596" stop-color="#00ff7b"/><stop offset="0.615" stop-color="#50ff77"/><stop offset="0.641" stop-color="#71ff71"/><stop offset="0.692" stop-color="#99ff64"/><stop offset="0.769" stop-color="#c1ff41"/><stop offset="0.809" stop-color="#d2ff00"/><stop offset="0.846" stop-color="#e1ff00"/><stop offset="0.931" stop-color="#ffff00"/><stop offset="1" stop-color="#ffea00"/></linearGradient><linearGradient id="g45" gradientUnits="userSpaceOnUse" x1="282.93" x2="424.15" y1="0" y2="0"><stop offset="0" stop-color="#00ffb5"/><stop offset="0.077" stop-color="#00ffb1"/><stop offset="0.154" stop-color="#00ffac"/><stop offset="0.231" stop-color="#00ffa7"/><stop offset="0.308" stop-color="#00ffa1"/><stop offset="0.385" stop-color="#00ff9a"/><stop offset="0.462" stop-color="#00ff92"/><stop offset="0.538" stop-color="#00ff88"/><stop offset="0.583" stop-color="#00ff80"/><stop offset="0.632" stop-color="#77ff77"/><stop offset="0.692" stop-color="#a2ff67"/><stop offset="0.769" stop-color="#c9ff47"/><stop offset="0.815" stop-color="#dcff00"/><stop offset="0.846" stop-color="#e8ff00"/><stop offset="0.909" stop-color="#ffff00"/><stop offset="1" stop-color="#ffe300"/></linearGradient><linearGradient id="g46" gradientUnits="userSpaceOnUse" x1="283.13" x2="426.17" y1="0" y2="0"><stop offset="0" stop-color="#00ffb7"/><stop offset="0.071" stop-color="#00ffb4"/><stop offset="0.143" stop-color="#00ffaf"/><stop offset="0.214" stop-color="#00ffab"/><stop offset="0.286" stop-color="#00ffa6"/><stop offset="0.357" stop-color="#00ff9f"/><stop offset="0.429" stop-color="#00ff98"/><stop offset="0.5" stop-color="#00ff90"/><stop offset="0.571" stop-color="#00ff85"/><stop offset="0.623" stop-color="#7cff7c"/><stop offset="0.643" stop-color="#8cff77"/><stop offset="0.714" stop-color="#b7ff64"/><stop offset="0.786" stop-color="#d8ff41"/><stop offset="0.821" stop-color="#e6ff00"/><stop offset="0.857" stop-color="#f4ff00"/><stop offset="0.887" stop-color="#ffff00"/><stop offset="0.929" stop-color="#fff100"/><stop offset="1" stop-color="#ffdd00"/></linearGradient><linearGradient id="g47" gradientUnits="userSpaceOnUse" x1="283.33" x2="428.19" y1="0" y2="0"><stop offset="0" stop-color="#00ffb9"/><stop offset="0.071" stop-color="#00ffb6"/><stop offset="0.143" stop-color="#00ffb2"/><stop offset="0.214" stop-color="#00ffad"/><stop offset="0.286" stop-color="#00ffa8"/><stop offset="0.357" stop-color="#00ffa2"/><stop offset="0.429" stop-color="#00ff9b"/><stop offset="0.5" stop-color="#00ff93"/><stop offset="0.558" stop-color="#00ff8a"/><stop offset="0.615" stop-color="#80ff80"/><stop offset="0.643" stop-color="#96ff7b"/><stop offset="0.714" stop-color="#bfff68"/><stop offset="0.786" stop-color="#e0ff46"/><stop offset="0.827" stop-color="#f0ff00"/><stop offset="0.867" stop-color="#ffff00"/><stop offset="0.929" stop-color="#ffea00"/><stop offset="1" stop-color="#ffd700"/></linearGradient><linearGradient id="g48" gradientUnits="userSpaceOnUse" x1="283.52" x2="430.2" y1="0" y2="0"><stop offset="0" stop-color="#00ffbc"/><stop offset="0.071" stop-color="#00ffb8"/><stop offset="0.143" stop-color="#00ffb4"/><stop offset="0.214" stop-color="#00ffb0"/><stop offset="0.286" stop-color="#00ffab"/><stop offset="0.357" stop-color="#00ffa5"/><stop offset="0.429" stop-color="#00ff9e"/><stop offset="0.5" stop-color="#00ff95"/><stop offset="0.546" stop-color="#00ff8f"/><stop offset="0.571" stop-color="#5eff8b"/><stop offset="0.607" stop-color="#85ff85"/><stop offset="0.643" stop-color="#a0ff7e"/><stop offset="0.714" stop-color="#c8ff6b"/><stop offset="0.786" stop-color="#e7ff4c"/><stop offset="0.832" stop-color="#faff00"/><stop offset="0.846" stop-color="#ffff00"/><stop offset="0.929" stop-color="#ffe400"/><stop offset="1" stop-color="#ffd100"/></linearGradient><linearGradient id="g49" gradientUnits="userSpaceOnUse" x1="283.72" x2="432.22" y1="0" y2="0"><stop offset="0" stop-color="#00ffbe"/><stop offset="0.071" stop-color="#00ffba"/><stop offset="0.143" stop-color="#00ffb6"/><stop offset="0.214" stop-color="#00ffb2"/><stop offset="0.286" stop-color="#00ffad"/><stop offset="0.357" stop-color="#00ffa7"/><stop offset="0.429" stop-color="#00ffa0"/><stop offset="0.5" stop-color="#00ff98"/><stop offset="0.534" stop-color="#00ff94"/><stop offset="0.571" stop-color="#6fff8e"/><stop offset="0.598" stop-color="#8aff8a"/><stop offset="0.643" stop-color="#a9ff81"/><stop offset="0.714" stop-color="#cfff6f"/><stop offset="0.786" stop-color="#efff51"/><stop offset="0.826" stop-color="#ffff2a"/><stop offset="0.838" stop-color="#fffb00"/><stop offset="0.857" stop-color="#fff400"/><stop offset="0.929" stop-color="#ffdd00"/><stop offset="1" stop-color="#ffcb00"/></linearGradient><linearGradient id="g50" gradientUnits="userSpaceOnUse" x1="283.92" x2="434.24" y1="0" y2="0"><stop offset="0" stop-color="#00ffc0"/><stop offset="0.071" stop-color="#00ffbd"/><stop offset="0.143" stop-color="#00ffb9"/><stop offset="0.214" stop-color="#00ffb5"/><stop offset="0.286" stop-color="#00ffb0"/><stop offset="0.357" stop-color="#00ffaa"/><stop offset="0.429" stop-color="#00ffa3"/><stop offset="0.5" stop-color="#00ff9b"/><stop offset="0.523" stop-color="#00ff98"/><stop offset="0.571" stop-color="#7dff91"/><stop offset="0.59" stop-color="#8eff8e"/><stop offset="0.643" stop-color="#b2ff84"/><stop offset="0.714" stop-color="#d7ff73"/><stop offset="0.786" stop-color="#f6ff56"/><stop offset="0.807" stop-color="#ffff47"/><stop offset="0.843" stop-color="#fff100"/><stop offset="0.929" stop-color="#ffd700"/><stop offset="1" stop-color="#ffc500"/></linearGradient><linearGradient id="g51" gradientUnits="userSpaceOnUse" x1="284.15" x2="436.26" y1="0" y2="0"><stop offset="0" stop-color="#00ffc2"/><stop offset="0.071" stop-color="#00ffbf"/><stop offset="0.143" stop-color="#00ffbb"/><stop offset="0.214" stop-color="#00ffb7"/><stop offset="0.286" stop-color="#00ffb2"/><stop offset="0.357" stop-color="#00ffad"/><stop offset="0.429" stop-color="#00ffa6"/><stop offset="0.511" stop-color="#00ff9d"/><stop offset="0.583" stop-color="#93ff93"/><stop offset="0.643" stop-color="#bbff88"/><stop offset="0.714" stop-color="#dfff76"/><stop offset="0.788" stop-color="#ffff59"/><stop offset="0.848" stop-color="#ffe900"/><stop offset="0.929" stop-color="#ffd100"/><stop offset="1" stop-color="#ffc000"/></linearGradient><linearGradient id="g52" gradientUnits="userSpaceOnUse" x1="284.39" x2="438.27" y1="0" y2="0"><stop offset="0" stop-color="#00ffc4"/><stop offset="0.071" stop-color="#00ffc1"/><stop offset="0.143" stop-color="#00ffbe"/><stop offset="0.214" stop-color="#00ffb9"/><stop offset="0.286" stop-color="#00ffb5"/><stop offset="0.357" stop-color="#00ffaf"/><stop offset="0.429" stop-color="#00ffa9"/><stop offset="0.5" stop-color="#00ffa1"/><stop offset="0.575" stop-color="#97ff97"/><stop offset="0.643" stop-color="#c3ff8b"/><stop offset="0.714" stop-color="#e7ff7a"/><stop offset="0.769" stop-color="#ffff67"/><stop offset="0.786" stop-color="#fff85c"/><stop offset="0.854" stop-color="#ffe000"/><stop offset="0.929" stop-color="#ffcb00"/><stop offset="1" stop-color="#ffba00"/></linearGradient><linearGradient id="g53" gradientUnits="userSpaceOnUse" x1="284.64" x2="440.29" y1="0" y2="0"><stop offset="0" stop-color="#00ffc7"/><stop offset="0.067" stop-color="#00ffc4"/><stop offset="0.133" stop-color="#00ffc0"/><stop offset="0.2" stop-color="#00ffbd"/><stop offset="0.267" stop-color="#00ffb9"/><stop offset="0.333" stop-color="#00ffb4"/><stop offset="0.4" stop-color="#00ffae"/><stop offset="0.467" stop-color="#00ffa8"/><stop offset="0.49" stop-color="#00ffa5"/><stop offset="0.533" stop-color="#7cffa0"/><stop offset="0.567" stop-color="#9bff9b"/><stop offset="0.6" stop-color="#b2ff96"/><stop offset="0.667" stop-color="#d8ff8a"/><stop offset="0.733" stop-color="#f7ff78"/><stop offset="0.751" stop-color="#ffff72"/><stop offset="0.8" stop-color="#ffec54"/><stop offset="0.859" stop-color="#ffd900"/><stop offset="0.933" stop-color="#ffc400"/><stop offset="1" stop-color="#ffb500"/></linearGradient><linearGradient id="g54" gradientUnits="userSpaceOnUse" x1="284.88" x2="442.31" y1="0" y2="0"><stop offset="0" stop-color="#00ffc9"/><stop offset="0.067" stop-color="#00ffc6"/><stop offset="0.133" stop-color="#00ffc3"/><stop offset="0.2" stop-color="#00ffbf"/><stop offset="0.267" stop-color="#00ffbb"/><stop offset="0.333" stop-color="#00ffb7"/><stop offset="0.4" stop-color="#00ffb1"/><stop offset="0.479" stop-color="#00ffa9"/><stop offset="0.533" stop-color="#88ffa3"/><stop offset="0.56" stop-color="#9fff9f"/><stop offset="0.6" stop-color="#bbff99"/><stop offset="0.667" stop-color="#e0ff8d"/><stop offset="0.733" stop-color="#ffff7c"/><stop offset="0.8" stop-color="#ffe555"/><stop offset="0.863" stop-color="#ffd100"/><stop offset="0.933" stop-color="#ffbf00"/><stop offset="1" stop-color="#ffaf00"/></linearGradient><linearGradient id="g55" gradientUnits="userSpaceOnUse" x1="285.13" x2="444.33" y1="0" y2="0"><stop offset="0" stop-color="#00ffcb"/><stop offset="0.067" stop-color="#00ffc8"/><stop offset="0.133" stop-color="#00ffc5"/><stop offset="0.2" stop-color="#00ffc2"/><stop offset="0.267" stop-color="#00ffbe"/><stop offset="0.333" stop-color="#00ffb9"/><stop offset="0.4" stop-color="#00ffb4"/><stop offset="0.468" stop-color="#00ffae"/><stop offset="0.533" stop-color="#94ffa6"/><stop offset="0.553" stop-color="#a4ffa4"/><stop offset="0.6" stop-color="#c3ff9d"/><stop offset="0.667" stop-color="#e7ff91"/><stop offset="0.716" stop-color="#ffff85"/><stop offset="0.733" stop-color="#fff77c"/><stop offset="0.8" stop-color="#ffde57"/><stop offset="0.868" stop-color="#ffca00"/><stop offset="0.933" stop-color="#ffb900"/><stop offset="1" stop-color="#ffaa00"/></linearGradient><linearGradient id="g56" gradientUnits="userSpaceOnUse" x1="285.38" x2="446.35" y1="0" y2="0"><stop offset="0" stop-color="#00ffce"/><stop offset="0.067" stop-color="#00ffcb"/><stop offset="0.133" stop-color="#00ffc8"/><stop offset="0.2" stop-color="#00ffc4"/><stop offset="0.267" stop-color="#00ffc1"/><stop offset="0.333" stop-color="#00ffbc"/><stop offset="0.4" stop-color="#00ffb7"/><stop offset="0.458" stop-color="#00ffb2"/><stop offset="0.546" stop-color="#a8ffa8"/><stop offset="0.6" stop-color="#ccffa0"/><stop offset="0.667" stop-color="#efff94"/><stop offset="0.699" stop-color="#ffff8d"/><stop offset="0.733" stop-color="#fff07c"/><stop offset="0.8" stop-color="#ffd858"/><stop offset="0.873" stop-color="#ffc300"/><stop offset="0.933" stop-color="#ffb400"/><stop offset="1" stop-color="#ffa500"/></linearGradient><linearGradient id="g57" gradientUnits="userSpaceOnUse" x1="285.64" x2="448.38" y1="0" y2="0"><stop offset="0" stop-color="#00ffd0"/><stop offset="0.067" stop-color="#00ffcd"/><stop offset="0.133" stop-color="#00ffca"/><stop offset="0.2" stop-color="#00ffc7"/><stop offset="0.267" stop-color="#00ffc3"/><stop offset="0.333" stop-color="#00ffbf"/><stop offset="0.4" stop-color="#00ffba"/><stop offset="0.448" stop-color="#00ffb6"/><stop offset="0.467" stop-color="#5cffb4"/><stop offset="0.539" stop-color="#acffac"/><stop offset="0.6" stop-color="#d4ffa4"/><stop offset="0.667" stop-color="#f7ff98"/><stop offset="0.682" stop-color="#ffff95"/><stop offset="0.733" stop-color="#ffe97b"/><stop offset="0.8" stop-color="#ffd259"/><stop offset="0.877" stop-color="#ffbc00"/><stop offset="0.933" stop-color="#ffae00"/><stop offset="1" stop-color="#ff9f00"/></linearGradient><linearGradient id="g58" gradientUnits="userSpaceOnUse" x1="285.93" x2="450.41" y1="0" y2="0"><stop offset="0" stop-color="#00ffd2"/><stop offset="0.067" stop-color="#00ffd0"/><stop offset="0.133" stop-color="#00ffcd"/><stop offset="0.2" stop-color="#00ffca"/><stop offset="0.267" stop-color="#00ffc6"/><stop offset="0.333" stop-color="#00ffc2"/><stop offset="0.4" stop-color="#00ffbd"/><stop offset="0.438" stop-color="#00ffba"/><stop offset="0.467" stop-color="#6effb7"/><stop offset="0.532" stop-color="#b0ffb0"/><stop offset="0.6" stop-color="#dcffa7"/><stop offset="0.666" stop-color="#ffff9c"/><stop offset="0.733" stop-color="#ffe27b"/><stop offset="0.8" stop-color="#ffcb5a"/><stop offset="0.882" stop-color="#ffb500"/><stop offset="0.933" stop-color="#ffa900"/><stop offset="1" stop-color="#ff9a00"/></linearGradient><linearGradient id="g59" gradientUnits="userSpaceOnUse" x1="286.23" x2="452.43" y1="0" y2="0"><stop offset="0" stop-color="#00ffd5"/><stop offset="0.062" stop-color="#00ffd2"/><stop offset="0.125" stop-color="#00ffd0"/><stop offset="0.188" stop-color="#00ffcd"/><stop offset="0.25" stop-color="#00ffca"/><stop offset="0.313" stop-color="#00ffc6"/><stop offset="0.375" stop-color="#00ffc2"/><stop offset="0.429" stop-color="#00ffbe"/><stop offset="0.5" stop-color="#a0ffb7"/><stop offset="0.525" stop-color="#b4ffb4"/><stop offset="0.563" stop-color="#ceffb0"/><stop offset="0.625" stop-color="#f2ffa7"/><stop offset="0.65" stop-color="#ffffa3"/><stop offset="0.688" stop-color="#ffed90"/><stop offset="0.75" stop-color="#ffd573"/><stop offset="0.812" stop-color="#ffc254"/><stop offset="0.886" stop-color="#ffae00"/><stop offset="0.937" stop-color="#ffa200"/><stop offset="1" stop-color="#ff9400"/></linearGradient><linearGradient id="g60" gradientUnits="userSpaceOnUse" x1="286.52" x2="454.45" y1="0" y2="0"><stop offset="0" stop-color="#00ffd7"/><stop offset="0.062" stop-color="#00ffd5"/><stop offset="0.125" stop-color="#00ffd2"/><stop offset="0.188" stop-color="#00ffd0"/><stop offset="0.25" stop-color="#00ffcd"/><stop offset="0.312" stop-color="#00ffc9"/><stop offset="0.375" stop-color="#00ffc5"/><stop offset="0.419" stop-color="#00ffc2"/><stop offset="0.438" stop-color="#5fffc0"/><stop offset="0.5" stop-color="#aaffbb"/><stop offset="0.519" stop-color="#b9ffb9"/><stop offset="0.562" stop-color="#d6ffb4"/><stop offset="0.634" stop-color="#ffffa9"/><stop offset="0.688" stop-color="#ffe68f"/><stop offset="0.75" stop-color="#ffcf73"/><stop offset="0.812" stop-color="#ffbc55"/><stop offset="0.875" stop-color="#ffab26"/><stop offset="0.89" stop-color="#ffa800"/><stop offset="0.938" stop-color="#ff9d00"/><stop offset="1" stop-color="#ff8f00"/></linearGradient><linearGradient id="g61" gradientUnits="userSpaceOnUse" x1="286.81" x2="456.47" y1="0" y2="0"><stop offset="0" stop-color="#00ffd9"/><stop offset="0.062" stop-color="#00ffd7"/><stop offset="0.125" stop-color="#00ffd5"/><stop offset="0.188" stop-color="#00ffd2"/><stop offset="0.25" stop-color="#00ffd0"/><stop offset="0.312" stop-color="#00ffcc"/><stop offset="0.375" stop-color="#00ffc8"/><stop offset="0.41" stop-color="#00ffc6"/><stop offset="0.438" stop-color="#71ffc4"/><stop offset="0.512" stop-color="#bdffbd"/><stop offset="0.562" stop-color="#dfffb7"/><stop offset="0.619" stop-color="#ffffb0"/><stop offset="0.688" stop-color="#ffdf8f"/><stop offset="0.75" stop-color="#ffc973"/><stop offset="0.812" stop-color="#ffb656"/><stop offset="0.875" stop-color="#ffa62b"/><stop offset="0.894" stop-color="#ffa100"/><stop offset="0.938" stop-color="#ff9700"/><stop offset="1" stop-color="#ff8900"/></linearGradient><linearGradient id="g62" gradientUnits="userSpaceOnUse" x1="287.1" x2="458.48" y1="0" y2="0"><stop offset="0" stop-color="#00ffdc"/><stop offset="0.062" stop-color="#00ffda"/><stop offset="0.125" stop-color="#00ffd8"/><stop offset="0.187" stop-color="#00ffd5"/><stop offset="0.25" stop-color="#00ffd2"/><stop offset="0.313" stop-color="#00ffcf"/><stop offset="0.375" stop-color="#00ffcb"/><stop offset="0.401" stop-color="#00ffca"/><stop offset="0.438" stop-color="#80ffc7"/><stop offset="0.506" stop-color="#c1ffc1"/><stop offset="0.562" stop-color="#e7ffbb"/><stop offset="0.604" stop-color="#ffffb6"/><stop offset="0.625" stop-color="#fff4ab"/><stop offset="0.687" stop-color="#ffd88e"/><stop offset="0.75" stop-color="#ffc374"/><stop offset="0.812" stop-color="#ffb057"/><stop offset="0.875" stop-color="#ffa02e"/><stop offset="0.898" stop-color="#ff9b00"/><stop offset="0.938" stop-color="#ff9200"/><stop offset="1" stop-color="#ff8300"/></linearGradient><linearGradient id="g63" gradientUnits="userSpaceOnUse" x1="287.4" x2="460.49" y1="0" y2="0"><stop offset="0" stop-color="#00ffde"/><stop offset="0.062" stop-color="#00ffdc"/><stop offset="0.125" stop-color="#00ffda"/><stop offset="0.187" stop-color="#00ffd8"/><stop offset="0.25" stop-color="#00ffd5"/><stop offset="0.312" stop-color="#00ffd2"/><stop offset="0.375" stop-color="#00ffcf"/><stop offset="0.392" stop-color="#00ffce"/><stop offset="0.438" stop-color="#8cffcb"/><stop offset="0.5" stop-color="#c6ffc6"/><stop offset="0.563" stop-color="#efffbf"/><stop offset="0.589" stop-color="#ffffbc"/><stop offset="0.625" stop-color="#ffecaa"/><stop offset="0.688" stop-color="#ffd28d"/><stop offset="0.75" stop-color="#ffbd74"/><stop offset="0.813" stop-color="#ffab58"/><stop offset="0.875" stop-color="#ff9b32"/><stop offset="0.902" stop-color="#ff9400"/><stop offset="0.938" stop-color="#ff8c00"/><stop offset="1" stop-color="#ff7e00"/></linearGradient><linearGradient id="g64" gradientUnits="userSpaceOnUse" x1="287.74" x2="462.5" y1="0" y2="0"><stop offset="0" stop-color="#00ffe1"/><stop offset="0.062" stop-color="#00ffdf"/><stop offset="0.125" stop-color="#00ffdd"/><stop offset="0.187" stop-color="#00ffdb"/><stop offset="0.25" stop-color="#00ffd8"/><stop offset="0.312" stop-color="#00ffd6"/><stop offset="0.383" stop-color="#00ffd2"/><stop offset="0.437" stop-color="#98ffce"/><stop offset="0.494" stop-color="#caffca"/><stop offset="0.575" stop-color="#ffffc2"/><stop offset="0.625" stop-color="#ffe5a8"/><stop offset="0.688" stop-color="#ffcb8d"/><stop offset="0.75" stop-color="#ffb774"/><stop offset="0.813" stop-color="#ffa559"/><stop offset="0.875" stop-color="#ff9534"/><stop offset="0.906" stop-color="#ff8d00"/><stop offset="0.938" stop-color="#ff8600"/><stop offset="1" stop-color="#ff7700"/></linearGradient><linearGradient id="g65" gradientUnits="userSpaceOnUse" x1="288.07" x2="464.52" y1="0" y2="0"><stop offset="0" stop-color="#00ffe3"/><stop offset="0.059" stop-color="#00ffe2"/><stop offset="0.118" stop-color="#00ffe0"/><stop offset="0.176" stop-color="#00ffde"/><stop offset="0.235" stop-color="#00ffdc"/><stop offset="0.294" stop-color="#00ffda"/><stop offset="0.353" stop-color="#00ffd7"/><stop offset="0.374" stop-color="#00ffd6"/><stop offset="0.412" stop-color="#85ffd4"/><stop offset="0.471" stop-color="#c1ffd0"/><stop offset="0.488" stop-color="#ceffce"/><stop offset="0.529" stop-color="#ebffcb"/><stop offset="0.56" stop-color="#ffffc8"/><stop offset="0.588" stop-color="#ffefb9"/><stop offset="0.647" stop-color="#ffd49d"/><stop offset="0.706" stop-color="#ffbf85"/><stop offset="0.765" stop-color="#ffad6e"/><stop offset="0.824" stop-color="#ff9c55"/><stop offset="0.882" stop-color="#ff8d31"/><stop offset="0.91" stop-color="#ff8700"/><stop offset="0.941" stop-color="#ff7f00"/><stop offset="1" stop-color="#ff7100"/></linearGradient><linearGradient id="g66" gradientUnits="userSpaceOnUse" x1="288.41" x2="466.54" y1="0" y2="0"><stop offset="0" stop-color="#00ffe6"/><stop offset="0.059" stop-color="#00ffe5"/><stop offset="0.118" stop-color="#00ffe3"/><stop offset="0.176" stop-color="#00ffe1"/><stop offset="0.235" stop-color="#00ffdf"/><stop offset="0.294" stop-color="#00ffdd"/><stop offset="0.366" stop-color="#00ffda"/><stop offset="0.412" stop-color="#92ffd7"/><stop offset="0.482" stop-color="#d3ffd3"/><stop offset="0.529" stop-color="#f4ffcf"/><stop offset="0.546" stop-color="#ffffce"/><stop offset="0.588" stop-color="#ffe8b7"/><stop offset="0.647" stop-color="#ffce9c"/><stop offset="0.706" stop-color="#ffb985"/><stop offset="0.765" stop-color="#ffa76e"/><stop offset="0.824" stop-color="#ff9755"/><stop offset="0.882" stop-color="#ff8833"/><stop offset="0.914" stop-color="#ff8000"/><stop offset="0.941" stop-color="#ff7900"/><stop offset="1" stop-color="#ff6a00"/></linearGradient><linearGradient id="g67" gradientUnits="userSpaceOnUse" x1="288.74" x2="468.56" y1="0" y2="0"><stop offset="0" stop-color="#00ffe9"/><stop offset="0.059" stop-color="#00ffe7"/><stop offset="0.118" stop-color="#00ffe6"/><stop offset="0.176" stop-color="#00ffe4"/><stop offset="0.235" stop-color="#00ffe3"/><stop offset="0.294" stop-color="#00ffe0"/><stop offset="0.357" stop-color="#00ffde"/><stop offset="0.412" stop-color="#9effdb"/><stop offset="0.476" stop-color="#d7ffd7"/><stop offset="0.533" stop-color="#ffffd3"/><stop offset="0.588" stop-color="#ffe0b5"/><stop offset="0.647" stop-color="#ffc79b"/><stop offset="0.706" stop-color="#ffb384"/><stop offset="0.765" stop-color="#ffa16e"/><stop offset="0.824" stop-color="#ff9156"/><stop offset="0.882" stop-color="#ff8136"/><stop offset="0.918" stop-color="#ff7800"/><stop offset="0.941" stop-color="#ff7200"/><stop offset="1" stop-color="#ff6300"/></linearGradient><linearGradient id="g68" gradientUnits="userSpaceOnUse" x1="289.08" x2="470.58" y1="0" y2="0"><stop offset="0" stop-color="#00ffeb"/><stop offset="0.059" stop-color="#00ffea"/><stop offset="0.118" stop-color="#00ffe9"/><stop offset="0.176" stop-color="#00ffe7"/><stop offset="0.235" stop-color="#00ffe6"/><stop offset="0.294" stop-color="#00ffe4"/><stop offset="0.349" stop-color="#00ffe2"/><stop offset="0.412" stop-color="#a9ffdf"/><stop offset="0.47" stop-color="#dcffdc"/><stop offset="0.519" stop-color="#ffffd9"/><stop offset="0.588" stop-color="#ffd9b3"/><stop offset="0.647" stop-color="#ffc19a"/><stop offset="0.706" stop-color="#ffad84"/><stop offset="0.765" stop-color="#ff9b6e"/><stop offset="0.824" stop-color="#ff8b57"/><stop offset="0.882" stop-color="#ff7b38"/><stop offset="0.921" stop-color="#ff7100"/><stop offset="0.941" stop-color="#ff6b00"/><stop offset="1" stop-color="#ff5b00"/></linearGradient><linearGradient id="g69" gradientUnits="userSpaceOnUse" x1="289.42" x2="472.6" y1="0" y2="0"><stop offset="0" stop-color="#00ffee"/><stop offset="0.059" stop-color="#00ffed"/><stop offset="0.118" stop-color="#00ffec"/><stop offset="0.176" stop-color="#00ffeb"/><stop offset="0.235" stop-color="#00ffe9"/><stop offset="0.294" stop-color="#00ffe8"/><stop offset="0.341" stop-color="#00ffe6"/><stop offset="0.412" stop-color="#b3ffe3"/><stop offset="0.464" stop-color="#e1ffe1"/><stop offset="0.506" stop-color="#ffffdf"/><stop offset="0.529" stop-color="#fff0d0"/><stop offset="0.588" stop-color="#ffd2b2"/><stop offset="0.647" stop-color="#ffba99"/><stop offset="0.706" stop-color="#ffa684"/><stop offset="0.765" stop-color="#ff956e"/><stop offset="0.824" stop-color="#ff8558"/><stop offset="0.882" stop-color="#ff753a"/><stop offset="0.925" stop-color="#ff6900"/><stop offset="0.941" stop-color="#ff6400"/><stop offset="1" stop-color="#ff5200"/></linearGradient><linearGradient id="g70" gradientUnits="userSpaceOnUse" x1="289.8" x2="474.62" y1="0" y2="0"><stop offset="0" stop-color="#00fff1"/><stop offset="0.059" stop-color="#00fff0"/><stop offset="0.118" stop-color="#00ffef"/><stop offset="0.176" stop-color="#00ffee"/><stop offset="0.235" stop-color="#00ffed"/><stop offset="0.294" stop-color="#00ffeb"/><stop offset="0.333" stop-color="#00ffea"/><stop offset="0.353" stop-color="#6effea"/><stop offset="0.412" stop-color="#beffe8"/><stop offset="0.459" stop-color="#e6ffe6"/><stop offset="0.493" stop-color="#ffffe4"/><stop offset="0.529" stop-color="#ffe8cd"/><stop offset="0.588" stop-color="#ffcbb1"/><stop offset="0.647" stop-color="#ffb499"/><stop offset="0.706" stop-color="#ffa083"/><stop offset="0.765" stop-color="#ff8f6e"/><stop offset="0.824" stop-color="#ff7e58"/><stop offset="0.882" stop-color="#ff6e3b"/><stop offset="0.928" stop-color="#ff6000"/><stop offset="1" stop-color="#ff4700"/></linearGradient><linearGradient id="g71" gradientUnits="userSpaceOnUse" x1="290.17" x2="476.65" y1="0" y2="0"><stop offset="0" stop-color="#00fff3"/><stop offset="0.059" stop-color="#00fff3"/><stop offset="0.118" stop-color="#00fff2"/><stop offset="0.176" stop-color="#00fff1"/><stop offset="0.235" stop-color="#00fff0"/><stop offset="0.294" stop-color="#00ffef"/><stop offset="0.325" stop-color="#00ffee"/><stop offset="0.353" stop-color="#80ffee"/><stop offset="0.412" stop-color="#c8ffec"/><stop offset="0.453" stop-color="#ebffeb"/><stop offset="0.48" stop-color="#ffffea"/><stop offset="0.529" stop-color="#ffe0cb"/><stop offset="0.588" stop-color="#ffc4af"/><stop offset="0.647" stop-color="#ffae98"/><stop offset="0.706" stop-color="#ff9a83"/><stop offset="0.765" stop-color="#ff886f"/><stop offset="0.824" stop-color="#ff7759"/><stop offset="0.882" stop-color="#ff663d"/><stop offset="0.932" stop-color="#ff5600"/><stop offset="1" stop-color="#ff3a00"/></linearGradient><linearGradient id="g72" gradientUnits="userSpaceOnUse" x1="290.55" x2="478.68" y1="0" y2="0"><stop offset="0" stop-color="#00fff6"/><stop offset="0.056" stop-color="#00fff6"/><stop offset="0.111" stop-color="#00fff5"/><stop offset="0.167" stop-color="#00fff5"/><stop offset="0.222" stop-color="#00fff4"/><stop offset="0.278" stop-color="#00fff3"/><stop offset="0.317" stop-color="#00fff3"/><stop offset="0.333" stop-color="#68fff2"/><stop offset="0.389" stop-color="#bbfff1"/><stop offset="0.448" stop-color="#f0fff0"/><stop offset="0.467" stop-color="#ffffef"/><stop offset="0.5" stop-color="#ffe9d9"/><stop offset="0.556" stop-color="#ffcbbc"/><stop offset="0.611" stop-color="#ffb4a5"/><stop offset="0.667" stop-color="#ffa190"/><stop offset="0.722" stop-color="#ff8f7d"/><stop offset="0.778" stop-color="#ff7e6a"/><stop offset="0.833" stop-color="#ff6d55"/><stop offset="0.889" stop-color="#ff5c3a"/><stop offset="0.935" stop-color="#ff4b00"/><stop offset="1" stop-color="#ff2600"/></linearGradient><linearGradient id="g73" gradientUnits="userSpaceOnUse" x1="290.92" x2="480.72" y1="0" y2="0"><stop offset="0" stop-color="#00fff9"/><stop offset="0.056" stop-color="#00fff9"/><stop offset="0.111" stop-color="#00fff9"/><stop offset="0.167" stop-color="#00fff8"/><stop offset="0.222" stop-color="#00fff8"/><stop offset="0.278" stop-color="#00fff7"/><stop offset="0.309" stop-color="#00fff7"/><stop offset="0.333" stop-color="#7bfff7"/><stop offset="0.389" stop-color="#c6fff6"/><stop offset="0.442" stop-color="#f5fff5"/><stop offset="0.455" stop-color="#fffff5"/><stop offset="0.5" stop-color="#ffe1d7"/><stop offset="0.556" stop-color="#ffc4bb"/><stop offset="0.611" stop-color="#ffaea4"/><stop offset="0.667" stop-color="#ff9a90"/><stop offset="0.722" stop-color="#ff887d"/><stop offset="0.778" stop-color="#ff776a"/><stop offset="0.833" stop-color="#ff6656"/><stop offset="0.889" stop-color="#ff523c"/><stop offset="0.938" stop-color="#ff3c00"/><stop offset="0.992" stop-color="#ff0000"/><stop offset="1" stop-color="#ff0000"/></linearGradient><linearGradient id="g74" gradientUnits="userSpaceOnUse" x1="291.3" x2="482.75" y1="0" y2="0"><stop offset="0" stop-color="#00fffc"/><stop offset="0.056" stop-color="#00fffc"/><stop offset="0.111" stop-color="#00fffc"/><stop offset="0.167" stop-color="#00fffc"/><stop offset="0.222" stop-color="#00fffc"/><stop offset="0.278" stop-color="#00fffb"/><stop offset="0.302" stop-color="#00fffb"/><stop offset="0.333" stop-color="#8bfffb"/><stop offset="0.389" stop-color="#d0fffb"/><stop offset="0.437" stop-color="#fbfffb"/><stop offset="0.442" stop-color="#fffffb"/><stop offset="0.5" stop-color="#ffd9d4"/><stop offset="0.556" stop-color="#ffbdb9"/><stop offset="0.611" stop-color="#ffa7a3"/><stop offset="0.667" stop-color="#ff948f"/><stop offset="0.722" stop-color="#ff827d"/><stop offset="0.778" stop-color="#ff706a"/><stop offset="0.833" stop-color="#ff5d56"/><stop offset="0.889" stop-color="#ff473d"/><stop offset="0.941" stop-color="#ff2600"/><stop offset="0.962" stop-color="#ff0000"/><stop offset="1" stop-color="#ff0000"/></linearGradient><linearGradient id="g75" gradientUnits="userSpaceOnUse" x1="291.68" x2="484.76" y1="0" y2="0"><stop offset="0" stop-color="#00ffff"/><stop offset="0.056" stop-color="#00ffff"/><stop offset="0.111" stop-color="#00ffff"/><stop offset="0.167" stop-color="#00ffff"/><stop offset="0.222" stop-color="#00feff"/><stop offset="0.278" stop-color="#00feff"/><stop offset="0.294" stop-color="#00feff"/><stop offset="0.333" stop-color="#98feff"/><stop offset="0.389" stop-color="#d9feff"/><stop offset="0.43" stop-color="#fefeff"/><stop offset="0.432" stop-color="#fffeff"/><stop offset="0.5" stop-color="#ffd1d2"/><stop offset="0.556" stop-color="#ffb6b8"/><stop offset="0.611" stop-color="#ffa1a2"/><stop offset="0.667" stop-color="#ff8d8f"/><stop offset="0.722" stop-color="#ff7b7d"/><stop offset="0.778" stop-color="#ff686b"/><stop offset="0.833" stop-color="#ff5457"/><stop offset="0.889" stop-color="#ff393e"/><stop offset="0.933" stop-color="#ff001a"/><stop offset="0.944" stop-color="#ff0000"/><stop offset="1" stop-color="#ff0000"/></linearGradient><linearGradient id="g76" gradientUnits="userSpaceOnUse" x1="292.1" x2="486.77" y1="0" y2="0"><stop offset="0" stop-color="#00fcff"/><stop offset="0.056" stop-color="#00fbff"/><stop offset="0.111" stop-color="#00fbff"/><stop offset="0.167" stop-color="#00fbff"/><stop offset="0.222" stop-color="#00faff"/><stop offset="0.287" stop-color="#00faff"/><stop offset="0.333" stop-color="#a2f9ff"/><stop offset="0.389" stop-color="#dff9ff"/><stop offset="0.418" stop-color="#f8f8ff"/><stop offset="0.427" stop-color="#fff8ff"/><stop offset="0.444" stop-color="#ffebf1"/><stop offset="0.5" stop-color="#ffc9d0"/><stop offset="0.556" stop-color="#ffb0b7"/><stop offset="0.611" stop-color="#ff9aa1"/><stop offset="0.667" stop-color="#ff868e"/><stop offset="0.722" stop-color="#ff737d"/><stop offset="0.778" stop-color="#ff606b"/><stop offset="0.833" stop-color="#ff4857"/><stop offset="0.889" stop-color="#ff223f"/><stop offset="0.905" stop-color="#ff0037"/><stop offset="0.948" stop-color="#ff0000"/><stop offset="1" stop-color="#ff0000"/></linearGradient><linearGradient id="g77" gradientUnits="userSpaceOnUse" x1="292.51" x2="488.78" y1="0" y2="0"><stop offset="0" stop-color="#00f9ff"/><stop offset="0.056" stop-color="#00f8ff"/><stop offset="0.111" stop-color="#00f8ff"/><stop offset="0.167" stop-color="#00f7ff"/><stop offset="0.222" stop-color="#00f6ff"/><stop offset="0.28" stop-color="#00f5ff"/><stop offset="0.333" stop-color="#abf5ff"/><stop offset="0.389" stop-color="#e4f3ff"/><stop offset="0.407" stop-color="#f3f3ff"/><stop offset="0.421" stop-color="#fff3ff"/><stop offset="0.444" stop-color="#ffe2ee"/><stop offset="0.5" stop-color="#ffc2ce"/><stop offset="0.556" stop-color="#ffa9b5"/><stop offset="0.611" stop-color="#ff93a0"/><stop offset="0.667" stop-color="#ff7f8e"/><stop offset="0.722" stop-color="#ff6b7c"/><stop offset="0.778" stop-color="#ff566b"/><stop offset="0.833" stop-color="#ff3a58"/><stop offset="0.877" stop-color="#ff0046"/><stop offset="0.951" stop-color="#ff0000"/><stop offset="1" stop-color="#ff0000"/></linearGradient><linearGradient id="g78" gradientUnits="userSpaceOnUse" x1="292.93" x2="490.81" y1="0" y2="0"><stop offset="0" stop-color="#00f6ff"/><stop offset="0.056" stop-color="#00f5ff"/><stop offset="0.111" stop-color="#00f4ff"/><stop offset="0.167" stop-color="#00f3ff"/><stop offset="0.222" stop-color="#00f2ff"/><stop offset="0.273" stop-color="#00f1ff"/><stop offset="0.333" stop-color="#b2f0ff"/><stop offset="0.395" stop-color="#eeeeff"/><stop offset="0.416" stop-color="#ffedff"/><stop offset="0.444" stop-color="#ffd9eb"/><stop offset="0.5" stop-color="#ffbacc"/><stop offset="0.556" stop-color="#ffa2b4"/><stop offset="0.611" stop-color="#ff8ca0"/><stop offset="0.667" stop-color="#ff788d"/><stop offset="0.722" stop-color="#ff637c"/><stop offset="0.778" stop-color="#ff4b6b"/><stop offset="0.833" stop-color="#ff2358"/><stop offset="0.849" stop-color="#ff0053"/><stop offset="0.889" stop-color="#ff0042"/><stop offset="0.954" stop-color="#ff0000"/><stop offset="1" stop-color="#ff0000"/></linearGradient><linearGradient id="g79" gradientUnits="userSpaceOnUse" x1="293.34" x2="492.84" y1="0" y2="0"><stop offset="0" stop-color="#00f2ff"/><stop offset="0.053" stop-color="#00f2ff"/><stop offset="0.105" stop-color="#00f1ff"/><stop offset="0.158" stop-color="#00f0ff"/><stop offset="0.211" stop-color="#00eeff"/><stop offset="0.265" stop-color="#00edff"/><stop offset="0.316" stop-color="#a4ebff"/><stop offset="0.368" stop-color="#dbe9ff"/><stop offset="0.384" stop-color="#e9e9ff"/><stop offset="0.411" stop-color="#ffe7ff"/><stop offset="0.474" stop-color="#ffc0d7"/><stop offset="0.526" stop-color="#ffa7bf"/><stop offset="0.579" stop-color="#ff91aa"/><stop offset="0.632" stop-color="#ff7d98"/><stop offset="0.684" stop-color="#ff6988"/><stop offset="0.737" stop-color="#ff5378"/><stop offset="0.789" stop-color="#ff3467"/><stop offset="0.822" stop-color="#ff005d"/><stop offset="0.842" stop-color="#ff0056"/><stop offset="0.895" stop-color="#ff0040"/><stop offset="0.956" stop-color="#ff0000"/><stop offset="1" stop-color="#ff0000"/></linearGradient><linearGradient id="g80" gradientUnits="userSpaceOnUse" x1="293.76" x2="494.85" y1="0" y2="0"><stop offset="0" stop-color="#00efff"/><stop offset="0.053" stop-color="#00eeff"/><stop offset="0.105" stop-color="#00edff"/><stop offset="0.158" stop-color="#00ecff"/><stop offset="0.211" stop-color="#00eaff"/><stop offset="0.259" stop-color="#00e9ff"/><stop offset="0.316" stop-color="#ace7ff"/><stop offset="0.373" stop-color="#e4e4ff"/><stop offset="0.407" stop-color="#ffe2ff"/><stop offset="0.421" stop-color="#ffd8f4"/><stop offset="0.474" stop-color="#ffb9d5"/><stop offset="0.526" stop-color="#ffa0bd"/><stop offset="0.579" stop-color="#ff8aa9"/><stop offset="0.632" stop-color="#ff7598"/><stop offset="0.684" stop-color="#ff6087"/><stop offset="0.737" stop-color="#ff4678"/><stop offset="0.795" stop-color="#ff0066"/><stop offset="0.842" stop-color="#ff0056"/><stop offset="0.895" stop-color="#ff0041"/><stop offset="0.959" stop-color="#ff0000"/><stop offset="1" stop-color="#ff0000"/></linearGradient><linearGradient id="g81" gradientUnits="userSpaceOnUse" x1="294.2" x2="496.86" y1="0" y2="0"><stop offset="0" stop-color="#00ecff"/><stop offset="0.053" stop-color="#00ebff"/><stop offset="0.105" stop-color="#00eaff"/><stop offset="0.158" stop-color="#00e8ff"/><stop offset="0.211" stop-color="#00e6ff"/><stop offset="0.252" stop-color="#00e5ff"/><stop offset="0.316" stop-color="#b3e2ff"/><stop offset="0.362" stop-color="#dfdfff"/><stop offset="0.402" stop-color="#ffdcff"/><stop offset="0.421" stop-color="#ffcff1"/><stop offset="0.474" stop-color="#ffb1d3"/><stop offset="0.526" stop-color="#ff98bc"/><stop offset="0.579" stop-color="#ff82a8"/><stop offset="0.632" stop-color="#ff6d97"/><stop offset="0.684" stop-color="#ff5587"/><stop offset="0.737" stop-color="#ff3577"/><stop offset="0.769" stop-color="#ff006e"/><stop offset="0.789" stop-color="#ff0068"/><stop offset="0.842" stop-color="#ff0057"/><stop offset="0.895" stop-color="#ff0042"/><stop offset="0.947" stop-color="#ff001e"/><stop offset="0.962" stop-color="#ff0000"/><stop offset="1" stop-color="#ff0000"/></linearGradient><linearGradient id="g82" gradientUnits="userSpaceOnUse" x1="294.65" x2="498.88" y1="0" y2="0"><stop offset="0" stop-color="#00e9ff"/><stop offset="0.053" stop-color="#00e8ff"/><stop offset="0.105" stop-color="#00e6ff"/><stop offset="0.158" stop-color="#00e4ff"/><stop offset="0.211" stop-color="#00e2ff"/><stop offset="0.245" stop-color="#00e1ff"/><stop offset="0.263" stop-color="#6de0ff"/><stop offset="0.316" stop-color="#b9ddff"/><stop offset="0.351" stop-color="#dadaff"/><stop offset="0.368" stop-color="#e9d9ff"/><stop offset="0.397" stop-color="#ffd7ff"/><stop offset="0.421" stop-color="#ffc6ee"/><stop offset="0.474" stop-color="#ffa9d2"/><stop offset="0.526" stop-color="#ff91bb"/><stop offset="0.579" stop-color="#ff7aa8"/><stop offset="0.632" stop-color="#ff6497"/><stop offset="0.684" stop-color="#ff4987"/><stop offset="0.743" stop-color="#ff0076"/><stop offset="0.789" stop-color="#ff0068"/><stop offset="0.842" stop-color="#ff0057"/><stop offset="0.895" stop-color="#ff0042"/><stop offset="0.947" stop-color="#ff0021"/><stop offset="0.965" stop-color="#ff0000"/><stop offset="1" stop-color="#ff0000"/></linearGradient><linearGradient id="g83" gradientUnits="userSpaceOnUse" x1="295.1" x2="500.91" y1="0" y2="0"><stop offset="0" stop-color="#00e6ff"/><stop offset="0.053" stop-color="#00e4ff"/><stop offset="0.105" stop-color="#00e3ff"/><stop offset="0.158" stop-color="#00e0ff"/><stop offset="0.211" stop-color="#00deff"/><stop offset="0.238" stop-color="#00dcff"/><stop offset="0.263" stop-color="#7bdbff"/><stop offset="0.316" stop-color="#bfd7ff"/><stop offset="0.34" stop-color="#d6d6ff"/><stop offset="0.368" stop-color="#edd3ff"/><stop offset="0.392" stop-color="#ffd1ff"/><stop offset="0.421" stop-color="#ffbeec"/><stop offset="0.474" stop-color="#ffa1d0"/><stop offset="0.526" stop-color="#ff89ba"/><stop offset="0.579" stop-color="#ff72a7"/><stop offset="0.632" stop-color="#ff5996"/><stop offset="0.684" stop-color="#ff3886"/><stop offset="0.717" stop-color="#ff007d"/><stop offset="0.737" stop-color="#ff0077"/><stop offset="0.789" stop-color="#ff0068"/><stop offset="0.842" stop-color="#ff0057"/><stop offset="0.895" stop-color="#ff0043"/><stop offset="0.947" stop-color="#ff0023"/><stop offset="0.968" stop-color="#ff0000"/><stop offset="1" stop-color="#ff0000"/></linearGradient><linearGradient id="g84" gradientUnits="userSpaceOnUse" x1="295.55" x2="501.92" y1="0" y2="0"><stop offset="0" stop-color="#00e3ff"/><stop offset="0.053" stop-color="#00e1ff"/><stop offset="0.105" stop-color="#00dfff"/><stop offset="0.158" stop-color="#00ddff"/><stop offset="0.211" stop-color="#00daff"/><stop offset="0.232" stop-color="#00d8ff"/><stop offset="0.263" stop-color="#84d6ff"/><stop offset="0.316" stop-color="#c3d2ff"/><stop offset="0.331" stop-color="#d1d1ff"/><stop offset="0.368" stop-color="#f0cdff"/><stop offset="0.389" stop-color="#ffcbff"/><stop offset="0.421" stop-color="#ffb7ea"/><stop offset="0.474" stop-color="#ff9bcf"/><stop offset="0.526" stop-color="#ff82ba"/><stop offset="0.579" stop-color="#ff6aa7"/><stop offset="0.632" stop-color="#ff4e97"/><stop offset="0.695" stop-color="#ff0084"/><stop offset="0.737" stop-color="#ff0078"/><stop offset="0.789" stop-color="#ff0069"/><stop offset="0.842" stop-color="#ff0059"/><stop offset="0.895" stop-color="#ff0046"/><stop offset="0.947" stop-color="#ff0029"/><stop offset="0.975" stop-color="#ff0000"/><stop offset="1" stop-color="#ff0000"/></linearGradient><linearGradient id="g85" gradientUnits="userSpaceOnUse" x1="296.01" x2="501.55" y1="0" y2="0"><stop offset="0" stop-color="#00e0ff"/><stop offset="0.053" stop-color="#00deff"/><stop offset="0.105" stop-color="#00dbff"/><stop offset="0.158" stop-color="#00d9ff"/><stop offset="0.211" stop-color="#00d6ff"/><stop offset="0.228" stop-color="#00d4ff"/><stop offset="0.263" stop-color="#89d2ff"/><stop offset="0.324" stop-color="#cdcdff"/><stop offset="0.368" stop-color="#f0c8ff"/><stop offset="0.389" stop-color="#ffc5ff"/><stop offset="0.421" stop-color="#ffb1eb"/><stop offset="0.474" stop-color="#ff95d0"/><stop offset="0.526" stop-color="#ff7cbb"/><stop offset="0.579" stop-color="#ff63a8"/><stop offset="0.632" stop-color="#ff4498"/><stop offset="0.678" stop-color="#ff008b"/><stop offset="0.737" stop-color="#ff007b"/><stop offset="0.789" stop-color="#ff006c"/><stop offset="0.842" stop-color="#ff005c"/><stop offset="0.895" stop-color="#ff004b"/><stop offset="0.947" stop-color="#ff0032"/><stop offset="0.989" stop-color="#ff0000"/><stop offset="1" stop-color="#ff0000"/></linearGradient><linearGradient id="g86" gradientUnits="userSpaceOnUse" x1="296.48" x2="497.22" y1="0" y2="0"><stop offset="0" stop-color="#00ddff"/><stop offset="0.053" stop-color="#00daff"/><stop offset="0.105" stop-color="#00d8ff"/><stop offset="0.158" stop-color="#00d5ff"/><stop offset="0.211" stop-color="#00d2ff"/><stop offset="0.229" stop-color="#00d0ff"/><stop offset="0.263" stop-color="#86ceff"/><stop offset="0.323" stop-color="#c8c8ff"/><stop offset="0.368" stop-color="#ebc3ff"/><stop offset="0.397" stop-color="#ffbfff"/><stop offset="0.421" stop-color="#ffb0f0"/><stop offset="0.474" stop-color="#ff94d5"/><stop offset="0.526" stop-color="#ff7bc0"/><stop offset="0.579" stop-color="#ff61ad"/><stop offset="0.632" stop-color="#ff429d"/><stop offset="0.674" stop-color="#ff0092"/><stop offset="0.737" stop-color="#ff0081"/><stop offset="0.789" stop-color="#ff0073"/><stop offset="0.842" stop-color="#ff0064"/><stop offset="0.895" stop-color="#ff0055"/><stop offset="0.947" stop-color="#ff0042"/><stop offset="1" stop-color="#ff0024"/></linearGradient><linearGradient id="g87" gradientUnits="userSpaceOnUse" x1="296.98" x2="492.88" y1="0" y2="0"><stop offset="0" stop-color="#00d9ff"/><stop offset="0.056" stop-color="#00d7ff"/><stop offset="0.111" stop-color="#00d4ff"/><stop offset="0.167" stop-color="#00d1ff"/><stop offset="0.229" stop-color="#00ccff"/><stop offset="0.278" stop-color="#97c8ff"/><stop offset="0.323" stop-color="#c4c4ff"/><stop offset="0.389" stop-color="#f5bcff"/><stop offset="0.404" stop-color="#ffb9ff"/><stop offset="0.444" stop-color="#ffa2e8"/><stop offset="0.5" stop-color="#ff86cf"/><stop offset="0.556" stop-color="#ff6bba"/><stop offset="0.611" stop-color="#ff4da9"/><stop offset="0.669" stop-color="#ff0098"/><stop offset="0.722" stop-color="#ff008a"/><stop offset="0.778" stop-color="#ff007c"/><stop offset="0.833" stop-color="#ff006e"/><stop offset="0.889" stop-color="#ff005f"/><stop offset="0.944" stop-color="#ff004e"/><stop offset="1" stop-color="#ff0039"/></linearGradient><linearGradient id="g88" gradientUnits="userSpaceOnUse" x1="297.47" x2="488.55" y1="0" y2="0"><stop offset="0" stop-color="#00d6ff"/><stop offset="0.056" stop-color="#00d4ff"/><stop offset="0.111" stop-color="#00d1ff"/><stop offset="0.167" stop-color="#00cdff"/><stop offset="0.229" stop-color="#00c8ff"/><stop offset="0.278" stop-color="#94c4ff"/><stop offset="0.322" stop-color="#bfbfff"/><stop offset="0.389" stop-color="#f0b7ff"/><stop offset="0.412" stop-color="#ffb3ff"/><stop offset="0.444" stop-color="#ffa1ed"/><stop offset="0.5" stop-color="#ff85d4"/><stop offset="0.556" stop-color="#ff69bf"/><stop offset="0.611" stop-color="#ff4aae"/><stop offset="0.664" stop-color="#ff009f"/><stop offset="0.722" stop-color="#ff0090"/><stop offset="0.778" stop-color="#ff0082"/><stop offset="0.833" stop-color="#ff0075"/><stop offset="0.889" stop-color="#ff0067"/><stop offset="0.944" stop-color="#ff0058"/><stop offset="1" stop-color="#ff0047"/></linearGradient><linearGradient id="g89" gradientUnits="userSpaceOnUse" x1="297.97" x2="484.22" y1="0" y2="0"><stop offset="0" stop-color="#00d3ff"/><stop offset="0.059" stop-color="#00d0ff"/><stop offset="0.118" stop-color="#00cdff"/><stop offset="0.176" stop-color="#00c9ff"/><stop offset="0.229" stop-color="#00c4ff"/><stop offset="0.294" stop-color="#a3beff"/><stop offset="0.321" stop-color="#bbbbff"/><stop offset="0.353" stop-color="#d3b7ff"/><stop offset="0.421" stop-color="#ffadff"/><stop offset="0.471" stop-color="#ff92e5"/><stop offset="0.529" stop-color="#ff75cd"/><stop offset="0.588" stop-color="#ff56b9"/><stop offset="0.659" stop-color="#ff00a5"/><stop offset="0.706" stop-color="#ff0099"/><stop offset="0.765" stop-color="#ff008b"/><stop offset="0.824" stop-color="#ff007d"/><stop offset="0.882" stop-color="#ff0070"/><stop offset="0.941" stop-color="#ff0061"/><stop offset="1" stop-color="#ff0052"/></linearGradient><linearGradient id="g90" gradientUnits="userSpaceOnUse" x1="298.47" x2="479.88" y1="0" y2="0"><stop offset="0" stop-color="#00d0ff"/><stop offset="0.059" stop-color="#00cdff"/><stop offset="0.118" stop-color="#00c9ff"/><stop offset="0.176" stop-color="#00c5ff"/><stop offset="0.23" stop-color="#00c0ff"/><stop offset="0.294" stop-color="#a0baff"/><stop offset="0.32" stop-color="#b7b7ff"/><stop offset="0.353" stop-color="#cfb3ff"/><stop offset="0.412" stop-color="#f5aaff"/><stop offset="0.43" stop-color="#ffa6ff"/><stop offset="0.471" stop-color="#ff90ea"/><stop offset="0.529" stop-color="#ff73d2"/><stop offset="0.588" stop-color="#ff53be"/><stop offset="0.654" stop-color="#ff00ac"/><stop offset="0.706" stop-color="#ff009e"/><stop offset="0.765" stop-color="#ff0091"/><stop offset="0.824" stop-color="#ff0083"/><stop offset="0.882" stop-color="#ff0076"/><stop offset="0.941" stop-color="#ff0069"/><stop offset="1" stop-color="#ff005b"/></linearGradient><linearGradient id="g91" gradientUnits="userSpaceOnUse" x1="299.01" x2="475.55" y1="0" y2="0"><stop offset="0" stop-color="#00ccff"/><stop offset="0.059" stop-color="#00c9ff"/><stop offset="0.118" stop-color="#00c5ff"/><stop offset="0.176" stop-color="#00c1ff"/><stop offset="0.23" stop-color="#00bcff"/><stop offset="0.294" stop-color="#9db6ff"/><stop offset="0.319" stop-color="#b3b3ff"/><stop offset="0.353" stop-color="#ccaeff"/><stop offset="0.412" stop-color="#f0a5ff"/><stop offset="0.439" stop-color="#ff9fff"/><stop offset="0.471" stop-color="#ff8fef"/><stop offset="0.529" stop-color="#ff71d7"/><stop offset="0.588" stop-color="#ff50c3"/><stop offset="0.648" stop-color="#ff00b2"/><stop offset="0.706" stop-color="#ff00a4"/><stop offset="0.765" stop-color="#ff0096"/><stop offset="0.824" stop-color="#ff0089"/><stop offset="0.882" stop-color="#ff007d"/><stop offset="0.941" stop-color="#ff0070"/><stop offset="1" stop-color="#ff0063"/></linearGradient><linearGradient id="g92" gradientUnits="userSpaceOnUse" x1="299.56" x2="471.22" y1="0" y2="0"><stop offset="0" stop-color="#00c9ff"/><stop offset="0.062" stop-color="#00c5ff"/><stop offset="0.125" stop-color="#00c1ff"/><stop offset="0.187" stop-color="#00bcff"/><stop offset="0.23" stop-color="#00b8ff"/><stop offset="0.25" stop-color="#62b6ff"/><stop offset="0.318" stop-color="#aeaeff"/><stop offset="0.375" stop-color="#d6a6ff"/><stop offset="0.449" stop-color="#ff98ff"/><stop offset="0.5" stop-color="#ff7ee8"/><stop offset="0.562" stop-color="#ff5dd1"/><stop offset="0.625" stop-color="#ff2cbe"/><stop offset="0.642" stop-color="#ff00b9"/><stop offset="0.688" stop-color="#ff00ad"/><stop offset="0.75" stop-color="#ff009f"/><stop offset="0.813" stop-color="#ff0091"/><stop offset="0.875" stop-color="#ff0084"/><stop offset="0.938" stop-color="#ff0078"/><stop offset="1" stop-color="#ff006b"/></linearGradient><linearGradient id="g93" gradientUnits="userSpaceOnUse" x1="300.11" x2="466.88" y1="0" y2="0"><stop offset="0" stop-color="#00c6ff"/><stop offset="0.062" stop-color="#00c2ff"/><stop offset="0.125" stop-color="#00bdff"/><stop offset="0.188" stop-color="#00b8ff"/><stop offset="0.23" stop-color="#00b4ff"/><stop offset="0.25" stop-color="#60b2ff"/><stop offset="0.316" stop-color="#aaaaff"/><stop offset="0.375" stop-color="#d2a2ff"/><stop offset="0.438" stop-color="#f496ff"/><stop offset="0.459" stop-color="#ff91ff"/><stop offset="0.5" stop-color="#ff7ced"/><stop offset="0.562" stop-color="#ff5ad6"/><stop offset="0.636" stop-color="#ff00c0"/><stop offset="0.688" stop-color="#ff00b3"/><stop offset="0.75" stop-color="#ff00a4"/><stop offset="0.812" stop-color="#ff0097"/><stop offset="0.875" stop-color="#ff008a"/><stop offset="0.938" stop-color="#ff007e"/><stop offset="1" stop-color="#ff0072"/></linearGradient><linearGradient id="g94" gradientUnits="userSpaceOnUse" x1="300.67" x2="462.55" y1="0" y2="0"><stop offset="0" stop-color="#00c2ff"/><stop offset="0.067" stop-color="#00beff"/><stop offset="0.133" stop-color="#00b9ff"/><stop offset="0.2" stop-color="#00b3ff"/><stop offset="0.23" stop-color="#00b0ff"/><stop offset="0.267" stop-color="#77acff"/><stop offset="0.315" stop-color="#a6a6ff"/><stop offset="0.333" stop-color="#b3a3ff"/><stop offset="0.4" stop-color="#dc98ff"/><stop offset="0.471" stop-color="#ff89ff"/><stop offset="0.533" stop-color="#ff67e5"/><stop offset="0.6" stop-color="#ff3acf"/><stop offset="0.629" stop-color="#ff00c7"/><stop offset="0.667" stop-color="#ff00bd"/><stop offset="0.733" stop-color="#ff00ad"/><stop offset="0.8" stop-color="#ff009f"/><stop offset="0.867" stop-color="#ff0092"/><stop offset="0.933" stop-color="#ff0085"/><stop offset="1" stop-color="#ff0079"/></linearGradient><linearGradient id="g95" gradientUnits="userSpaceOnUse" x1="301.26" x2="458.22" y1="0" y2="0"><stop offset="0" stop-color="#00bfff"/><stop offset="0.067" stop-color="#00baff"/><stop offset="0.133" stop-color="#00b5ff"/><stop offset="0.2" stop-color="#00afff"/><stop offset="0.23" stop-color="#00acff"/><stop offset="0.267" stop-color="#75a8ff"/><stop offset="0.313" stop-color="#a2a2ff"/><stop offset="0.333" stop-color="#b09fff"/><stop offset="0.4" stop-color="#d794ff"/><stop offset="0.482" stop-color="#ff80ff"/><stop offset="0.533" stop-color="#ff64ea"/><stop offset="0.6" stop-color="#ff32d4"/><stop offset="0.622" stop-color="#ff00ce"/><stop offset="0.667" stop-color="#ff00c2"/><stop offset="0.733" stop-color="#ff00b2"/><stop offset="0.8" stop-color="#ff00a4"/><stop offset="0.867" stop-color="#ff0097"/><stop offset="0.933" stop-color="#ff008b"/><stop offset="1" stop-color="#ff007f"/></linearGradient><linearGradient id="g96" gradientUnits="userSpaceOnUse" x1="301.87" x2="453.88" y1="0" y2="0"><stop offset="0" stop-color="#00bbff"/><stop offset="0.071" stop-color="#00b6ff"/><stop offset="0.143" stop-color="#00b0ff"/><stop offset="0.23" stop-color="#00a8ff"/><stop offset="0.286" stop-color="#88a1ff"/><stop offset="0.311" stop-color="#9d9dff"/><stop offset="0.357" stop-color="#bc96ff"/><stop offset="0.429" stop-color="#e189ff"/><stop offset="0.494" stop-color="#ff77ff"/><stop offset="0.571" stop-color="#ff47e2"/><stop offset="0.614" stop-color="#ff00d6"/><stop offset="0.643" stop-color="#ff00ce"/><stop offset="0.714" stop-color="#ff00bc"/><stop offset="0.786" stop-color="#ff00ad"/><stop offset="0.857" stop-color="#ff009f"/><stop offset="0.929" stop-color="#ff0092"/><stop offset="1" stop-color="#ff0086"/></linearGradient><linearGradient id="g97" gradientUnits="userSpaceOnUse" x1="302.49" x2="449.55" y1="0" y2="0"><stop offset="0" stop-color="#00b7ff"/><stop offset="0.071" stop-color="#00b2ff"/><stop offset="0.143" stop-color="#00acff"/><stop offset="0.23" stop-color="#00a3ff"/><stop offset="0.286" stop-color="#859cff"/><stop offset="0.309" stop-color="#9999ff"/><stop offset="0.357" stop-color="#b892ff"/><stop offset="0.429" stop-color="#dd83ff"/><stop offset="0.507" stop-color="#ff6cff"/><stop offset="0.571" stop-color="#ff40e8"/><stop offset="0.605" stop-color="#ff00dd"/><stop offset="0.643" stop-color="#ff00d3"/><stop offset="0.714" stop-color="#ff00c1"/><stop offset="0.786" stop-color="#ff00b2"/><stop offset="0.857" stop-color="#ff00a5"/><stop offset="0.929" stop-color="#ff0098"/><stop offset="1" stop-color="#ff008c"/></linearGradient><linearGradient id="g98" gradientUnits="userSpaceOnUse" x1="303.1" x2="445.22" y1="0" y2="0"><stop offset="0" stop-color="#00b3ff"/><stop offset="0.077" stop-color="#00aeff"/><stop offset="0.154" stop-color="#00a7ff"/><stop offset="0.229" stop-color="#009fff"/><stop offset="0.307" stop-color="#9595ff"/><stop offset="0.385" stop-color="#c388ff"/><stop offset="0.462" stop-color="#e775ff"/><stop offset="0.521" stop-color="#ff5fff"/><stop offset="0.596" stop-color="#ff00e5"/><stop offset="0.615" stop-color="#ff00e0"/><stop offset="0.692" stop-color="#ff00cc"/><stop offset="0.769" stop-color="#ff00bb"/><stop offset="0.846" stop-color="#ff00ac"/><stop offset="0.923" stop-color="#ff009f"/><stop offset="1" stop-color="#ff0092"/></linearGradient><linearGradient id="g99" gradientUnits="userSpaceOnUse" x1="303.77" x2="440.88" y1="0" y2="0"><stop offset="0" stop-color="#00b0ff"/><stop offset="0.077" stop-color="#00aaff"/><stop offset="0.154" stop-color="#00a3ff"/><stop offset="0.229" stop-color="#009bff"/><stop offset="0.305" stop-color="#9090ff"/><stop offset="0.385" stop-color="#c082ff"/><stop offset="0.462" stop-color="#e26fff"/><stop offset="0.536" stop-color="#ff4fff"/><stop offset="0.587" stop-color="#ff00ee"/><stop offset="0.615" stop-color="#ff00e5"/><stop offset="0.692" stop-color="#ff00d1"/><stop offset="0.769" stop-color="#ff00c1"/><stop offset="0.846" stop-color="#ff00b2"/><stop offset="0.923" stop-color="#ff00a5"/><stop offset="1" stop-color="#ff0098"/></linearGradient><linearGradient id="g100" gradientUnits="userSpaceOnUse" x1="304.45" x2="436.55" y1="0" y2="0"><stop offset="0" stop-color="#00acff"/><stop offset="0.077" stop-color="#00a6ff"/><stop offset="0.154" stop-color="#009eff"/><stop offset="0.228" stop-color="#0096ff"/><stop offset="0.302" stop-color="#8c8cff"/><stop offset="0.385" stop-color="#bc7dff"/><stop offset="0.462" stop-color="#dd69ff"/><stop offset="0.552" stop-color="#ff38ff"/><stop offset="0.576" stop-color="#ff00f7"/><stop offset="0.615" stop-color="#ff00eb"/><stop offset="0.692" stop-color="#ff00d7"/><stop offset="0.769" stop-color="#ff00c6"/><stop offset="0.846" stop-color="#ff00b8"/><stop offset="0.923" stop-color="#ff00aa"/><stop offset="1" stop-color="#ff009e"/></linearGradient><linearGradient id="g101" gradientUnits="userSpaceOnUse" x1="305.12" x2="432.22" y1="0" y2="0"><stop offset="0" stop-color="#00a7ff"/><stop offset="0.083" stop-color="#00a1ff"/><stop offset="0.167" stop-color="#0099ff"/><stop offset="0.227" stop-color="#0091ff"/><stop offset="0.25" stop-color="#568fff"/><stop offset="0.299" stop-color="#8787ff"/><stop offset="0.333" stop-color="#9e82ff"/><stop offset="0.417" stop-color="#c770ff"/><stop offset="0.5" stop-color="#e752ff"/><stop offset="0.565" stop-color="#fd00ff"/><stop offset="0.569" stop-color="#ff00ff"/><stop offset="0.667" stop-color="#ff00e3"/><stop offset="0.75" stop-color="#ff00d0"/><stop offset="0.833" stop-color="#ff00c0"/><stop offset="0.917" stop-color="#ff00b1"/><stop offset="1" stop-color="#ff00a4"/></linearGradient><linearGradient id="g102" gradientUnits="userSpaceOnUse" x1="305.82" x2="427.88" y1="0" y2="0"><stop offset="0" stop-color="#00a3ff"/><stop offset="0.083" stop-color="#009cff"/><stop offset="0.167" stop-color="#0094ff"/><stop offset="0.226" stop-color="#008dff"/><stop offset="0.25" stop-color="#558aff"/><stop offset="0.296" stop-color="#8383ff"/><stop offset="0.333" stop-color="#9b7cff"/><stop offset="0.417" stop-color="#c369ff"/><stop offset="0.5" stop-color="#e24aff"/><stop offset="0.552" stop-color="#f400ff"/><stop offset="0.588" stop-color="#ff00ff"/><stop offset="0.667" stop-color="#ff00e9"/><stop offset="0.75" stop-color="#ff00d6"/><stop offset="0.833" stop-color="#ff00c6"/><stop offset="0.917" stop-color="#ff00b7"/><stop offset="1" stop-color="#ff00ab"/></linearGradient><linearGradient id="g103" gradientUnits="userSpaceOnUse" x1="306.55" x2="423.55" y1="0" y2="0"><stop offset="0" stop-color="#009fff"/><stop offset="0.091" stop-color="#0097ff"/><stop offset="0.182" stop-color="#008dff"/><stop offset="0.225" stop-color="#0088ff"/><stop offset="0.292" stop-color="#7e7eff"/><stop offset="0.364" stop-color="#a870ff"/><stop offset="0.455" stop-color="#cd56ff"/><stop offset="0.539" stop-color="#ea00ff"/><stop offset="0.608" stop-color="#ff00ff"/><stop offset="0.636" stop-color="#ff00f7"/><stop offset="0.727" stop-color="#ff00e1"/><stop offset="0.818" stop-color="#ff00ce"/><stop offset="0.909" stop-color="#ff00bf"/><stop offset="1" stop-color="#ff00b1"/></linearGradient><linearGradient id="g104" gradientUnits="userSpaceOnUse" x1="307.27" x2="419.22" y1="0" y2="0"><stop offset="0" stop-color="#009aff"/><stop offset="0.091" stop-color="#0092ff"/><stop offset="0.182" stop-color="#0088ff"/><stop offset="0.224" stop-color="#0083ff"/><stop offset="0.288" stop-color="#7979ff"/><stop offset="0.364" stop-color="#a46aff"/><stop offset="0.455" stop-color="#c94dff"/><stop offset="0.524" stop-color="#e000ff"/><stop offset="0.63" stop-color="#ff00ff"/><stop offset="0.727" stop-color="#ff00e7"/><stop offset="0.818" stop-color="#ff00d5"/><stop offset="0.909" stop-color="#ff00c5"/><stop offset="1" stop-color="#ff00b7"/></linearGradient><linearGradient id="g105" gradientUnits="userSpaceOnUse" x1="308.02" x2="414.88" y1="0" y2="0"><stop offset="0" stop-color="#0095ff"/><stop offset="0.1" stop-color="#008cff"/><stop offset="0.222" stop-color="#007dff"/><stop offset="0.283" stop-color="#7474ff"/><stop offset="0.4" stop-color="#b059ff"/><stop offset="0.508" stop-color="#d600ff"/><stop offset="0.6" stop-color="#f100ff"/><stop offset="0.654" stop-color="#ff00ff"/><stop offset="0.7" stop-color="#ff00f3"/><stop offset="0.8" stop-color="#ff00de"/><stop offset="0.9" stop-color="#ff00cd"/><stop offset="1" stop-color="#ff00be"/></linearGradient><linearGradient id="g106" gradientUnits="userSpaceOnUse" x1="308.78" x2="410.55" y1="0" y2="0"><stop offset="0" stop-color="#0090ff"/><stop offset="0.1" stop-color="#0087ff"/><stop offset="0.22" stop-color="#0078ff"/><stop offset="0.278" stop-color="#6e6eff"/><stop offset="0.4" stop-color="#ad50ff"/><stop offset="0.49" stop-color="#cb00ff"/><stop offset="0.6" stop-color="#eb00ff"/><stop offset="0.68" stop-color="#ff00ff"/><stop offset="0.8" stop-color="#ff00e5"/><stop offset="0.9" stop-color="#ff00d3"/><stop offset="1" stop-color="#ff00c4"/></linearGradient><linearGradient id="g107" gradientUnits="userSpaceOnUse" x1="309.54" x2="406.22" y1="0" y2="0"><stop offset="0" stop-color="#008bff"/><stop offset="0.111" stop-color="#0080ff"/><stop offset="0.218" stop-color="#0072ff"/><stop offset="0.272" stop-color="#6969ff"/><stop offset="0.333" stop-color="#8d5bff"/><stop offset="0.47" stop-color="#c100ff"/><stop offset="0.556" stop-color="#d900ff"/><stop offset="0.667" stop-color="#f500ff"/><stop offset="0.709" stop-color="#ff00ff"/><stop offset="0.778" stop-color="#ff00f0"/><stop offset="0.889" stop-color="#ff00dc"/><stop offset="1" stop-color="#ff00cb"/></linearGradient><linearGradient id="g108" gradientUnits="userSpaceOnUse" x1="310.34" x2="401.88" y1="0" y2="0"><stop offset="0" stop-color="#0086ff"/><stop offset="0.111" stop-color="#007aff"/><stop offset="0.216" stop-color="#006bff"/><stop offset="0.265" stop-color="#6363ff"/><stop offset="0.333" stop-color="#8b53ff"/><stop offset="0.448" stop-color="#b500ff"/><stop offset="0.556" stop-color="#d400ff"/><stop offset="0.667" stop-color="#ef00ff"/><stop offset="0.741" stop-color="#ff00ff"/><stop offset="0.778" stop-color="#ff00f7"/><stop offset="0.889" stop-color="#ff00e3"/><stop offset="1" stop-color="#ff00d2"/></linearGradient><linearGradient id="g109" gradientUnits="userSpaceOnUse" x1="311.14" x2="397.55" y1="0" y2="0"><stop offset="0" stop-color="#0080ff"/><stop offset="0.125" stop-color="#0072ff"/><stop offset="0.213" stop-color="#0064ff"/><stop offset="0.258" stop-color="#5c5cff"/><stop offset="0.375" stop-color="#9937ff"/><stop offset="0.423" stop-color="#a900ff"/><stop offset="0.5" stop-color="#c000ff"/><stop offset="0.625" stop-color="#df00ff"/><stop offset="0.777" stop-color="#ff00ff"/><stop offset="0.875" stop-color="#ff00ed"/><stop offset="1" stop-color="#ff00da"/></linearGradient><linearGradient id="g110" gradientUnits="userSpaceOnUse" x1="311.97" x2="393.22" y1="0" y2="0"><stop offset="0" stop-color="#0079ff"/><stop offset="0.125" stop-color="#006aff"/><stop offset="0.209" stop-color="#005dff"/><stop offset="0.249" stop-color="#5555ff"/><stop offset="0.394" stop-color="#9d00ff"/><stop offset="0.5" stop-color="#bb00ff"/><stop offset="0.625" stop-color="#d900ff"/><stop offset="0.75" stop-color="#f200ff"/><stop offset="0.817" stop-color="#ff00ff"/><stop offset="0.875" stop-color="#ff00f5"/><stop offset="1" stop-color="#ff00e2"/></linearGradient><linearGradient id="g111" gradientUnits="userSpaceOnUse" x1="312.83" x2="388.88" y1="0" y2="0"><stop offset="0" stop-color="#0072ff"/><stop offset="0.143" stop-color="#005fff"/><stop offset="0.205" stop-color="#0054ff"/><stop offset="0.238" stop-color="#4d4dff"/><stop offset="0.286" stop-color="#6e3fff"/><stop offset="0.362" stop-color="#8e00ff"/><stop offset="0.429" stop-color="#a400ff"/><stop offset="0.571" stop-color="#c700ff"/><stop offset="0.714" stop-color="#e400ff"/><stop offset="0.863" stop-color="#ff00ff"/><stop offset="1" stop-color="#ff00ea"/></linearGradient><linearGradient id="g112" gradientUnits="userSpaceOnUse" x1="313.73" x2="384.55" y1="0" y2="0"><stop offset="0" stop-color="#006aff"/><stop offset="0.143" stop-color="#0056ff"/><stop offset="0.199" stop-color="#004aff"/><stop offset="0.226" stop-color="#4343ff"/><stop offset="0.286" stop-color="#6d2cff"/><stop offset="0.324" stop-color="#7e00ff"/><stop offset="0.429" stop-color="#a000ff"/><stop offset="0.571" stop-color="#c200ff"/><stop offset="0.714" stop-color="#dd00ff"/><stop offset="0.857" stop-color="#f600ff"/><stop offset="0.915" stop-color="#ff00ff"/><stop offset="1" stop-color="#ff00f2"/></linearGradient><linearGradient id="g113" gradientUnits="userSpaceOnUse" x1="314.66" x2="380.22" y1="0" y2="0"><stop offset="0" stop-color="#0061ff"/><stop offset="0.193" stop-color="#003dff"/><stop offset="0.211" stop-color="#3737ff"/><stop offset="0.281" stop-color="#6a00ff"/><stop offset="0.333" stop-color="#7f00ff"/><stop offset="0.5" stop-color="#ad00ff"/><stop offset="0.667" stop-color="#ce00ff"/><stop offset="0.833" stop-color="#ea00ff"/><stop offset="0.976" stop-color="#ff00ff"/><stop offset="1" stop-color="#ff00fc"/></linearGradient><linearGradient id="g114" gradientUnits="userSpaceOnUse" x1="315.67" x2="375.88" y1="0" y2="0"><stop offset="0" stop-color="#0056ff"/><stop offset="0.184" stop-color="#002aff"/><stop offset="0.193" stop-color="#2525ff"/><stop offset="0.228" stop-color="#4d00ff"/><stop offset="0.333" stop-color="#7e00ff"/><stop offset="0.5" stop-color="#a800ff"/><stop offset="0.667" stop-color="#c700ff"/><stop offset="0.833" stop-color="#e100ff"/><stop offset="1" stop-color="#f900ff"/></linearGradient><linearGradient id="g115" gradientUnits="userSpaceOnUse" x1="316.73" x2="371.55" y1="0" y2="0"><stop offset="0" stop-color="#0048ff"/><stop offset="0.165" stop-color="#0000ff"/><stop offset="0.171" stop-color="#0000ff"/><stop offset="0.172" stop-color="#0000ff"/><stop offset="0.4" stop-color="#8e00ff"/><stop offset="0.6" stop-color="#b600ff"/><stop offset="0.8" stop-color="#d500ff"/><stop offset="1" stop-color="#ef00ff"/></linearGradient><linearGradient id="g116" gradientUnits="userSpaceOnUse" x1="317.86" x2="367.22" y1="0" y2="0"><stop offset="0" stop-color="#0034ff"/><stop offset="0.086" stop-color="#0000ff"/><stop offset="0.142" stop-color="#0000ff"/><stop offset="0.157" stop-color="#0000ff"/><stop offset="0.4" stop-color="#8b00ff"/><stop offset="0.6" stop-color="#b000ff"/><stop offset="0.8" stop-color="#cd00ff"/><stop offset="1" stop-color="#e500ff"/></linearGradient><linearGradient id="g117" gradientUnits="userSpaceOnUse" x1="319.08" x2="362.88" y1="0" y2="0"><stop offset="0" stop-color="#0000ff"/><stop offset="0.105" stop-color="#0000ff"/><stop offset="0.137" stop-color="#0000ff"/><stop offset="0.25" stop-color="#6200ff"/><stop offset="0.5" stop-color="#9b00ff"/><stop offset="0.75" stop-color="#be00ff"/><stop offset="1" stop-color="#db00ff"/></linearGradient><linearGradient id="g118" gradientUnits="userSpaceOnUse" x1="320.41" x2="358.55" y1="0" y2="0"><stop offset="0" stop-color="#0000ff"/><stop offset="0.053" stop-color="#0000ff"/><stop offset="0.107" stop-color="#0000ff"/><stop offset="0.25" stop-color="#6500ff"/><stop offset="0.5" stop-color="#9600ff"/><stop offset="0.75" stop-color="#b700ff"/><stop offset="1" stop-color="#d100ff"/></linearGradient><linearGradient id="g119" gradientUnits="userSpaceOnUse" x1="321.91" x2="354.22" y1="0" y2="0"><stop offset="0" stop-color="#0000ff"/><stop offset="0.063" stop-color="#0000ff"/><stop offset="0.333" stop-color="#7900ff"/><stop offset="0.667" stop-color="#a600ff"/><stop offset="1" stop-color="#c600ff"/></linearGradient><linearGradient id="g120" gradientUnits="userSpaceOnUse" x1="323.7" x2="349.88" y1="0" y2="0"><stop offset="0" stop-color="#1900ff"/><stop offset="0.333" stop-color="#7a00ff"/><stop offset="0.667" stop-color="#9f00ff"/><stop offset="1" stop-color="#bb00ff"/></linearGradient><linearGradient id="g121" gradientUnits="userSpaceOnUse" x1="325.73" x2="345.55" y1="0" y2="0"><stop offset="0" stop-color="#4d00ff"/><stop offset="0.5" stop-color="#8b00ff"/><stop offset="1" stop-color="#af00ff"/></linearGradient><linearGradient id="g122" gradientUnits="userSpaceOnUse" x1="328.01" x2="341.22" y1="0" y2="0"><stop offset="0" stop-color="#6500ff"/><stop offset="0.5" stop-color="#8900ff"/><stop offset="1" stop-color="#a200ff"/></linearGradient><linearGradient id="g123" gradientUnits="userSpaceOnUse" x1="330.28" x2="336.88" y1="0" y2="0"><stop offset="0" stop-color="#7600ff"/><stop offset="1" stop-color="#9400ff"/></linearGradient><linearGradient id="g124" gradientUnits="userSpaceOnUse" x1="332.02" x2="334.25" y1="0" y2="0"><stop offset="0" stop-color="#8100ff"/><stop offset="1" stop-color="#8a00ff"/></linearGradient></defs>
<g clip-path="url(#ce)"><rect x="297.41" y="356" width="17.74" height="2.6" fill="url(#g0)"/><rect x="294.56" y="358" width="25.46" height="2.6" fill="url(#g1)"/><rect x="292.64" y="360" width="31.43" height="2.6" fill="url(#g2)"/><rect x="291.17" y="362" width="36.55" height="2.6" fill="url(#g3)"/><rect x="289.96" y="364" width="41.19" height="2.6" fill="url(#g4)"/><rect x="288.83" y="366" width="45.56" height="2.6" fill="url(#g5)"/><rect x="288.02" y="368" width="49.47" height="2.6" fill="url(#g6)"/><rect x="287.2" y="370" width="53.25" height="2.6" fill="url(#g7)"/><rect x="286.43" y="372" width="56.85" height="2.6" fill="url(#g8)"/><rect x="285.87" y="374" width="60.13" height="2.6" fill="url(#g9)"/><rect x="285.32" y="376" width="63.33" height="2.6" fill="url(#g10)"/><rect x="284.77" y="378" width="66.47" height="2.6" fill="url(#g11)"/><rect x="284.31" y="380" width="69.44" height="2.6" fill="url(#g12)"/><rect x="283.95" y="382" width="72.25" height="2.6" fill="url(#g13)"/><rect x="283.6" y="384" width="75.02" height="2.6" fill="url(#g14)"/><rect x="283.24" y="386" width="77.74" height="2.6" fill="url(#g15)"/><rect x="282.92" y="388" width="80.39" height="2.6" fill="url(#g16)"/><rect x="282.71" y="390" width="82.89" height="2.6" fill="url(#g17)"/><rect x="282.5" y="392" width="85.35" height="2.6" fill="url(#g18)"/><rect x="282.29" y="394" width="87.79" height="2.6" fill="url(#g19)"/><rect x="282.08" y="396" width="90.21" height="2.6" fill="url(#g20)"/><rect x="281.92" y="398" width="92.55" height="2.6" fill="url(#g21)"/><rect x="281.82" y="400" width="94.82" height="2.6" fill="url(#g22)"/><rect x="281.73" y="402" width="97.06" height="2.6" fill="url(#g23)"/><rect x="281.64" y="404" width="99.29" height="2.6" fill="url(#g24)"/><rect x="281.54" y="406" width="101.51" height="2.6" fill="url(#g25)"/><rect x="281.47" y="408" width="103.7" height="2.6" fill="url(#g26)"/><rect x="281.47" y="410" width="105.81" height="2.6" fill="url(#g27)"/><rect x="281.47" y="412" width="107.9" height="2.6" fill="url(#g28)"/><rect x="281.47" y="414" width="109.99" height="2.6" fill="url(#g29)"/><rect x="281.46" y="416" width="112.07" height="2.6" fill="url(#g30)"/><rect x="281.46" y="418" width="114.14" height="2.6" fill="url(#g31)"/><rect x="281.46" y="420" width="116.2" height="2.6" fill="url(#g32)"/><rect x="281.52" y="422" width="118.19" height="2.6" fill="url(#g33)"/><rect x="281.6" y="424" width="120.17" height="2.6" fill="url(#g34)"/><rect x="281.67" y="426" width="122.14" height="2.6" fill="url(#g35)"/><rect x="281.75" y="428" width="124.1" height="2.6" fill="url(#g36)"/><rect x="281.82" y="430" width="126.07" height="2.6" fill="url(#g37)"/><rect x="281.9" y="432" width="128.04" height="2.6" fill="url(#g38)"/><rect x="282.04" y="434" width="129.94" height="2.6" fill="url(#g39)"/><rect x="282.18" y="436" width="131.84" height="2.6" fill="url(#g40)"/><rect x="282.32" y="438" width="133.73" height="2.6" fill="url(#g41)"/><rect x="282.46" y="440" width="135.62" height="2.6" fill="url(#g42)"/><rect x="282.6" y="442" width="137.5" height="2.6" fill="url(#g43)"/><rect x="282.74" y="444" width="139.39" height="2.6" fill="url(#g44)"/><rect x="282.93" y="446" width="141.21" height="2.6" fill="url(#g45)"/><rect x="283.13" y="448" width="143.04" height="2.6" fill="url(#g46)"/><rect x="283.33" y="450" width="144.86" height="2.6" fill="url(#g47)"/><rect x="283.52" y="452" width="146.68" height="2.6" fill="url(#g48)"/><rect x="283.72" y="454" width="148.5" height="2.6" fill="url(#g49)"/><rect x="283.92" y="456" width="150.32" height="2.6" fill="url(#g50)"/><rect x="284.15" y="458" width="152.11" height="2.6" fill="url(#g51)"/><rect x="284.39" y="460" width="153.88" height="2.6" fill="url(#g52)"/><rect x="284.64" y="462" width="155.65" height="2.6" fill="url(#g53)"/><rect x="284.88" y="464" width="157.42" height="2.6" fill="url(#g54)"/><rect x="285.13" y="466" width="159.2" height="2.6" fill="url(#g55)"/><rect x="285.38" y="468" width="160.98" height="2.6" fill="url(#g56)"/><rect x="285.64" y="470" width="162.74" height="2.6" fill="url(#g57)"/><rect x="285.93" y="472" width="164.47" height="2.6" fill="url(#g58)"/><rect x="286.23" y="474" width="166.21" height="2.6" fill="url(#g59)"/><rect x="286.52" y="476" width="167.94" height="2.6" fill="url(#g60)"/><rect x="286.81" y="478" width="169.66" height="2.6" fill="url(#g61)"/><rect x="287.1" y="480" width="171.38" height="2.6" fill="url(#g62)"/><rect x="287.4" y="482" width="173.09" height="2.6" fill="url(#g63)"/><rect x="287.74" y="484" width="174.77" height="2.6" fill="url(#g64)"/><rect x="288.07" y="486" width="176.45" height="2.6" fill="url(#g65)"/><rect x="288.41" y="488" width="178.13" height="2.6" fill="url(#g66)"/><rect x="288.74" y="490" width="179.82" height="2.6" fill="url(#g67)"/><rect x="289.08" y="492" width="181.5" height="2.6" fill="url(#g68)"/><rect x="289.42" y="494" width="183.18" height="2.6" fill="url(#g69)"/><rect x="289.8" y="496" width="184.83" height="2.6" fill="url(#g70)"/><rect x="290.17" y="498" width="186.48" height="2.6" fill="url(#g71)"/><rect x="290.55" y="500" width="188.14" height="2.6" fill="url(#g72)"/><rect x="290.92" y="502" width="189.8" height="2.6" fill="url(#g73)"/><rect x="291.3" y="504" width="191.45" height="2.6" fill="url(#g74)"/><rect x="291.68" y="506" width="193.08" height="2.6" fill="url(#g75)"/><rect x="292.1" y="508" width="194.67" height="2.6" fill="url(#g76)"/><rect x="292.51" y="510" width="196.26" height="2.6" fill="url(#g77)"/><rect x="292.93" y="512" width="197.88" height="2.6" fill="url(#g78)"/><rect x="293.34" y="514" width="199.49" height="2.6" fill="url(#g79)"/><rect x="293.76" y="516" width="201.09" height="2.6" fill="url(#g80)"/><rect x="294.2" y="518" width="202.66" height="2.6" fill="url(#g81)"/><rect x="294.65" y="520" width="204.24" height="2.6" fill="url(#g82)"/><rect x="295.1" y="522" width="205.81" height="2.6" fill="url(#g83)"/><rect x="295.55" y="524" width="206.37" height="2.6" fill="url(#g84)"/><rect x="296.01" y="526" width="205.55" height="2.6" fill="url(#g85)"/><rect x="296.48" y="528" width="200.74" height="2.6" fill="url(#g86)"/><rect x="296.98" y="530" width="195.91" height="2.6" fill="url(#g87)"/><rect x="297.47" y="532" width="191.08" height="2.6" fill="url(#g88)"/><rect x="297.97" y="534" width="186.25" height="2.6" fill="url(#g89)"/><rect x="298.47" y="536" width="181.42" height="2.6" fill="url(#g90)"/><rect x="299.01" y="538" width="176.54" height="2.6" fill="url(#g91)"/><rect x="299.56" y="540" width="171.66" height="2.6" fill="url(#g92)"/><rect x="300.11" y="542" width="166.77" height="2.6" fill="url(#g93)"/><rect x="300.67" y="544" width="161.89" height="2.6" fill="url(#g94)"/><rect x="301.26" y="546" width="156.96" height="2.6" fill="url(#g95)"/><rect x="301.87" y="548" width="152.01" height="2.6" fill="url(#g96)"/><rect x="302.49" y="550" width="147.06" height="2.6" fill="url(#g97)"/><rect x="303.1" y="552" width="142.11" height="2.6" fill="url(#g98)"/><rect x="303.77" y="554" width="137.11" height="2.6" fill="url(#g99)"/><rect x="304.45" y="556" width="132.1" height="2.6" fill="url(#g100)"/><rect x="305.12" y="558" width="127.09" height="2.6" fill="url(#g101)"/><rect x="305.82" y="560" width="122.06" height="2.6" fill="url(#g102)"/><rect x="306.55" y="562" width="117" height="2.6" fill="url(#g103)"/><rect x="307.27" y="564" width="111.94" height="2.6" fill="url(#g104)"/><rect x="308.02" y="566" width="106.87" height="2.6" fill="url(#g105)"/><rect x="308.78" y="568" width="101.77" height="2.6" fill="url(#g106)"/><rect x="309.54" y="570" width="96.68" height="2.6" fill="url(#g107)"/><rect x="310.34" y="572" width="91.55" height="2.6" fill="url(#g108)"/><rect x="311.14" y="574" width="86.41" height="2.6" fill="url(#g109)"/><rect x="311.97" y="576" width="81.25" height="2.6" fill="url(#g110)"/><rect x="312.83" y="578" width="76.06" height="2.6" fill="url(#g111)"/><rect x="313.73" y="580" width="70.82" height="2.6" fill="url(#g112)"/><rect x="314.66" y="582" width="65.55" height="2.6" fill="url(#g113)"/><rect x="315.67" y="584" width="60.21" height="2.6" fill="url(#g114)"/><rect x="316.73" y="586" width="54.82" height="2.6" fill="url(#g115)"/><rect x="317.86" y="588" width="49.36" height="2.6" fill="url(#g116)"/><rect x="319.08" y="590" width="43.81" height="2.6" fill="url(#g117)"/><rect x="320.41" y="592" width="38.14" height="2.6" fill="url(#g118)"/><rect x="321.91" y="594" width="32.31" height="2.6" fill="url(#g119)"/><rect x="323.7" y="596" width="26.19" height="2.6" fill="url(#g120)"/><rect x="325.73" y="598" width="19.82" height="2.6" fill="url(#g121)"/><rect x="328.01" y="600" width="13.2" height="2.6" fill="url(#g122)"/><rect x="330.28" y="602" width="6.61" height="2.6" fill="url(#g123)"/><rect x="332.02" y="604" width="2.23" height="2.6" fill="url(#g124)"/></g>
<path d="M295.48 336.27V604.2M310.45 336.27V604.2M325.43 336.27V604.2M340.4 336.27V604.2M355.38 336.27V604.2M370.35 336.27V604.2M385.33 336.27V604.2M400.3 336.27V604.2M415.27 336.27V604.2M430.25 336.27V604.2M445.23 336.27V604.2M460.2 336.27V604.2M475.18 336.27V604.2M490.15 336.27V604.2M505.12 336.27V604.2M280.5 589.32H520.1M280.5 574.43H520.1M280.5 559.55H520.1M280.5 544.66H520.1M280.5 529.78H520.1M280.5 514.89H520.1M280.5 500.01H520.1M280.5 485.12H520.1M280.5 470.24H520.1M280.5 455.35H520.1M280.5 440.47H520.1M280.5 425.58H520.1M280.5 410.7H520.1M280.5 395.81H520.1M280.5 380.93H520.1M280.5 366.04H520.1M280.5 351.16H520.1" stroke="#000" stroke-opacity="0.03" stroke-width="0.7" fill="none"/>
<rect x="280.5" y="336.27" width="239.6" height="267.93" fill="none" stroke="#e8e8e8" stroke-width="0.9"/>
<text x="280.2" y="626.9" font-size="12.2" text-anchor="middle" font-family='"Liberation Sans", "DejaVu Sans", sans-serif' fill="#000" letter-spacing="1.8">0</text>
<text x="340.1" y="626.9" font-size="12.2" text-anchor="middle" font-family='"Liberation Sans", "DejaVu Sans", sans-serif' fill="#000" letter-spacing="1.8">0.2</text>
<text x="400" y="626.9" font-size="12.2" text-anchor="middle" font-family='"Liberation Sans", "DejaVu Sans", sans-serif' fill="#000" letter-spacing="1.8">0.4</text>
<text x="459.9" y="626.9" font-size="12.2" text-anchor="middle" font-family='"Liberation Sans", "DejaVu Sans", sans-serif' fill="#000" letter-spacing="1.8">0.6</text>
<text x="273.5" y="611.1" font-size="12.2" text-anchor="end" font-family='"Liberation Sans", "DejaVu Sans", sans-serif' fill="#000" letter-spacing="1.8">0</text>
<text x="273.5" y="551.56" font-size="12.2" text-anchor="end" font-family='"Liberation Sans", "DejaVu Sans", sans-serif' fill="#000" letter-spacing="1.8">0.2</text>
<text x="273.5" y="492.02" font-size="12.2" text-anchor="end" font-family='"Liberation Sans", "DejaVu Sans", sans-serif' fill="#000" letter-spacing="1.8">0.4</text>
<text x="273.5" y="432.48" font-size="12.2" text-anchor="end" font-family='"Liberation Sans", "DejaVu Sans", sans-serif' fill="#000" letter-spacing="1.8">0.6</text>
<text x="273.5" y="372.94" font-size="12.2" text-anchor="end" font-family='"Liberation Sans", "DejaVu Sans", sans-serif' fill="#000" letter-spacing="1.8">0.8</text>
<text x="378.3" y="642.2" font-size="13.5" text-anchor="middle" font-family='"Liberation Sans", "DejaVu Sans", sans-serif' fill="#111" >x</text>
<text x="242.5" y="475.6" font-size="13.5" text-anchor="middle" font-family='"Liberation Sans", "DejaVu Sans", sans-serif' fill="#111" >y</text>
<text x="303.9" y="349.3" font-size="10.1" text-anchor="middle" font-family='"Liberation Sans", "DejaVu Sans", sans-serif' fill="#3a74d0" >520</text>
<text x="360.3" y="374" font-size="10.1" text-anchor="middle" font-family='"Liberation Sans", "DejaVu Sans", sans-serif' fill="#3a74d0" >540</text>
<text x="404" y="413.2" font-size="10.1" text-anchor="middle" font-family='"Liberation Sans", "DejaVu Sans", sans-serif' fill="#3a74d0" >560</text>
<text x="444.7" y="454.9" font-size="10.1" text-anchor="middle" font-family='"Liberation Sans", "DejaVu Sans", sans-serif' fill="#3a74d0" >580</text>
<text x="480.2" y="489.8" font-size="10.1" text-anchor="middle" font-family='"Liberation Sans", "DejaVu Sans", sans-serif' fill="#3a74d0" >600</text>
<text x="498.4" y="508" font-size="10.1" text-anchor="middle" font-family='"Liberation Sans", "DejaVu Sans", sans-serif' fill="#3a74d0" >620</text>
<text x="511.6" y="528.7" font-size="10.1" text-anchor="middle" font-family='"Liberation Sans", "DejaVu Sans", sans-serif' fill="#3a74d0" >700</text>
<text x="272" y="449" font-size="10.1" text-anchor="middle" font-family='"Liberation Sans", "DejaVu Sans", sans-serif' fill="#3a74d0" >500</text>
<text x="282.7" y="523.2" font-size="10.1" text-anchor="middle" font-family='"Liberation Sans", "DejaVu Sans", sans-serif' fill="#3a74d0" >490</text>
<text x="296.6" y="570.1" font-size="10.1" text-anchor="middle" font-family='"Liberation Sans", "DejaVu Sans", sans-serif' fill="#3a74d0" >480</text>
<text x="306.6" y="592.9" font-size="10.1" text-anchor="middle" font-family='"Liberation Sans", "DejaVu Sans", sans-serif' fill="#3a74d0" >470</text>
<text x="313.1" y="603" font-size="10.1" text-anchor="middle" font-family='"Liberation Sans", "DejaVu Sans", sans-serif' fill="#3a74d0" >460</text>
<text x="323.6" y="613.5" font-size="10.1" text-anchor="middle" font-family='"Liberation Sans", "DejaVu Sans", sans-serif' fill="#3a74d0" >380</text>
<circle cx="374" cy="505.8" r="0.7" fill="#222"/>
<text x="377.5" y="515.7" font-size="12.7" text-anchor="start" font-family='"Liberation Sans", "DejaVu Sans", sans-serif' fill="#111" >white point</text>
<polygon points="344,518.5 347.2,524.05 340.8,524.05" fill="#000"/>
<polygon points="337.5,529.2 338.35,531.63 340.92,531.69 338.88,533.25 339.62,535.71 337.5,534.25 335.38,535.71 336.12,533.25 334.08,531.69 336.65,531.63" fill="#000"/>
<circle cx="352" cy="534" r="3" fill="#000"/>
<polygon points="339.5,539.8 342.73,542.15 341.5,545.95 337.5,545.95 336.27,542.15" fill="#000"/>
<rect x="353" y="540.3" width="5.5" height="5.5" fill="#000"/>
<polygon points="340,549.9 340.82,552.07 343.14,552.18 341.33,553.63 341.94,555.87 340,554.6 338.06,555.87 338.67,553.63 336.86,552.18 339.18,552.07" fill="none" stroke="#111" stroke-width="0.8"/>
<circle cx="325.6" cy="568.9" r="2.7" fill="none" stroke="#111" stroke-width="0.9"/>
</svg>
</body></html>
